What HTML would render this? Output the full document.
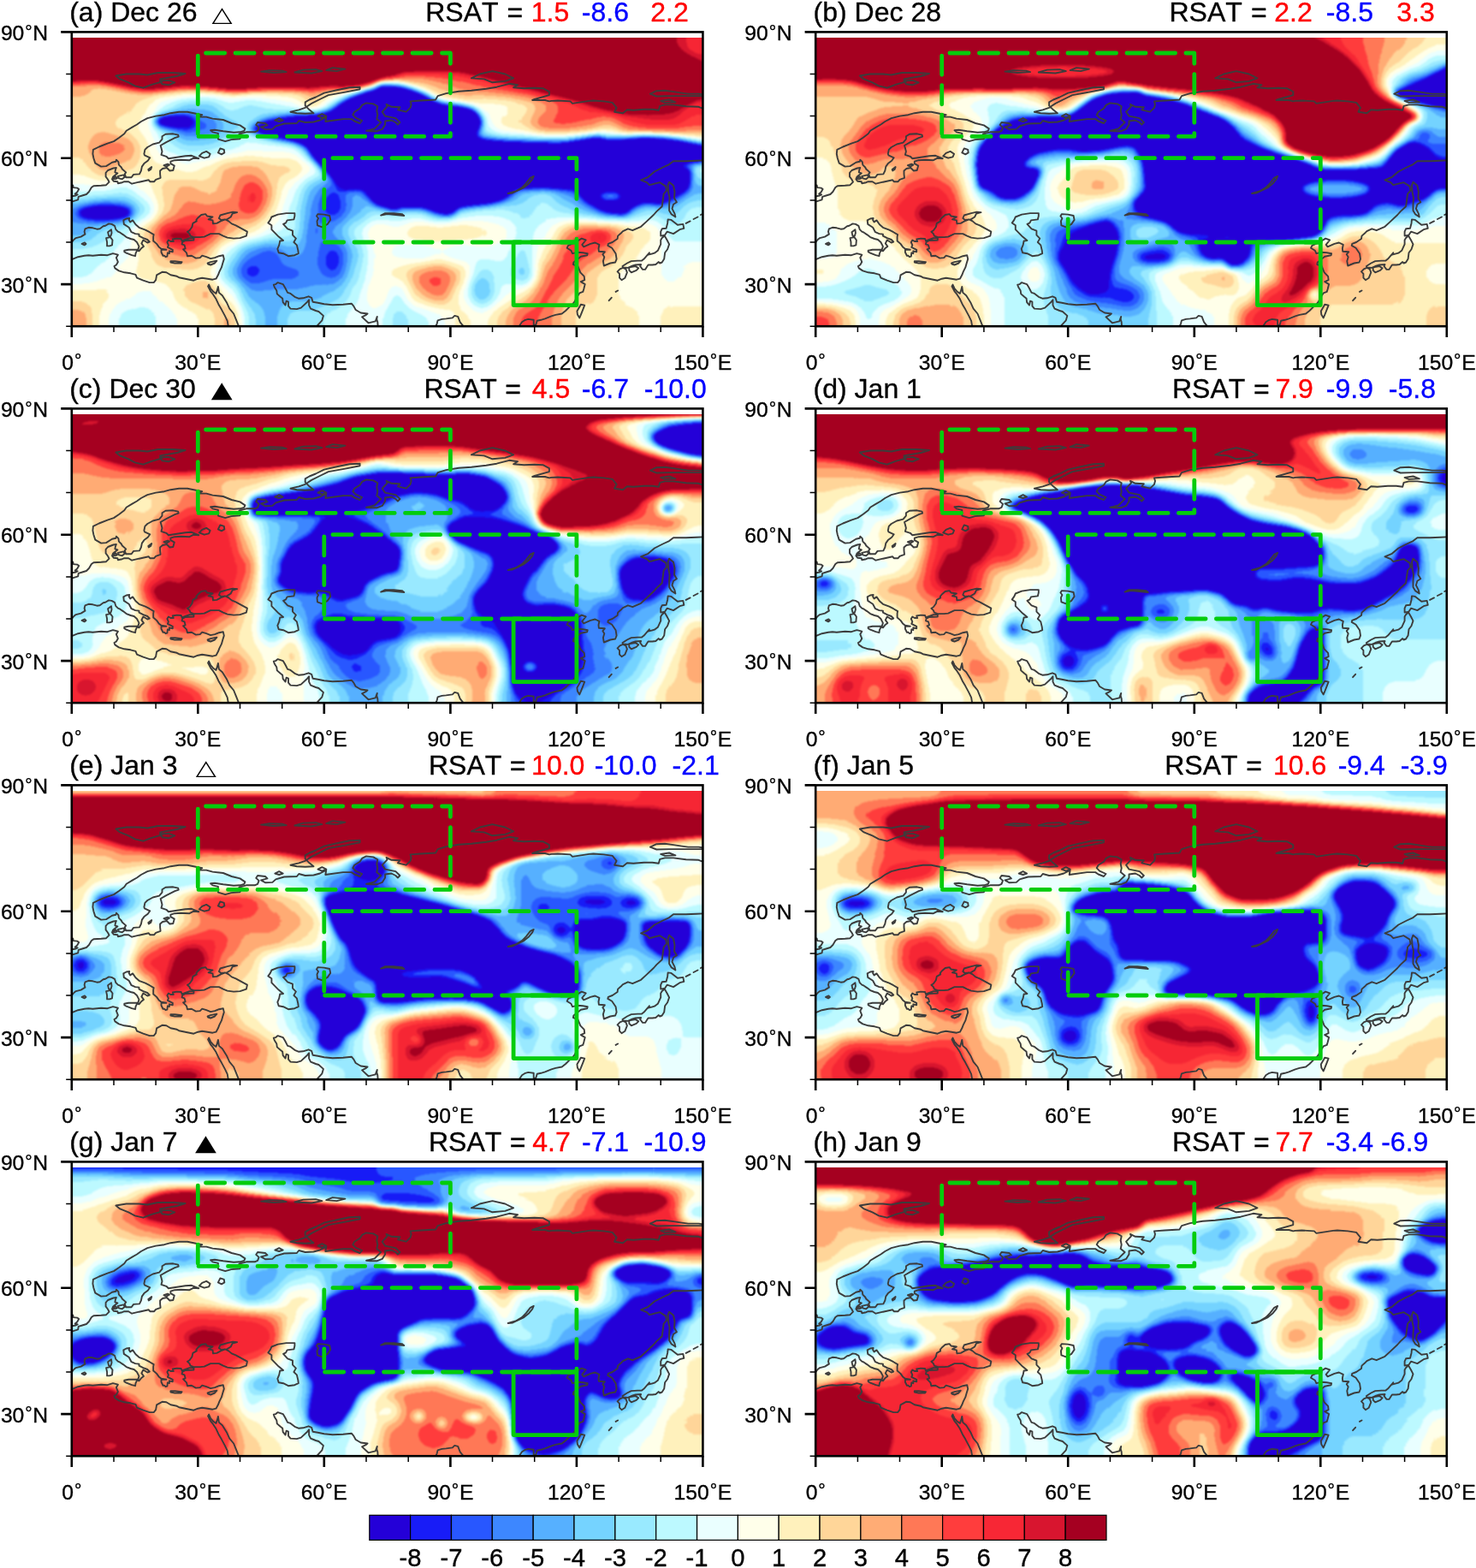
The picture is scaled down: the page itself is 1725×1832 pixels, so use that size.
<!DOCTYPE html>
<html lang="en"><head><meta charset="utf-8"><title>RSAT anomaly maps</title>
<style>
html,body{margin:0;padding:0;background:#fff;}
body{width:1725px;height:1832px;overflow:hidden;}
svg{display:block;}
text{font-family:"Liberation Sans",Arial,Helvetica,sans-serif;fill:#000;stroke:#000;stroke-width:0.35px;}
.tt{font-size:32px;font-kerning:none;}
.tr{font-family:"DejaVu Sans","Liberation Sans",sans-serif;stroke:none;}
.tk{font-size:24.7px;}
.dg{font-size:21px;}
.cb{font-size:29.2px;}
.r{fill:#ff0000;stroke:#ff0000;}.b{fill:#0000ff;stroke:#0000ff;}
.fr{fill:none;stroke:#000;stroke-width:2.6;}
.mj{stroke:#000;stroke-width:2.6;}
.mn{stroke:#000;stroke-width:1.5;}
.gd{fill:none;stroke:#04cc0c;stroke-width:4.8;stroke-dasharray:22.2 12.3;stroke-dashoffset:33.8;stroke-linecap:round;stroke-linejoin:round;}
.gs{fill:none;stroke:#04cc0c;stroke-width:4.8;stroke-linejoin:round;}
.cst{fill:none;stroke:#3c3c3c;stroke-width:1.9;stroke-linejoin:round;stroke-linecap:round;}
</style></head><body>
<svg width="1725" height="1832" viewBox="0 0 1725 1832">
<defs>
<filter id="gblur" filterUnits="userSpaceOnUse" x="-60" y="-60" width="857" height="463" color-interpolation-filters="sRGB"><feGaussianBlur stdDeviation="7.5"/></filter>
<filter id="fld" filterUnits="userSpaceOnUse" x="-60" y="-60" width="857" height="463" color-interpolation-filters="sRGB">
<feGaussianBlur stdDeviation="4.0"/>
<feComponentTransfer><feFuncR type="discrete" tableValues="0.1412 0.1412 0.1412 0.1412 0.1412 0.0941 0.1569 0.2392 0.3373 0.4588 0.6000 0.7373 0.9176 1.0000 1.0000 1.0000 1.0000 1.0000 1.0000 0.9686 0.8471 0.6471 0.6471 0.6471 0.6471 0.6471"/><feFuncG type="discrete" tableValues="0.0000 0.0000 0.0000 0.0000 0.0000 0.1098 0.3412 0.5294 0.6902 0.8275 0.9176 0.9765 1.0000 1.0000 0.9451 0.8392 0.6745 0.4706 0.2392 0.1529 0.0824 0.0000 0.0000 0.0000 0.0000 0.0000"/><feFuncB type="discrete" tableValues="0.8471 0.8471 0.8471 0.8471 0.8471 0.9686 1.0000 1.0000 1.0000 1.0000 1.0000 1.0000 1.0000 0.9176 0.7373 0.6000 0.4588 0.3373 0.2392 0.2078 0.1843 0.1294 0.1294 0.1294 0.1294 0.1294"/><feFuncA type="discrete" tableValues="1 1"/></feComponentTransfer>
<feGaussianBlur stdDeviation="1.1"/>
</filter>
<clipPath id="cp"><rect x="0" y="6.6" width="737.6" height="337.2"/></clipPath>
<path id="coast" class="cst" d="M-2.5 199.9L1 197.9L7.4 196L7.9 192.5L12.3 191.1L17.2 189.6L20.2 186.6L23.1 181.7L25.6 179.8L34.4 179.3L40.3 178.8L42.3 176.8L43.8 175.3L42.3 172.4L39.8 169L39.8 164.5L42.3 161.6L48.7 159.1L52.1 158.6L51.1 161.1L50.6 164L53.6 165L50.2 167.5L48.2 169.4L47.2 171.9L49.2 174.4L53.6 174.8L54.1 176.8L59 175.8L61.5 174.8L66.4 174.8L70.3 177.3L78.7 175.3L90 172.9L91.5 174.8L96.4 174.8L98.3 172.4L103.8 170.4L103.3 166L103.3 162.1L106.2 159.6L111.1 158.6L114.6 162.1L118.5 161.6L120 156.2L115.6 153.7L115.6 151.3L120.5 149.8L127.9 149.3L137.7 149.8L142.6 147.3L148.5 147.8L145.1 146.4L140.1 144.4L132.8 144.9L122.9 146.4L113.1 147.8L110.6 145.4L104.7 143.4L105.7 139.5L104.7 135.6L103.8 132.6L110.6 128.7L120.5 123.8L124.9 122.3L124.4 120.3L118.5 118.9L109.7 119.3L105.7 121.8L105.7 125.2L102.3 129.2L94.9 131.1L88.5 134.6L85.6 137.5L84.6 142.4L85.1 143.9L91.5 146.9L89 150.3L84.6 153.7L82.1 157.2L81.1 162.1L79.2 166L72.3 166.5L69.8 169.9L63.4 169.9L62 166L63.4 164L59 160.1L58 158.1L55.1 155.2L54.6 151.8L52.1 149.3L51.6 151.3L47.2 152.3L40.3 156.7L34.4 157.2L27.5 153.2L25.6 147.3L24.6 142.4L25.1 137.5L32 134.1L41.8 130.2L49.2 127.7L55.6 123.3L61.5 118.9L63.9 115.4L70.3 111.5L76.2 108.1L81.1 104.6L88.5 100.7L98.3 98.2L108.2 96.8L115.6 94.8L125.4 93.3L135.2 93.3L140.1 94.3L147.5 95.8L152.4 96.8L147.5 99.2L157.4 99.2L164.7 101.2L177 102.6L186.9 106.6L196.7 109L202.6 113L201.6 115.4L196.7 116.9L189.3 117.4L177 115.9L167.2 114.4L162.3 114.9L164.7 116.9L171.1 118.4L171.1 125.2L179.5 127.7L186.4 125.7L196.7 124.8L198.2 121.3L195.7 119.3L204.1 116.9L213.9 116.9L217.3 115.4L218.8 111.5L215.4 108.5L217.3 105.6L226.2 106.6L228.7 109L221.3 111L226.2 113.9L234.6 113.5L238.5 110L248.3 107.1L263.1 106.6L265.5 103.6L272.9 105.6L282.7 105.1L290.1 103.1L297.5 99.2L296.5 104.6L300 104.1L317.2 101.7L327 101.7L330.4 104.1L336.8 106.6L339.3 103.6L331.9 100.2L328.5 96.8L330.4 93.3L336.8 89.4L339.3 85.5L344.2 83L352.6 84L357.5 86.9L356.5 91.8L357.5 96.8L356.5 101.7L361.4 105.6L354 113L344.2 115.4L349.1 115.9L356.5 115.9L362.9 113.5L366.3 108.1L366.3 104.1L373.7 103.1L378.6 105.6L381.1 108.1L383.6 105.6L378.6 100.7L366.3 98.2L362.9 93.3L368.8 86.9L367.8 84.5L373.7 87.4L383.6 87.9L381.1 90.9L390.9 93.3L395.8 88.4L396.8 84.5L395.8 81L408.1 80.1L425.3 79.1L427.8 74.7L437.6 71.7L452.4 69.3L467.1 68.3L484.4 66.3L496.7 64.3L511.4 60.4L521.2 61.9L516.3 64.8L528.6 65.8L540.9 65.3L550.7 65.8L558.1 69.7L558.1 73.7L540.9 78.6L538.4 79.6L553.2 79.6L558.1 81L560.6 80.5L568 80.1L582.7 81L585.2 83.5L604.8 80.5L609.7 80.1L622 81L631.9 82.5L636.8 88.4L634.3 93.3L644.2 94.8L649.1 90.9L656.5 91.4L668.8 90.4L678.6 90.4L686 91.4L687.4 86.4L693.3 85L703.2 85L717.9 86.9L732.7 87.4L742.5 91.4M742.5 149.8L730.2 150.3L717.9 150.8L703.2 150.8L698.3 154.7L690.9 158.1L681.1 163.1L673.7 169.4L665.3 172.9L672.2 175.8L675.1 178.8L681.1 177.3L687.4 175.8L694.3 180.2L695.3 185.2L691.9 189.1L690.9 196.5L689.9 203.8L683.5 209.7L680.1 213.6L671.2 222L665.3 227.4L655.5 231.8L650.1 229.9L644.2 232.8L642.7 234.3L638.3 238.2L637.8 241.6L631.9 245.6L627 247.5L626.5 249.5L631.4 252.4L635.8 258.8L636.8 265.2L635.3 269.1L629.4 270.1L622 273.1L621.1 267.7L622.5 262.8L620.6 259.8L623 256.9L616.1 256.4L615.7 252.9L616.6 248.5L611.7 246.1L606.3 247.5L598.4 251L596.5 248.5L600.9 243.1L596 241.2L588.1 246.1L580.2 249.5L578.8 252.4L583.7 255.4L585.2 258.8L591.1 257.4L597.5 257.9L602.9 258.8L602.4 260.8L595 262.3L591.6 265.2L586.6 269.1L586.1 271.6L591.6 273.6L594.5 280.9L598.9 285.4L599.4 289.8L595 291.7L599.9 294.7L598.4 300.6L597.5 303.5L593.5 305L590.1 310.4L587.6 315.3L585.2 318.3L581.2 321.7L577.3 325.6L572.9 329.1L565.5 330.5L560.6 332L558.1 333L553.2 335L548.3 336.4L543.9 337.4L542.4 342.3L539.9 342.3L539.9 336.4L533.5 335.5L530.1 336.4L526.2 338.9L524.2 341.8L521.2 346.3M459.8 346.3L453.9 338.9L451.4 332.5L447.5 331.5L445 334L437.6 335L432.7 335.5L427.8 336.9L426.8 340.9L424.4 345.8M358 346.3L357.5 338.9L356.5 335.5L357 332.5L355 337.9L346.7 339.9L339.3 333L344.2 330.5L345.7 329.1L337.8 328.1L331.9 324.6L329.5 320.2L327 317.3L317.2 318.3L304.9 318.8L295 317.8L287.7 316.3L281.8 315.3L280.3 310.4L276.8 308.9L270.5 310.9L265.5 311.4L260.6 309.4L255.7 305.5L252.3 304.5L249.3 298.6L246.9 294.7L240.9 292.7L238.5 294.7L236 295.2L237 298.1L239.5 302.1L240 306L243.9 309.4L246.4 311.4L246.9 315.8L249.8 319.2L250.8 314.3L253.2 315.3L253.2 320.2L255.7 323.2L263.1 323.7L268 322.2L275.4 315.3L277.3 312.9L277.3 319.2L279.3 323.2L285.2 325.6L288.6 326.6L294.1 331.5L292.6 336.9L288.2 341.8L284.2 346.3M196.2 346.3L192.3 336.4L189.3 329.1L184.4 323.2L181 315.8L176 307.9L172.1 304.5L171.1 297.6L169.6 303L168.7 305.5L165.2 303L162.3 299.6L160.3 295.2L159.3 297.1L162.3 303L165.2 306.5L168.7 311.9L172.1 319.2L175.1 324.2L179 331.5L181.9 337.4L183.4 346.3M158.8 288.3L152.4 287.3L147.5 288.3L142.6 290.3L135.2 288.8L125.4 286.8L122.9 285.4L115.6 283.9L110.6 280.9L105.7 280.4L99.3 283.9L98.3 289.8L95.9 292.7L91 292.7L83.6 290.3L76.2 287.3L74.7 283.4L68.8 281.9L61.5 280.9L55.1 279L50.6 276L49.7 273.6L52.1 272.1L54.1 268.7L52.1 263.7L54.1 260.3L50.2 259.3L48.2 258.8L41.8 260.8L34.4 260.3L29.5 260.8L24.6 261.3L19.7 260.8L14.8 261.3L7.4 262.8L-2.5 266.7M158.8 288.3L164.7 289.3L168.7 288.3L171.1 283.9L172.6 280L175.1 275L176.5 270.1L178 265.2L177 260.8L172.1 261.8L167.2 263.7L162.3 264.7L157.4 262.8L152.4 261.3L150 263.7L145.1 264.2L140.1 261.3L135.2 261.8L134.2 257.9L130.3 253.9L132.8 252.9L131.8 249L128.8 248L129.3 245.6L132.8 243.6L142.6 243.1L142.6 240.7L143.6 239.7L150 239.7L154.9 239.2L162.3 235.7L172.1 235.7L177 238.2L181.9 240.2L189.3 241.2L196.7 240.7L204.1 238.2L205.1 233.3L198.2 229.4L191.8 225.9L186.9 224L183.4 221L180.5 219.5L185.9 216.1L187.8 212.2L193.3 210.7L188.3 210.2L181.9 211.7L173.6 214.1L172.1 217.6L174.6 219.5L179.5 219L174.1 221L169.6 223.5L165.2 224L164.7 220L159.8 219L164.7 216.1L158.3 215.1L156.4 212.7L151.5 213.6L147.5 217.1L145.6 219.5L146 221L141.6 223.5L140.6 227.9L137.7 231.8L135.2 233.3L137.7 235.7L138.7 238.2L142.6 239.7M142.6 240.7L137.7 240.7L132.8 242.6L128.8 244.1L127.9 241.6L122.9 241.2L118 242.1L119 244.6L115.6 244.6L113.1 243.1L111.6 245.6L113.1 249L112.1 251.5L118 254.4L118 256.9L114.1 255.9L114.1 258.8L112.1 257.9L111.6 262.3L109.7 262.8L108.2 261.3L106.7 261.3L104.7 257.4L104.7 254.4L110.6 254.4L104.7 253.4L101.8 251L99.3 247.5L95.4 244.1L95.4 239.2L95.9 236.7L91 233.8L86.1 231.3L78.7 228.4L74.7 224.9L71.3 220L68.4 222L66.9 219.5L67.4 217.6L63.9 218.1L60.5 220L61 224.5L66.9 228.4L69.8 233.8L74.3 235.7L78.7 236.2L78.7 238.2L83.6 240.7L88.5 242.6L91 245.1L88.5 246.1L83.6 243.1L81.6 247L84.1 250.5L81.1 252.9L78.7 255.9L77.2 255.4L78.7 250.5L76.2 245.6L72.8 242.6L68.8 241.6L63.9 239.7L60 236.7L56.5 234.3L54.1 233.3L51.6 230.8L50.2 226.4L46.7 224.5L43.3 224L39.3 226.4L36.9 226.9L32.9 229.9L29.5 230.3L24.6 228.9L19.7 228.4L15.7 229.9L14.8 233.3L15.7 236.2L10.8 239.2L4.9 240.7L2.5 242.6L-1.5 247.5M233.6 216.1L240.9 213.2L250.8 211.7L260.6 211.7L260.6 215.1L259.6 219L251.8 220L250.3 223L247.3 224.5L252.3 229.9L258.2 232.3L258.2 237.2L262.1 241.2L259.6 245.6L263.1 249L264.6 255.4L265 258.8L260.6 260.8L253.2 261.8L247.3 258.8L241.9 257.9L240.5 253.4L242.4 249L243.4 244.1L247.3 243.6L241.9 239.2L237.5 234.8L233.6 230.8L233.6 225.9L229.6 223L232.1 219.5ZM287.7 212.7L295 213.2L301.4 214.6L302.4 219.5L299 224.5L292.6 227.9L287.2 225.9L286.7 221L288.2 217.6L286.2 215.1ZM509.9 188.6L515.3 188.1L521.2 185.2L528.6 181.7L534.5 176.8L538.4 171.9L539.9 168.5L536 170.4L531.1 176.8L526.2 181.7L518.8 186.1ZM361.4 214.1L368.8 212.7L378.6 213.6L388.5 214.6L386 212.7L376.2 211.7L366.3 211.7ZM149 144.9L152.4 141.4L157.4 139.5L161.8 142.4L160.3 145.9L154.9 147.3ZM171.1 141L173.6 136L178 137.5L178.5 141L175.1 142.9ZM-2.5 192.5L4.9 191.1L6.9 190.1L3.9 189.1L6.4 187.1L8.4 183.7L6.4 182.2L2 181.7L1.5 179.3L-2.5 177.8M51.6 51.1L63.9 49.1L78.7 49.1L88.5 50.1L100.8 47.6L118 47.6L132.8 48.6L122.9 51.6L103.3 55L105.7 58L93.4 61.4L83.6 65.3L73.8 62.9L66.4 58.9L56.5 55ZM103.3 57L113.1 56.5L120.5 58.9L113.1 61.9L105.7 60.9ZM221.3 46.2L231.1 44.7L245.9 45.2L250.8 46.7L236 47.6ZM260.6 47.1L270.5 44.2L285.2 43.7L292.6 45.7L280.3 48.1ZM297.5 44.7L304.9 41.7L319.6 43.2L309.8 45.7ZM255.7 93.3L263.1 94.8L272.9 95.3L282.7 94.8L277.8 90.9L272.9 86L272.9 82L277.8 79.1L285.2 76.1L295 71.2L309.8 67.8L324.5 64.8L336.8 64.3L336.8 66.8L319.6 70.2L300 73.7L290.1 78.6L280.3 83.5L272.9 88.4L265.5 90.9ZM467.1 54L477 49.1L491.7 45.7L506.5 49.1L516.3 54L506.5 57.5L491.7 58.9L481.9 55ZM676.1 72.2L683.5 68.8L693.3 68.3L703.2 69.7L713 71.2L720.4 72.2L732.7 72.2L742.5 73.7L742.5 74.7L717.9 74.7L698.3 74.7L683.5 75.1ZM688.4 80.5L698.3 79.1L705.6 82L693.3 82.5ZM237.5 103.1L242.4 100.7L246.9 103.1L242.4 104.6ZM287.7 98.2L292.6 95.8L297.5 98.2L292.6 100.2ZM698.3 175.3L703.2 179.3L704.7 186.6L704.2 194L707.1 198.9L703.2 201.4L701.7 206.3L704.7 212.2L705.6 216.1L700.7 212.7L698.3 208.7L698.3 201.4L698.8 194L697.3 186.6L696.8 179.3ZM688.4 238.2L693.3 237.2L695.8 233.3L703.2 235.7L710.6 230.8L715.5 229.4L714.5 224.5L708.1 225.4L700.7 219.5L696.8 219L696.3 223.5L694.8 229.4L689.9 229.9L688.4 233.3ZM717.9 223.5L722.8 221M726.8 218.6L731.7 216.1M735.1 213.6L740.1 211.2M692.9 238.2L695.8 243.1L698.3 248L696.3 253.9L693.3 257.9L692.4 265.2L689.9 269.1L687.4 270.1L686 268.7L682.5 271.6L678.6 272.1L673.7 272.1L672.7 273.6L670.2 277.5L667.3 277.5L664.3 273.6L665.3 271.6L658.9 272.1L654 273.6L650.1 275.5L644.2 275L643.7 273.6L649.1 270.1L654 267.7L661.4 267.2L666.3 267.2L668.8 265.2L672.2 261.3L675.1 257.9L673.7 260.3L681.1 258.3L685 255.4L688.4 248L688.4 243.1L689.9 240.7ZM644.2 275.5L647.6 277L649.1 280.9L646.6 287.3L642.7 289.8L640.2 287.3L640.2 282.4L637.8 280L640.7 277ZM651.5 275L658.9 273.6L662.4 276L659.9 278.5L654 280.9L651.5 278.5ZM635.8 303.5L638.3 302.1M627.9 313.8L630.9 310.4M595 318.3L599.4 319.2L597.5 324.2L595 330.5L593.5 334L591.1 330L590.6 326.1L593.5 321.2ZM535 346.7L538.4 344.3L542.9 343.3L545.8 345.3M61.5 255.4L66.4 254.4L73.8 254.4L76.7 254.4L74.7 258.8L74.3 261.8L70.3 260.8L63.9 258.3L61.5 256.9ZM40.3 240.7L45.2 239.7L47.7 243.1L47.2 249L44.3 250L41.3 250L41.3 245.6ZM42.3 233.8L46.2 230.8L46.7 234.8L45.7 238.2L43.3 238.2ZM115.6 267.7L120.5 267.7L128.8 268.7L127.9 270.1L120.5 270.1L115.6 269.1ZM158.8 270.1L162.3 268.7L169.6 267.2L167.2 270.1L162.3 272.1L159.3 271.1ZM11.8 247.5L15.2 246.1L16.7 247.5L14.8 249ZM54.1 168.5L60.5 167L62 169.4L59 171.9L55.1 170.9ZM48.2 170.9L51.6 169L53.1 170.9L50.6 171.9ZM89.5 160.6L93.4 157.7L92.4 160.6L90 162.1ZM107.7 155.7L112.1 154.2L114.1 155.2L110.6 157.2Z"/>
</defs>
<rect width="1725" height="1832" fill="#fff"/>
<!-- panel a -->
<g transform="translate(83.8 37.4)">
<g clip-path="url(#cp)"><g filter="url(#fld)">
<g filter="url(#gblur)">
<rect x="-40" y="-40" width="753.3" height="64.9" fill="#d3d3d3"/>
<rect x="713" y="-40" width="64.9" height="64.9" fill="#bfbfbf"/>
<rect x="-40" y="24.6" width="753.3" height="24.9" fill="#d3d3d3"/>
<rect x="713" y="24.6" width="64.9" height="24.9" fill="#c9c9c9"/>
<rect x="-40" y="49.1" width="64.9" height="24.9" fill="#a2a2a2"/>
<rect x="24.6" y="49.1" width="49.5" height="24.9" fill="#989898"/>
<rect x="73.8" y="49.1" width="24.9" height="24.9" fill="#a2a2a2"/>
<rect x="98.3" y="49.1" width="49.5" height="24.9" fill="#acacac"/>
<rect x="147.5" y="49.1" width="123.2" height="24.9" fill="#a2a2a2"/>
<rect x="270.5" y="49.1" width="74.1" height="24.9" fill="#acacac"/>
<rect x="344.2" y="49.1" width="74.1" height="24.9" fill="#989898"/>
<rect x="418" y="49.1" width="24.9" height="24.9" fill="#a2a2a2"/>
<rect x="442.6" y="49.1" width="24.9" height="24.9" fill="#acacac"/>
<rect x="467.1" y="49.1" width="24.9" height="24.9" fill="#b5b5b5"/>
<rect x="491.7" y="49.1" width="24.9" height="24.9" fill="#bfbfbf"/>
<rect x="516.3" y="49.1" width="24.9" height="24.9" fill="#c9c9c9"/>
<rect x="540.9" y="49.1" width="237" height="24.9" fill="#d3d3d3"/>
<rect x="-40" y="73.7" width="114.1" height="24.9" fill="#989898"/>
<rect x="73.8" y="73.7" width="24.9" height="24.9" fill="#8e8e8e"/>
<rect x="98.3" y="73.7" width="24.9" height="24.9" fill="#717171"/>
<rect x="122.9" y="73.7" width="49.5" height="24.9" fill="#5d5d5d"/>
<rect x="172.1" y="73.7" width="24.9" height="24.9" fill="#717171"/>
<rect x="196.7" y="73.7" width="24.9" height="24.9" fill="#676767"/>
<rect x="221.3" y="73.7" width="24.9" height="24.9" fill="#717171"/>
<rect x="245.9" y="73.7" width="24.9" height="24.9" fill="#7b7b7b"/>
<rect x="270.5" y="73.7" width="24.9" height="24.9" fill="#989898"/>
<rect x="295" y="73.7" width="24.9" height="24.9" fill="#676767"/>
<rect x="319.6" y="73.7" width="74.1" height="24.9" fill="#2c2c2c"/>
<rect x="393.4" y="73.7" width="24.9" height="24.9" fill="#535353"/>
<rect x="418" y="73.7" width="24.9" height="24.9" fill="#848484"/>
<rect x="442.6" y="73.7" width="24.9" height="24.9" fill="#8e8e8e"/>
<rect x="467.1" y="73.7" width="49.5" height="24.9" fill="#848484"/>
<rect x="516.3" y="73.7" width="24.9" height="24.9" fill="#8e8e8e"/>
<rect x="540.9" y="73.7" width="24.9" height="24.9" fill="#a2a2a2"/>
<rect x="565.5" y="73.7" width="24.9" height="24.9" fill="#b5b5b5"/>
<rect x="590.1" y="73.7" width="24.9" height="24.9" fill="#bfbfbf"/>
<rect x="614.7" y="73.7" width="24.9" height="24.9" fill="#c9c9c9"/>
<rect x="639.3" y="73.7" width="74.1" height="24.9" fill="#d3d3d3"/>
<rect x="713" y="73.7" width="64.9" height="24.9" fill="#bfbfbf"/>
<rect x="-40" y="98.2" width="89.5" height="24.9" fill="#989898"/>
<rect x="49.2" y="98.2" width="24.9" height="24.9" fill="#8e8e8e"/>
<rect x="73.8" y="98.2" width="24.9" height="24.9" fill="#848484"/>
<rect x="98.3" y="98.2" width="24.9" height="24.9" fill="#676767"/>
<rect x="122.9" y="98.2" width="24.9" height="24.9" fill="#363636"/>
<rect x="147.5" y="98.2" width="24.9" height="24.9" fill="#404040"/>
<rect x="172.1" y="98.2" width="24.9" height="24.9" fill="#5d5d5d"/>
<rect x="196.7" y="98.2" width="24.9" height="24.9" fill="#676767"/>
<rect x="221.3" y="98.2" width="24.9" height="24.9" fill="#4a4a4a"/>
<rect x="245.9" y="98.2" width="221.6" height="24.9" fill="#2c2c2c"/>
<rect x="467.1" y="98.2" width="24.9" height="24.9" fill="#717171"/>
<rect x="491.7" y="98.2" width="24.9" height="24.9" fill="#8e8e8e"/>
<rect x="516.3" y="98.2" width="24.9" height="24.9" fill="#989898"/>
<rect x="540.9" y="98.2" width="49.5" height="24.9" fill="#b5b5b5"/>
<rect x="590.1" y="98.2" width="24.9" height="24.9" fill="#acacac"/>
<rect x="614.7" y="98.2" width="24.9" height="24.9" fill="#989898"/>
<rect x="639.3" y="98.2" width="24.9" height="24.9" fill="#b5b5b5"/>
<rect x="663.8" y="98.2" width="49.5" height="24.9" fill="#bfbfbf"/>
<rect x="713" y="98.2" width="64.9" height="24.9" fill="#b5b5b5"/>
<rect x="-40" y="122.8" width="64.9" height="24.9" fill="#989898"/>
<rect x="24.6" y="122.8" width="49.5" height="24.9" fill="#acacac"/>
<rect x="73.8" y="122.8" width="24.9" height="24.9" fill="#8e8e8e"/>
<rect x="98.3" y="122.8" width="24.9" height="24.9" fill="#717171"/>
<rect x="122.9" y="122.8" width="49.5" height="24.9" fill="#676767"/>
<rect x="172.1" y="122.8" width="24.9" height="24.9" fill="#717171"/>
<rect x="196.7" y="122.8" width="74.1" height="24.9" fill="#7b7b7b"/>
<rect x="270.5" y="122.8" width="24.9" height="24.9" fill="#4a4a4a"/>
<rect x="295" y="122.8" width="172.4" height="24.9" fill="#2c2c2c"/>
<rect x="467.1" y="122.8" width="74.1" height="24.9" fill="#404040"/>
<rect x="540.9" y="122.8" width="49.5" height="24.9" fill="#363636"/>
<rect x="590.1" y="122.8" width="24.9" height="24.9" fill="#2c2c2c"/>
<rect x="614.7" y="122.8" width="24.9" height="24.9" fill="#363636"/>
<rect x="639.3" y="122.8" width="24.9" height="24.9" fill="#4a4a4a"/>
<rect x="663.8" y="122.8" width="49.5" height="24.9" fill="#404040"/>
<rect x="713" y="122.8" width="64.9" height="24.9" fill="#5d5d5d"/>
<rect x="-40" y="147.3" width="64.9" height="24.9" fill="#8e8e8e"/>
<rect x="24.6" y="147.3" width="24.9" height="24.9" fill="#a2a2a2"/>
<rect x="49.2" y="147.3" width="24.9" height="24.9" fill="#989898"/>
<rect x="73.8" y="147.3" width="49.5" height="24.9" fill="#8e8e8e"/>
<rect x="122.9" y="147.3" width="24.9" height="24.9" fill="#848484"/>
<rect x="147.5" y="147.3" width="24.9" height="24.9" fill="#8e8e8e"/>
<rect x="172.1" y="147.3" width="49.5" height="24.9" fill="#a2a2a2"/>
<rect x="221.3" y="147.3" width="49.5" height="24.9" fill="#989898"/>
<rect x="270.5" y="147.3" width="24.9" height="24.9" fill="#848484"/>
<rect x="295" y="147.3" width="24.9" height="24.9" fill="#5d5d5d"/>
<rect x="319.6" y="147.3" width="24.9" height="24.9" fill="#535353"/>
<rect x="344.2" y="147.3" width="24.9" height="24.9" fill="#404040"/>
<rect x="368.8" y="147.3" width="319.9" height="24.9" fill="#2c2c2c"/>
<rect x="688.4" y="147.3" width="24.9" height="24.9" fill="#535353"/>
<rect x="713" y="147.3" width="64.9" height="24.9" fill="#717171"/>
<rect x="-40" y="171.9" width="89.5" height="24.9" fill="#7b7b7b"/>
<rect x="49.2" y="171.9" width="24.9" height="24.9" fill="#717171"/>
<rect x="73.8" y="171.9" width="24.9" height="24.9" fill="#848484"/>
<rect x="98.3" y="171.9" width="24.9" height="24.9" fill="#989898"/>
<rect x="122.9" y="171.9" width="24.9" height="24.9" fill="#a2a2a2"/>
<rect x="147.5" y="171.9" width="24.9" height="24.9" fill="#989898"/>
<rect x="172.1" y="171.9" width="24.9" height="24.9" fill="#a2a2a2"/>
<rect x="196.7" y="171.9" width="24.9" height="24.9" fill="#b5b5b5"/>
<rect x="221.3" y="171.9" width="24.9" height="24.9" fill="#989898"/>
<rect x="245.9" y="171.9" width="24.9" height="24.9" fill="#7b7b7b"/>
<rect x="270.5" y="171.9" width="24.9" height="24.9" fill="#535353"/>
<rect x="295" y="171.9" width="24.9" height="24.9" fill="#404040"/>
<rect x="319.6" y="171.9" width="24.9" height="24.9" fill="#535353"/>
<rect x="344.2" y="171.9" width="24.9" height="24.9" fill="#363636"/>
<rect x="368.8" y="171.9" width="147.8" height="24.9" fill="#2c2c2c"/>
<rect x="516.3" y="171.9" width="24.9" height="24.9" fill="#5d5d5d"/>
<rect x="540.9" y="171.9" width="24.9" height="24.9" fill="#676767"/>
<rect x="565.5" y="171.9" width="24.9" height="24.9" fill="#4a4a4a"/>
<rect x="590.1" y="171.9" width="24.9" height="24.9" fill="#363636"/>
<rect x="614.7" y="171.9" width="24.9" height="24.9" fill="#535353"/>
<rect x="639.3" y="171.9" width="24.9" height="24.9" fill="#404040"/>
<rect x="663.8" y="171.9" width="49.5" height="24.9" fill="#2c2c2c"/>
<rect x="713" y="171.9" width="64.9" height="24.9" fill="#535353"/>
<rect x="-40" y="196.5" width="64.9" height="24.9" fill="#4a4a4a"/>
<rect x="24.6" y="196.5" width="24.9" height="24.9" fill="#363636"/>
<rect x="49.2" y="196.5" width="24.9" height="24.9" fill="#404040"/>
<rect x="73.8" y="196.5" width="24.9" height="24.9" fill="#676767"/>
<rect x="98.3" y="196.5" width="24.9" height="24.9" fill="#989898"/>
<rect x="122.9" y="196.5" width="74.1" height="24.9" fill="#acacac"/>
<rect x="196.7" y="196.5" width="24.9" height="24.9" fill="#b5b5b5"/>
<rect x="221.3" y="196.5" width="24.9" height="24.9" fill="#8e8e8e"/>
<rect x="245.9" y="196.5" width="24.9" height="24.9" fill="#717171"/>
<rect x="270.5" y="196.5" width="24.9" height="24.9" fill="#4a4a4a"/>
<rect x="295" y="196.5" width="24.9" height="24.9" fill="#363636"/>
<rect x="319.6" y="196.5" width="24.9" height="24.9" fill="#535353"/>
<rect x="344.2" y="196.5" width="74.1" height="24.9" fill="#676767"/>
<rect x="418" y="196.5" width="24.9" height="24.9" fill="#4a4a4a"/>
<rect x="442.6" y="196.5" width="24.9" height="24.9" fill="#676767"/>
<rect x="467.1" y="196.5" width="49.5" height="24.9" fill="#717171"/>
<rect x="516.3" y="196.5" width="24.9" height="24.9" fill="#676767"/>
<rect x="540.9" y="196.5" width="24.9" height="24.9" fill="#717171"/>
<rect x="565.5" y="196.5" width="24.9" height="24.9" fill="#676767"/>
<rect x="590.1" y="196.5" width="24.9" height="24.9" fill="#535353"/>
<rect x="614.7" y="196.5" width="24.9" height="24.9" fill="#363636"/>
<rect x="639.3" y="196.5" width="24.9" height="24.9" fill="#535353"/>
<rect x="663.8" y="196.5" width="24.9" height="24.9" fill="#676767"/>
<rect x="688.4" y="196.5" width="24.9" height="24.9" fill="#5d5d5d"/>
<rect x="713" y="196.5" width="64.9" height="24.9" fill="#717171"/>
<rect x="-40" y="221" width="64.9" height="24.9" fill="#535353"/>
<rect x="24.6" y="221" width="24.9" height="24.9" fill="#676767"/>
<rect x="49.2" y="221" width="24.9" height="24.9" fill="#717171"/>
<rect x="73.8" y="221" width="24.9" height="24.9" fill="#989898"/>
<rect x="98.3" y="221" width="24.9" height="24.9" fill="#bfbfbf"/>
<rect x="122.9" y="221" width="24.9" height="24.9" fill="#c9c9c9"/>
<rect x="147.5" y="221" width="24.9" height="24.9" fill="#b5b5b5"/>
<rect x="172.1" y="221" width="24.9" height="24.9" fill="#a2a2a2"/>
<rect x="196.7" y="221" width="24.9" height="24.9" fill="#8e8e8e"/>
<rect x="221.3" y="221" width="24.9" height="24.9" fill="#7b7b7b"/>
<rect x="245.9" y="221" width="24.9" height="24.9" fill="#717171"/>
<rect x="270.5" y="221" width="24.9" height="24.9" fill="#404040"/>
<rect x="295" y="221" width="24.9" height="24.9" fill="#535353"/>
<rect x="319.6" y="221" width="24.9" height="24.9" fill="#717171"/>
<rect x="344.2" y="221" width="24.9" height="24.9" fill="#8e8e8e"/>
<rect x="368.8" y="221" width="24.9" height="24.9" fill="#848484"/>
<rect x="393.4" y="221" width="74.1" height="24.9" fill="#989898"/>
<rect x="467.1" y="221" width="24.9" height="24.9" fill="#8e8e8e"/>
<rect x="491.7" y="221" width="24.9" height="24.9" fill="#848484"/>
<rect x="516.3" y="221" width="24.9" height="24.9" fill="#717171"/>
<rect x="540.9" y="221" width="24.9" height="24.9" fill="#7b7b7b"/>
<rect x="565.5" y="221" width="24.9" height="24.9" fill="#989898"/>
<rect x="590.1" y="221" width="24.9" height="24.9" fill="#b5b5b5"/>
<rect x="614.7" y="221" width="24.9" height="24.9" fill="#bfbfbf"/>
<rect x="639.3" y="221" width="24.9" height="24.9" fill="#989898"/>
<rect x="663.8" y="221" width="24.9" height="24.9" fill="#8e8e8e"/>
<rect x="688.4" y="221" width="89.5" height="24.9" fill="#717171"/>
<rect x="-40" y="245.6" width="89.5" height="24.9" fill="#717171"/>
<rect x="49.2" y="245.6" width="24.9" height="24.9" fill="#7b7b7b"/>
<rect x="73.8" y="245.6" width="24.9" height="24.9" fill="#8e8e8e"/>
<rect x="98.3" y="245.6" width="24.9" height="24.9" fill="#a2a2a2"/>
<rect x="122.9" y="245.6" width="24.9" height="24.9" fill="#acacac"/>
<rect x="147.5" y="245.6" width="24.9" height="24.9" fill="#989898"/>
<rect x="172.1" y="245.6" width="24.9" height="24.9" fill="#717171"/>
<rect x="196.7" y="245.6" width="24.9" height="24.9" fill="#4a4a4a"/>
<rect x="221.3" y="245.6" width="24.9" height="24.9" fill="#404040"/>
<rect x="245.9" y="245.6" width="24.9" height="24.9" fill="#535353"/>
<rect x="270.5" y="245.6" width="24.9" height="24.9" fill="#4a4a4a"/>
<rect x="295" y="245.6" width="24.9" height="24.9" fill="#363636"/>
<rect x="319.6" y="245.6" width="24.9" height="24.9" fill="#5d5d5d"/>
<rect x="344.2" y="245.6" width="24.9" height="24.9" fill="#848484"/>
<rect x="368.8" y="245.6" width="24.9" height="24.9" fill="#7b7b7b"/>
<rect x="393.4" y="245.6" width="24.9" height="24.9" fill="#717171"/>
<rect x="418" y="245.6" width="24.9" height="24.9" fill="#7b7b7b"/>
<rect x="442.6" y="245.6" width="24.9" height="24.9" fill="#717171"/>
<rect x="467.1" y="245.6" width="49.5" height="24.9" fill="#7b7b7b"/>
<rect x="516.3" y="245.6" width="24.9" height="24.9" fill="#676767"/>
<rect x="540.9" y="245.6" width="24.9" height="24.9" fill="#8e8e8e"/>
<rect x="565.5" y="245.6" width="24.9" height="24.9" fill="#acacac"/>
<rect x="590.1" y="245.6" width="24.9" height="24.9" fill="#b5b5b5"/>
<rect x="614.7" y="245.6" width="24.9" height="24.9" fill="#a2a2a2"/>
<rect x="639.3" y="245.6" width="24.9" height="24.9" fill="#8e8e8e"/>
<rect x="663.8" y="245.6" width="24.9" height="24.9" fill="#848484"/>
<rect x="688.4" y="245.6" width="89.5" height="24.9" fill="#7b7b7b"/>
<rect x="-40" y="270.1" width="64.9" height="24.9" fill="#717171"/>
<rect x="24.6" y="270.1" width="24.9" height="24.9" fill="#7b7b7b"/>
<rect x="49.2" y="270.1" width="24.9" height="24.9" fill="#848484"/>
<rect x="73.8" y="270.1" width="98.6" height="24.9" fill="#8e8e8e"/>
<rect x="172.1" y="270.1" width="24.9" height="24.9" fill="#5d5d5d"/>
<rect x="196.7" y="270.1" width="24.9" height="24.9" fill="#363636"/>
<rect x="221.3" y="270.1" width="49.5" height="24.9" fill="#404040"/>
<rect x="270.5" y="270.1" width="24.9" height="24.9" fill="#4a4a4a"/>
<rect x="295" y="270.1" width="24.9" height="24.9" fill="#404040"/>
<rect x="319.6" y="270.1" width="24.9" height="24.9" fill="#676767"/>
<rect x="344.2" y="270.1" width="24.9" height="24.9" fill="#848484"/>
<rect x="368.8" y="270.1" width="24.9" height="24.9" fill="#8e8e8e"/>
<rect x="393.4" y="270.1" width="24.9" height="24.9" fill="#a2a2a2"/>
<rect x="418" y="270.1" width="24.9" height="24.9" fill="#acacac"/>
<rect x="442.6" y="270.1" width="24.9" height="24.9" fill="#989898"/>
<rect x="467.1" y="270.1" width="24.9" height="24.9" fill="#676767"/>
<rect x="491.7" y="270.1" width="24.9" height="24.9" fill="#717171"/>
<rect x="516.3" y="270.1" width="24.9" height="24.9" fill="#5d5d5d"/>
<rect x="540.9" y="270.1" width="24.9" height="24.9" fill="#a2a2a2"/>
<rect x="565.5" y="270.1" width="24.9" height="24.9" fill="#b5b5b5"/>
<rect x="590.1" y="270.1" width="24.9" height="24.9" fill="#989898"/>
<rect x="614.7" y="270.1" width="24.9" height="24.9" fill="#8e8e8e"/>
<rect x="639.3" y="270.1" width="49.5" height="24.9" fill="#848484"/>
<rect x="688.4" y="270.1" width="24.9" height="24.9" fill="#7b7b7b"/>
<rect x="713" y="270.1" width="64.9" height="24.9" fill="#848484"/>
<rect x="-40" y="294.7" width="89.5" height="24.9" fill="#8e8e8e"/>
<rect x="49.2" y="294.7" width="24.9" height="24.9" fill="#848484"/>
<rect x="73.8" y="294.7" width="24.9" height="24.9" fill="#7b7b7b"/>
<rect x="98.3" y="294.7" width="24.9" height="24.9" fill="#848484"/>
<rect x="122.9" y="294.7" width="24.9" height="24.9" fill="#989898"/>
<rect x="147.5" y="294.7" width="24.9" height="24.9" fill="#a2a2a2"/>
<rect x="172.1" y="294.7" width="24.9" height="24.9" fill="#848484"/>
<rect x="196.7" y="294.7" width="98.6" height="24.9" fill="#535353"/>
<rect x="295" y="294.7" width="24.9" height="24.9" fill="#5d5d5d"/>
<rect x="319.6" y="294.7" width="24.9" height="24.9" fill="#717171"/>
<rect x="344.2" y="294.7" width="24.9" height="24.9" fill="#8e8e8e"/>
<rect x="368.8" y="294.7" width="24.9" height="24.9" fill="#717171"/>
<rect x="393.4" y="294.7" width="24.9" height="24.9" fill="#989898"/>
<rect x="418" y="294.7" width="24.9" height="24.9" fill="#acacac"/>
<rect x="442.6" y="294.7" width="24.9" height="24.9" fill="#848484"/>
<rect x="467.1" y="294.7" width="24.9" height="24.9" fill="#535353"/>
<rect x="491.7" y="294.7" width="24.9" height="24.9" fill="#7b7b7b"/>
<rect x="516.3" y="294.7" width="24.9" height="24.9" fill="#8e8e8e"/>
<rect x="540.9" y="294.7" width="24.9" height="24.9" fill="#b5b5b5"/>
<rect x="565.5" y="294.7" width="49.5" height="24.9" fill="#989898"/>
<rect x="614.7" y="294.7" width="24.9" height="24.9" fill="#8e8e8e"/>
<rect x="639.3" y="294.7" width="138.6" height="24.9" fill="#848484"/>
<rect x="-40" y="319.2" width="64.9" height="64.9" fill="#a2a2a2"/>
<rect x="24.6" y="319.2" width="24.9" height="64.9" fill="#848484"/>
<rect x="49.2" y="319.2" width="49.5" height="64.9" fill="#717171"/>
<rect x="98.3" y="319.2" width="24.9" height="64.9" fill="#7b7b7b"/>
<rect x="122.9" y="319.2" width="24.9" height="64.9" fill="#848484"/>
<rect x="147.5" y="319.2" width="24.9" height="64.9" fill="#8e8e8e"/>
<rect x="172.1" y="319.2" width="24.9" height="64.9" fill="#a2a2a2"/>
<rect x="196.7" y="319.2" width="24.9" height="64.9" fill="#676767"/>
<rect x="221.3" y="319.2" width="24.9" height="64.9" fill="#535353"/>
<rect x="245.9" y="319.2" width="49.5" height="64.9" fill="#676767"/>
<rect x="295" y="319.2" width="24.9" height="64.9" fill="#717171"/>
<rect x="319.6" y="319.2" width="49.5" height="64.9" fill="#7b7b7b"/>
<rect x="368.8" y="319.2" width="24.9" height="64.9" fill="#676767"/>
<rect x="393.4" y="319.2" width="24.9" height="64.9" fill="#717171"/>
<rect x="418" y="319.2" width="24.9" height="64.9" fill="#7b7b7b"/>
<rect x="442.6" y="319.2" width="24.9" height="64.9" fill="#8e8e8e"/>
<rect x="467.1" y="319.2" width="24.9" height="64.9" fill="#848484"/>
<rect x="491.7" y="319.2" width="24.9" height="64.9" fill="#989898"/>
<rect x="516.3" y="319.2" width="24.9" height="64.9" fill="#b5b5b5"/>
<rect x="540.9" y="319.2" width="24.9" height="64.9" fill="#acacac"/>
<rect x="565.5" y="319.2" width="24.9" height="64.9" fill="#989898"/>
<rect x="590.1" y="319.2" width="74.1" height="64.9" fill="#8e8e8e"/>
<rect x="663.8" y="319.2" width="24.9" height="64.9" fill="#848484"/>
<rect x="688.4" y="319.2" width="89.5" height="64.9" fill="#8e8e8e"/>
<ellipse cx="304" cy="199.4" rx="11.8" ry="13.9" fill="#2c2c2c"/>
<ellipse cx="306.1" cy="270" rx="12.8" ry="9.6" fill="#2c2c2c"/>
<ellipse cx="203.4" cy="276.4" rx="10.7" ry="7.5" fill="#2c2c2c"/>
<ellipse cx="226.9" cy="259.3" rx="8.6" ry="8.6" fill="#363636"/>
<ellipse cx="132.8" cy="235.8" rx="36.4" ry="17.1" fill="#bfbfbf"/>
<ellipse cx="214.1" cy="193" rx="15" ry="18.2" fill="#bfbfbf"/>
<polygon points="582.5,231.3 614.5,224.9 638,231.3 631.6,246.3 603.9,261.2 591.1,282.5 574,303.9 556.9,320.9 535.6,340.1 518.5,340.1 531.3,320.9 552.7,299.6 561.2,274 574,252.7" fill="#b5b5b5" stroke="#b5b5b5" stroke-width="3" stroke-linejoin="round"/>
<ellipse cx="424.7" cy="291.1" rx="23.5" ry="11.7" fill="#b5b5b5"/>
<ellipse cx="473.7" cy="295.3" rx="8.5" ry="5.3" fill="#404040"/>
<ellipse cx="533.5" cy="286.8" rx="7.5" ry="6.4" fill="#4a4a4a"/>
</g>
<polygon points="-10.5,-11.1 379.9,-11.1 379.9,48.8 369.2,49.9 353.2,56.3 338.2,60.6 321.1,62.7 299.7,61.6 278.3,63.8 256.9,63.8 235.5,63.8 214.1,64.8 192.7,67 171.3,64.8 149.9,62.7 128.5,61.6 111.4,63.8 90,65.9 70.8,63.8 49.4,59.5 25.9,54.8 -10.5,56.3" fill="#f5f5f5" stroke="#f5f5f5" stroke-width="3" stroke-linejoin="round"/>
<polygon points="358.5,-11.1 657.2,-11.1 672.1,8.1 693.5,18.8 719.1,31.6 747.9,46.5 747.9,72.1 729.7,74.3 719.1,80.7 706.3,86 689.2,89.2 667.9,90.9 646.5,91.3 625.2,87.1 603.9,80.7 582.5,74.3 561.2,70 539.9,63.6 518.5,58.3 497.2,52.9 475.9,47.6 454.5,42.3 433.2,41.2 411.9,42.3 390.5,43.3 358.5,48.2" fill="#f5f5f5" stroke="#f5f5f5" stroke-width="3" stroke-linejoin="round"/>
<ellipse cx="120" cy="104.4" rx="23.5" ry="8.1" fill="#191919"/>
<polygon points="210.9,114 224.8,106.6 246.2,102.3 267.6,99.1 289,96.9 304,93.7 314.7,85.2 329.6,76.6 346.7,69.1 379.9,64.8 379.9,181.4 316.8,181.4 306.1,168.6 293.3,157.9 282.6,145.1 276.1,132.2 256.9,125.8 235.5,121.5" fill="#0a0a0a" stroke="#0a0a0a" stroke-width="3" stroke-linejoin="round"/>
<polygon points="358.5,62.5 382,63.6 396.9,67.9 411.9,74.3 422.5,80.7 433.2,84.9 454.5,87.1 469.5,91.3 478,102 475.9,112.7 465.2,121.2 480.1,127.6 507.9,129.7 539.9,130.8 571.9,131.9 593.2,127.6 614.5,123.3 625.2,127.6 646.5,125.5 667.9,123.3 689.2,124.4 710.5,127.6 747.9,136.1 747.9,148.9 710.5,153.2 689.2,166 689.2,180.9 358.5,180.9" fill="#0a0a0a" stroke="#0a0a0a" stroke-width="3" stroke-linejoin="round"/>
<polygon points="340.3,160.9 344.6,184.4 355.3,199.4 379.9,208 379.9,160.9" fill="#0a0a0a" stroke="#0a0a0a" stroke-width="3" stroke-linejoin="round"/>
<ellipse cx="38.7" cy="211.2" rx="32.1" ry="8.6" fill="#191919"/>
<ellipse cx="126.4" cy="238.3" rx="19.3" ry="7.5" fill="#d3d3d3"/>
<polygon points="358.5,160.9 358.5,201.5 390.5,203.6 411.9,203.6 433.2,211.1 443.9,212.1 450.3,203.6 465.2,201.5 486.5,199.3 501.5,195.1 514.3,184.4 518.5,160.9" fill="#0a0a0a" stroke="#0a0a0a" stroke-width="3" stroke-linejoin="round"/>
<polygon points="591.1,160.9 593.2,184.4 603.9,197.2 625.2,207.9 646.5,212.1 652.9,203.6 667.9,197.2 689.2,199.3 702,190.8 719.1,182.3 723.3,160.9" fill="#0a0a0a" stroke="#0a0a0a" stroke-width="3" stroke-linejoin="round"/>
<ellipse cx="629.5" cy="191.9" rx="16" ry="6" fill="#535353"/>
<ellipse cx="616.7" cy="239.9" rx="10.7" ry="6.4" fill="#c9c9c9"/>
</g>
<use href="#coast"/>
</g>
<path class="gd" d="M147.5 122H442.6V24.6H147.5Z"/>
<path class="gd" d="M295 245.6H590.1V147.3H295Z"/>
<path class="gs" d="M516.3 245.6H590.1V319.2H516.3Z"/>
<rect class="fr" x="0" y="0" width="737.6" height="343.8"/>
<path class="mj" d="M0 343.8v12.8M147.5 343.8v12.8M295 343.8v12.8M442.6 343.8v12.8M590.1 343.8v12.8M737.6 343.8v12.8M0 294.7h-12.6M0 147.3h-12.6M0 0h-12.6"/>
<path class="mn" d="M49.2 343.8v6.8M98.3 343.8v6.8M196.7 343.8v6.8M245.9 343.8v6.8M344.2 343.8v6.8M393.4 343.8v6.8M491.7 343.8v6.8M540.9 343.8v6.8M639.3 343.8v6.8M688.4 343.8v6.8M0 343.8h-6.6M0 245.6h-6.6M0 196.5h-6.6M0 98.2h-6.6M0 49.1h-6.6"/>
<text class="tk" x="0" y="394.4" text-anchor="middle">0<tspan class="dg" dx="0.9" dy="-3.4">°</tspan></text>
<text class="tk" x="147.5" y="394.4" text-anchor="middle">30<tspan class="dg" dx="0.9" dy="-3.4">°</tspan><tspan dx="0.7" dy="3.4">E</tspan></text>
<text class="tk" x="295" y="394.4" text-anchor="middle">60<tspan class="dg" dx="0.9" dy="-3.4">°</tspan><tspan dx="0.7" dy="3.4">E</tspan></text>
<text class="tk" x="442.6" y="394.4" text-anchor="middle">90<tspan class="dg" dx="0.9" dy="-3.4">°</tspan><tspan dx="0.7" dy="3.4">E</tspan></text>
<text class="tk" x="590.1" y="394.4" text-anchor="middle">120<tspan class="dg" dx="0.9" dy="-3.4">°</tspan><tspan dx="0.7" dy="3.4">E</tspan></text>
<text class="tk" x="737.6" y="394.4" text-anchor="middle">150<tspan class="dg" dx="0.9" dy="-3.4">°</tspan><tspan dx="0.7" dy="3.4">E</tspan></text>
<text class="tk" x="-27.6" y="304.3" text-anchor="end">30<tspan class="dg" dx="0.9" dy="-3.4">°</tspan><tspan dx="0.7" dy="3.4">N</tspan></text>
<text class="tk" x="-27.6" y="156.9" text-anchor="end">60<tspan class="dg" dx="0.9" dy="-3.4">°</tspan><tspan dx="0.7" dy="3.4">N</tspan></text>
<text class="tk" x="-27.6" y="9.6" text-anchor="end">90<tspan class="dg" dx="0.9" dy="-3.4">°</tspan><tspan dx="0.7" dy="3.4">N</tspan></text>
<text class="tt" x="-2.6" y="-12.3">(a) Dec 26</text>
<text class="tt" y="-12.3"><tspan x="413.4">RSAT</tspan> <tspan x="508.8">=</tspan> <tspan class="r" x="537">1.5</tspan> <tspan class="b" x="596">-8.6</tspan> <tspan class="r" x="676.5">2.2</tspan></text>
<text class="tr" transform="translate(163.6 -12.7) scale(1 0.78)" font-size="31.3">△</text>
</g>
<!-- panel b -->
<g transform="translate(953.2 37.4)">
<g clip-path="url(#cp)"><g filter="url(#fld)">
<g filter="url(#gblur)">
<rect x="-40" y="-40" width="605.8" height="64.9" fill="#d3d3d3"/>
<rect x="565.5" y="-40" width="24.9" height="64.9" fill="#c9c9c9"/>
<rect x="590.1" y="-40" width="24.9" height="64.9" fill="#bfbfbf"/>
<rect x="614.7" y="-40" width="24.9" height="64.9" fill="#b5b5b5"/>
<rect x="639.3" y="-40" width="24.9" height="64.9" fill="#acacac"/>
<rect x="663.8" y="-40" width="24.9" height="64.9" fill="#a2a2a2"/>
<rect x="688.4" y="-40" width="24.9" height="64.9" fill="#989898"/>
<rect x="713" y="-40" width="64.9" height="64.9" fill="#8e8e8e"/>
<rect x="-40" y="24.6" width="655" height="24.9" fill="#d3d3d3"/>
<rect x="614.7" y="24.6" width="24.9" height="24.9" fill="#bfbfbf"/>
<rect x="639.3" y="24.6" width="24.9" height="24.9" fill="#acacac"/>
<rect x="663.8" y="24.6" width="24.9" height="24.9" fill="#989898"/>
<rect x="688.4" y="24.6" width="24.9" height="24.9" fill="#848484"/>
<rect x="713" y="24.6" width="64.9" height="24.9" fill="#676767"/>
<rect x="-40" y="49.1" width="114.1" height="24.9" fill="#a2a2a2"/>
<rect x="73.8" y="49.1" width="24.9" height="24.9" fill="#acacac"/>
<rect x="98.3" y="49.1" width="49.5" height="24.9" fill="#b5b5b5"/>
<rect x="147.5" y="49.1" width="24.9" height="24.9" fill="#a2a2a2"/>
<rect x="172.1" y="49.1" width="24.9" height="24.9" fill="#989898"/>
<rect x="196.7" y="49.1" width="24.9" height="24.9" fill="#8e8e8e"/>
<rect x="221.3" y="49.1" width="24.9" height="24.9" fill="#989898"/>
<rect x="245.9" y="49.1" width="24.9" height="24.9" fill="#acacac"/>
<rect x="270.5" y="49.1" width="49.5" height="24.9" fill="#bfbfbf"/>
<rect x="319.6" y="49.1" width="24.9" height="24.9" fill="#acacac"/>
<rect x="344.2" y="49.1" width="24.9" height="24.9" fill="#989898"/>
<rect x="368.8" y="49.1" width="74.1" height="24.9" fill="#bfbfbf"/>
<rect x="442.6" y="49.1" width="24.9" height="24.9" fill="#c9c9c9"/>
<rect x="467.1" y="49.1" width="172.4" height="24.9" fill="#d3d3d3"/>
<rect x="639.3" y="49.1" width="24.9" height="24.9" fill="#b5b5b5"/>
<rect x="663.8" y="49.1" width="24.9" height="24.9" fill="#676767"/>
<rect x="688.4" y="49.1" width="24.9" height="24.9" fill="#363636"/>
<rect x="713" y="49.1" width="64.9" height="24.9" fill="#2c2c2c"/>
<rect x="-40" y="73.7" width="163.2" height="24.9" fill="#989898"/>
<rect x="122.9" y="73.7" width="24.9" height="24.9" fill="#8e8e8e"/>
<rect x="147.5" y="73.7" width="24.9" height="24.9" fill="#848484"/>
<rect x="172.1" y="73.7" width="24.9" height="24.9" fill="#7b7b7b"/>
<rect x="196.7" y="73.7" width="24.9" height="24.9" fill="#717171"/>
<rect x="221.3" y="73.7" width="24.9" height="24.9" fill="#7b7b7b"/>
<rect x="245.9" y="73.7" width="24.9" height="24.9" fill="#848484"/>
<rect x="270.5" y="73.7" width="24.9" height="24.9" fill="#acacac"/>
<rect x="295" y="73.7" width="24.9" height="24.9" fill="#848484"/>
<rect x="319.6" y="73.7" width="24.9" height="24.9" fill="#404040"/>
<rect x="344.2" y="73.7" width="24.9" height="24.9" fill="#2c2c2c"/>
<rect x="368.8" y="73.7" width="24.9" height="24.9" fill="#363636"/>
<rect x="393.4" y="73.7" width="24.9" height="24.9" fill="#4a4a4a"/>
<rect x="418" y="73.7" width="24.9" height="24.9" fill="#676767"/>
<rect x="442.6" y="73.7" width="24.9" height="24.9" fill="#848484"/>
<rect x="467.1" y="73.7" width="24.9" height="24.9" fill="#a2a2a2"/>
<rect x="491.7" y="73.7" width="24.9" height="24.9" fill="#bfbfbf"/>
<rect x="516.3" y="73.7" width="147.8" height="24.9" fill="#d3d3d3"/>
<rect x="663.8" y="73.7" width="24.9" height="24.9" fill="#bfbfbf"/>
<rect x="688.4" y="73.7" width="24.9" height="24.9" fill="#7b7b7b"/>
<rect x="713" y="73.7" width="64.9" height="24.9" fill="#535353"/>
<rect x="-40" y="98.2" width="89.5" height="24.9" fill="#989898"/>
<rect x="49.2" y="98.2" width="24.9" height="24.9" fill="#a2a2a2"/>
<rect x="73.8" y="98.2" width="49.5" height="24.9" fill="#bfbfbf"/>
<rect x="122.9" y="98.2" width="24.9" height="24.9" fill="#b5b5b5"/>
<rect x="147.5" y="98.2" width="24.9" height="24.9" fill="#a2a2a2"/>
<rect x="172.1" y="98.2" width="24.9" height="24.9" fill="#8e8e8e"/>
<rect x="196.7" y="98.2" width="24.9" height="24.9" fill="#717171"/>
<rect x="221.3" y="98.2" width="246.2" height="24.9" fill="#2c2c2c"/>
<rect x="467.1" y="98.2" width="24.9" height="24.9" fill="#404040"/>
<rect x="491.7" y="98.2" width="24.9" height="24.9" fill="#676767"/>
<rect x="516.3" y="98.2" width="24.9" height="24.9" fill="#8e8e8e"/>
<rect x="540.9" y="98.2" width="24.9" height="24.9" fill="#bfbfbf"/>
<rect x="565.5" y="98.2" width="98.6" height="24.9" fill="#d3d3d3"/>
<rect x="663.8" y="98.2" width="24.9" height="24.9" fill="#b5b5b5"/>
<rect x="688.4" y="98.2" width="24.9" height="24.9" fill="#676767"/>
<rect x="713" y="98.2" width="64.9" height="24.9" fill="#5d5d5d"/>
<rect x="-40" y="122.8" width="64.9" height="24.9" fill="#8e8e8e"/>
<rect x="24.6" y="122.8" width="24.9" height="24.9" fill="#a2a2a2"/>
<rect x="49.2" y="122.8" width="49.5" height="24.9" fill="#b5b5b5"/>
<rect x="98.3" y="122.8" width="24.9" height="24.9" fill="#acacac"/>
<rect x="122.9" y="122.8" width="24.9" height="24.9" fill="#a2a2a2"/>
<rect x="147.5" y="122.8" width="24.9" height="24.9" fill="#8e8e8e"/>
<rect x="172.1" y="122.8" width="24.9" height="24.9" fill="#717171"/>
<rect x="196.7" y="122.8" width="49.5" height="24.9" fill="#2c2c2c"/>
<rect x="245.9" y="122.8" width="24.9" height="24.9" fill="#363636"/>
<rect x="270.5" y="122.8" width="24.9" height="24.9" fill="#404040"/>
<rect x="295" y="122.8" width="24.9" height="24.9" fill="#2c2c2c"/>
<rect x="319.6" y="122.8" width="24.9" height="24.9" fill="#404040"/>
<rect x="344.2" y="122.8" width="24.9" height="24.9" fill="#535353"/>
<rect x="368.8" y="122.8" width="24.9" height="24.9" fill="#4a4a4a"/>
<rect x="393.4" y="122.8" width="98.6" height="24.9" fill="#2c2c2c"/>
<rect x="491.7" y="122.8" width="24.9" height="24.9" fill="#363636"/>
<rect x="516.3" y="122.8" width="24.9" height="24.9" fill="#676767"/>
<rect x="540.9" y="122.8" width="24.9" height="24.9" fill="#989898"/>
<rect x="565.5" y="122.8" width="24.9" height="24.9" fill="#bfbfbf"/>
<rect x="590.1" y="122.8" width="49.5" height="24.9" fill="#d3d3d3"/>
<rect x="639.3" y="122.8" width="24.9" height="24.9" fill="#b5b5b5"/>
<rect x="663.8" y="122.8" width="24.9" height="24.9" fill="#717171"/>
<rect x="688.4" y="122.8" width="89.5" height="24.9" fill="#404040"/>
<rect x="-40" y="147.3" width="64.9" height="24.9" fill="#848484"/>
<rect x="24.6" y="147.3" width="24.9" height="24.9" fill="#989898"/>
<rect x="49.2" y="147.3" width="24.9" height="24.9" fill="#a2a2a2"/>
<rect x="73.8" y="147.3" width="24.9" height="24.9" fill="#989898"/>
<rect x="98.3" y="147.3" width="24.9" height="24.9" fill="#a2a2a2"/>
<rect x="122.9" y="147.3" width="24.9" height="24.9" fill="#acacac"/>
<rect x="147.5" y="147.3" width="24.9" height="24.9" fill="#989898"/>
<rect x="172.1" y="147.3" width="24.9" height="24.9" fill="#717171"/>
<rect x="196.7" y="147.3" width="24.9" height="24.9" fill="#2c2c2c"/>
<rect x="221.3" y="147.3" width="24.9" height="24.9" fill="#404040"/>
<rect x="245.9" y="147.3" width="24.9" height="24.9" fill="#717171"/>
<rect x="270.5" y="147.3" width="24.9" height="24.9" fill="#7b7b7b"/>
<rect x="295" y="147.3" width="49.5" height="24.9" fill="#989898"/>
<rect x="344.2" y="147.3" width="24.9" height="24.9" fill="#8e8e8e"/>
<rect x="368.8" y="147.3" width="24.9" height="24.9" fill="#5d5d5d"/>
<rect x="393.4" y="147.3" width="172.4" height="24.9" fill="#2c2c2c"/>
<rect x="565.5" y="147.3" width="24.9" height="24.9" fill="#4a4a4a"/>
<rect x="590.1" y="147.3" width="24.9" height="24.9" fill="#848484"/>
<rect x="614.7" y="147.3" width="24.9" height="24.9" fill="#7b7b7b"/>
<rect x="639.3" y="147.3" width="24.9" height="24.9" fill="#535353"/>
<rect x="663.8" y="147.3" width="49.5" height="24.9" fill="#2c2c2c"/>
<rect x="713" y="147.3" width="64.9" height="24.9" fill="#404040"/>
<rect x="-40" y="171.9" width="64.9" height="24.9" fill="#848484"/>
<rect x="24.6" y="171.9" width="49.5" height="24.9" fill="#8e8e8e"/>
<rect x="73.8" y="171.9" width="24.9" height="24.9" fill="#989898"/>
<rect x="98.3" y="171.9" width="49.5" height="24.9" fill="#b5b5b5"/>
<rect x="147.5" y="171.9" width="24.9" height="24.9" fill="#acacac"/>
<rect x="172.1" y="171.9" width="24.9" height="24.9" fill="#7b7b7b"/>
<rect x="196.7" y="171.9" width="49.5" height="24.9" fill="#363636"/>
<rect x="245.9" y="171.9" width="24.9" height="24.9" fill="#676767"/>
<rect x="270.5" y="171.9" width="24.9" height="24.9" fill="#8e8e8e"/>
<rect x="295" y="171.9" width="24.9" height="24.9" fill="#989898"/>
<rect x="319.6" y="171.9" width="24.9" height="24.9" fill="#a2a2a2"/>
<rect x="344.2" y="171.9" width="24.9" height="24.9" fill="#989898"/>
<rect x="368.8" y="171.9" width="24.9" height="24.9" fill="#535353"/>
<rect x="393.4" y="171.9" width="172.4" height="24.9" fill="#2c2c2c"/>
<rect x="565.5" y="171.9" width="24.9" height="24.9" fill="#4a4a4a"/>
<rect x="590.1" y="171.9" width="24.9" height="24.9" fill="#535353"/>
<rect x="614.7" y="171.9" width="24.9" height="24.9" fill="#4a4a4a"/>
<rect x="639.3" y="171.9" width="24.9" height="24.9" fill="#363636"/>
<rect x="663.8" y="171.9" width="49.5" height="24.9" fill="#2c2c2c"/>
<rect x="713" y="171.9" width="64.9" height="24.9" fill="#5d5d5d"/>
<rect x="-40" y="196.5" width="64.9" height="24.9" fill="#848484"/>
<rect x="24.6" y="196.5" width="49.5" height="24.9" fill="#8e8e8e"/>
<rect x="73.8" y="196.5" width="24.9" height="24.9" fill="#acacac"/>
<rect x="98.3" y="196.5" width="24.9" height="24.9" fill="#bfbfbf"/>
<rect x="122.9" y="196.5" width="24.9" height="24.9" fill="#d3d3d3"/>
<rect x="147.5" y="196.5" width="24.9" height="24.9" fill="#b5b5b5"/>
<rect x="172.1" y="196.5" width="24.9" height="24.9" fill="#8e8e8e"/>
<rect x="196.7" y="196.5" width="24.9" height="24.9" fill="#7b7b7b"/>
<rect x="221.3" y="196.5" width="49.5" height="24.9" fill="#717171"/>
<rect x="270.5" y="196.5" width="24.9" height="24.9" fill="#7b7b7b"/>
<rect x="295" y="196.5" width="24.9" height="24.9" fill="#848484"/>
<rect x="319.6" y="196.5" width="24.9" height="24.9" fill="#676767"/>
<rect x="344.2" y="196.5" width="24.9" height="24.9" fill="#535353"/>
<rect x="368.8" y="196.5" width="24.9" height="24.9" fill="#363636"/>
<rect x="393.4" y="196.5" width="24.9" height="24.9" fill="#4a4a4a"/>
<rect x="418" y="196.5" width="24.9" height="24.9" fill="#363636"/>
<rect x="442.6" y="196.5" width="172.4" height="24.9" fill="#2c2c2c"/>
<rect x="614.7" y="196.5" width="24.9" height="24.9" fill="#363636"/>
<rect x="639.3" y="196.5" width="24.9" height="24.9" fill="#4a4a4a"/>
<rect x="663.8" y="196.5" width="49.5" height="24.9" fill="#535353"/>
<rect x="713" y="196.5" width="64.9" height="24.9" fill="#717171"/>
<rect x="-40" y="221" width="64.9" height="24.9" fill="#7b7b7b"/>
<rect x="24.6" y="221" width="49.5" height="24.9" fill="#848484"/>
<rect x="73.8" y="221" width="24.9" height="24.9" fill="#8e8e8e"/>
<rect x="98.3" y="221" width="24.9" height="24.9" fill="#acacac"/>
<rect x="122.9" y="221" width="24.9" height="24.9" fill="#bfbfbf"/>
<rect x="147.5" y="221" width="24.9" height="24.9" fill="#acacac"/>
<rect x="172.1" y="221" width="24.9" height="24.9" fill="#989898"/>
<rect x="196.7" y="221" width="24.9" height="24.9" fill="#848484"/>
<rect x="221.3" y="221" width="24.9" height="24.9" fill="#717171"/>
<rect x="245.9" y="221" width="24.9" height="24.9" fill="#676767"/>
<rect x="270.5" y="221" width="24.9" height="24.9" fill="#404040"/>
<rect x="295" y="221" width="49.5" height="24.9" fill="#2c2c2c"/>
<rect x="344.2" y="221" width="24.9" height="24.9" fill="#4a4a4a"/>
<rect x="368.8" y="221" width="24.9" height="24.9" fill="#717171"/>
<rect x="393.4" y="221" width="24.9" height="24.9" fill="#676767"/>
<rect x="418" y="221" width="24.9" height="24.9" fill="#4a4a4a"/>
<rect x="442.6" y="221" width="24.9" height="24.9" fill="#363636"/>
<rect x="467.1" y="221" width="24.9" height="24.9" fill="#404040"/>
<rect x="491.7" y="221" width="74.1" height="24.9" fill="#2c2c2c"/>
<rect x="565.5" y="221" width="24.9" height="24.9" fill="#404040"/>
<rect x="590.1" y="221" width="24.9" height="24.9" fill="#717171"/>
<rect x="614.7" y="221" width="49.5" height="24.9" fill="#8e8e8e"/>
<rect x="663.8" y="221" width="114.1" height="24.9" fill="#848484"/>
<rect x="-40" y="245.6" width="64.9" height="24.9" fill="#7b7b7b"/>
<rect x="24.6" y="245.6" width="74.1" height="24.9" fill="#848484"/>
<rect x="98.3" y="245.6" width="24.9" height="24.9" fill="#8e8e8e"/>
<rect x="122.9" y="245.6" width="24.9" height="24.9" fill="#acacac"/>
<rect x="147.5" y="245.6" width="24.9" height="24.9" fill="#989898"/>
<rect x="172.1" y="245.6" width="24.9" height="24.9" fill="#848484"/>
<rect x="196.7" y="245.6" width="49.5" height="24.9" fill="#4a4a4a"/>
<rect x="245.9" y="245.6" width="24.9" height="24.9" fill="#717171"/>
<rect x="270.5" y="245.6" width="24.9" height="24.9" fill="#404040"/>
<rect x="295" y="245.6" width="49.5" height="24.9" fill="#2c2c2c"/>
<rect x="344.2" y="245.6" width="24.9" height="24.9" fill="#535353"/>
<rect x="368.8" y="245.6" width="24.9" height="24.9" fill="#4a4a4a"/>
<rect x="393.4" y="245.6" width="24.9" height="24.9" fill="#363636"/>
<rect x="418" y="245.6" width="24.9" height="24.9" fill="#5d5d5d"/>
<rect x="442.6" y="245.6" width="24.9" height="24.9" fill="#363636"/>
<rect x="467.1" y="245.6" width="24.9" height="24.9" fill="#2c2c2c"/>
<rect x="491.7" y="245.6" width="24.9" height="24.9" fill="#404040"/>
<rect x="516.3" y="245.6" width="24.9" height="24.9" fill="#717171"/>
<rect x="540.9" y="245.6" width="24.9" height="24.9" fill="#acacac"/>
<rect x="565.5" y="245.6" width="24.9" height="24.9" fill="#bfbfbf"/>
<rect x="590.1" y="245.6" width="24.9" height="24.9" fill="#a2a2a2"/>
<rect x="614.7" y="245.6" width="24.9" height="24.9" fill="#acacac"/>
<rect x="639.3" y="245.6" width="24.9" height="24.9" fill="#989898"/>
<rect x="663.8" y="245.6" width="114.1" height="24.9" fill="#8e8e8e"/>
<rect x="-40" y="270.1" width="64.9" height="24.9" fill="#8e8e8e"/>
<rect x="24.6" y="270.1" width="24.9" height="24.9" fill="#7b7b7b"/>
<rect x="49.2" y="270.1" width="24.9" height="24.9" fill="#717171"/>
<rect x="73.8" y="270.1" width="24.9" height="24.9" fill="#7b7b7b"/>
<rect x="98.3" y="270.1" width="24.9" height="24.9" fill="#848484"/>
<rect x="122.9" y="270.1" width="49.5" height="24.9" fill="#8e8e8e"/>
<rect x="172.1" y="270.1" width="24.9" height="24.9" fill="#717171"/>
<rect x="196.7" y="270.1" width="24.9" height="24.9" fill="#676767"/>
<rect x="221.3" y="270.1" width="24.9" height="24.9" fill="#717171"/>
<rect x="245.9" y="270.1" width="24.9" height="24.9" fill="#8e8e8e"/>
<rect x="270.5" y="270.1" width="24.9" height="24.9" fill="#535353"/>
<rect x="295" y="270.1" width="49.5" height="24.9" fill="#2c2c2c"/>
<rect x="344.2" y="270.1" width="24.9" height="24.9" fill="#535353"/>
<rect x="368.8" y="270.1" width="24.9" height="24.9" fill="#676767"/>
<rect x="393.4" y="270.1" width="24.9" height="24.9" fill="#848484"/>
<rect x="418" y="270.1" width="24.9" height="24.9" fill="#8e8e8e"/>
<rect x="442.6" y="270.1" width="24.9" height="24.9" fill="#989898"/>
<rect x="467.1" y="270.1" width="24.9" height="24.9" fill="#a2a2a2"/>
<rect x="491.7" y="270.1" width="24.9" height="24.9" fill="#717171"/>
<rect x="516.3" y="270.1" width="24.9" height="24.9" fill="#848484"/>
<rect x="540.9" y="270.1" width="24.9" height="24.9" fill="#b5b5b5"/>
<rect x="565.5" y="270.1" width="24.9" height="24.9" fill="#c9c9c9"/>
<rect x="590.1" y="270.1" width="49.5" height="24.9" fill="#a2a2a2"/>
<rect x="639.3" y="270.1" width="49.5" height="24.9" fill="#989898"/>
<rect x="688.4" y="270.1" width="24.9" height="24.9" fill="#8e8e8e"/>
<rect x="713" y="270.1" width="64.9" height="24.9" fill="#848484"/>
<rect x="-40" y="294.7" width="138.6" height="24.9" fill="#676767"/>
<rect x="98.3" y="294.7" width="24.9" height="24.9" fill="#7b7b7b"/>
<rect x="122.9" y="294.7" width="49.5" height="24.9" fill="#989898"/>
<rect x="172.1" y="294.7" width="24.9" height="24.9" fill="#8e8e8e"/>
<rect x="196.7" y="294.7" width="24.9" height="24.9" fill="#7b7b7b"/>
<rect x="221.3" y="294.7" width="49.5" height="24.9" fill="#717171"/>
<rect x="270.5" y="294.7" width="24.9" height="24.9" fill="#5d5d5d"/>
<rect x="295" y="294.7" width="24.9" height="24.9" fill="#404040"/>
<rect x="319.6" y="294.7" width="49.5" height="24.9" fill="#363636"/>
<rect x="368.8" y="294.7" width="24.9" height="24.9" fill="#4a4a4a"/>
<rect x="393.4" y="294.7" width="24.9" height="24.9" fill="#7b7b7b"/>
<rect x="418" y="294.7" width="24.9" height="24.9" fill="#848484"/>
<rect x="442.6" y="294.7" width="24.9" height="24.9" fill="#8e8e8e"/>
<rect x="467.1" y="294.7" width="49.5" height="24.9" fill="#848484"/>
<rect x="516.3" y="294.7" width="24.9" height="24.9" fill="#b5b5b5"/>
<rect x="540.9" y="294.7" width="24.9" height="24.9" fill="#c9c9c9"/>
<rect x="565.5" y="294.7" width="24.9" height="24.9" fill="#a2a2a2"/>
<rect x="590.1" y="294.7" width="98.6" height="24.9" fill="#989898"/>
<rect x="688.4" y="294.7" width="89.5" height="24.9" fill="#8e8e8e"/>
<rect x="-40" y="319.2" width="64.9" height="64.9" fill="#b5b5b5"/>
<rect x="24.6" y="319.2" width="24.9" height="64.9" fill="#989898"/>
<rect x="49.2" y="319.2" width="24.9" height="64.9" fill="#717171"/>
<rect x="73.8" y="319.2" width="24.9" height="64.9" fill="#8e8e8e"/>
<rect x="98.3" y="319.2" width="24.9" height="64.9" fill="#acacac"/>
<rect x="122.9" y="319.2" width="49.5" height="64.9" fill="#a2a2a2"/>
<rect x="172.1" y="319.2" width="24.9" height="64.9" fill="#989898"/>
<rect x="196.7" y="319.2" width="24.9" height="64.9" fill="#7b7b7b"/>
<rect x="221.3" y="319.2" width="49.5" height="64.9" fill="#717171"/>
<rect x="270.5" y="319.2" width="49.5" height="64.9" fill="#676767"/>
<rect x="319.6" y="319.2" width="74.1" height="64.9" fill="#5d5d5d"/>
<rect x="393.4" y="319.2" width="24.9" height="64.9" fill="#717171"/>
<rect x="418" y="319.2" width="49.5" height="64.9" fill="#7b7b7b"/>
<rect x="467.1" y="319.2" width="24.9" height="64.9" fill="#848484"/>
<rect x="491.7" y="319.2" width="24.9" height="64.9" fill="#acacac"/>
<rect x="516.3" y="319.2" width="24.9" height="64.9" fill="#bfbfbf"/>
<rect x="540.9" y="319.2" width="24.9" height="64.9" fill="#acacac"/>
<rect x="565.5" y="319.2" width="24.9" height="64.9" fill="#989898"/>
<rect x="590.1" y="319.2" width="123.2" height="64.9" fill="#8e8e8e"/>
<rect x="713" y="319.2" width="64.9" height="64.9" fill="#989898"/>
<polygon points="64,108.7 96.1,102.3 128.1,104.4 145.3,115.1 128.1,125.8 96.1,127.9 74.7,138.6 53.3,149.3 42.6,138.6 53.3,119.4" fill="#bfbfbf" stroke="#bfbfbf" stroke-width="3" stroke-linejoin="round"/>
<polygon points="85.4,199.4 117.5,178 149.5,175.9 162.4,193 170.9,214.4 158.1,235.8 149.5,257.2 132.4,252.9 111,235.8 89.6,220.8" fill="#bfbfbf" stroke="#bfbfbf" stroke-width="3" stroke-linejoin="round"/>
<ellipse cx="359.2" cy="310.6" rx="10.7" ry="10.7" fill="#2c2c2c"/>
<ellipse cx="224.4" cy="255" rx="12.8" ry="7.5" fill="#363636" transform="rotate(30 224.4 255)"/>
<ellipse cx="368.8" cy="310.6" rx="8.6" ry="12.8" fill="#2c2c2c"/>
<polygon points="533.5,267.9 550.6,257.2 582.7,255 589.1,274.3 587,295.7 574.2,308.5 561.3,321.3 539.9,334.2 518.5,344.9 497.1,344.9 505.7,325.6 522.8,308.5 544.2,291.4 548.5,274.3" fill="#bfbfbf" stroke="#bfbfbf" stroke-width="3" stroke-linejoin="round"/>
<ellipse cx="629.8" cy="255" rx="12.8" ry="10.7" fill="#b5b5b5"/>
<ellipse cx="484.3" cy="293.5" rx="10.7" ry="6.4" fill="#acacac"/>
</g>
<polygon points="-10.9,-11.1 379.5,-11.1 379.5,47.7 368.8,49.9 346.3,59.5 331.4,63.8 299.3,63.8 256.5,63.8 213.7,67 192.3,65.9 170.9,65.9 149.5,65.9 128.1,68.1 106.8,68.1 85.4,65.9 64,61.6 42.6,55.2 21.2,53.1 -10.9,54.1" fill="#f5f5f5" stroke="#f5f5f5" stroke-width="3" stroke-linejoin="round"/>
<ellipse cx="288.6" cy="46.2" rx="68.5" ry="10.7" fill="#bfbfbf"/>
<polygon points="213.7,113 235.1,104.4 267.2,100.1 299.3,98 310,89.4 324.9,78.7 342.1,72.3 379.5,69.1 379.5,127.9 352.8,132.2 331.4,136.5 310,136.5 299.3,132.2 277.9,134.4 256.5,138.6 241.5,149.3 235.1,164.3 233,181.4 192.3,181.4 189.1,153.6 192.3,136.5 203,123.7" fill="#0a0a0a" stroke="#0a0a0a" stroke-width="3" stroke-linejoin="round"/>
<polygon points="358.1,-11.1 561.3,-11.1 572,8.2 593.4,16.7 614.8,29.5 631.9,44.5 642.6,59.5 649,72.3 664,83 685.4,91.6 704.6,99.1 689.7,103.3 679,113 668.3,125.8 646.9,136.5 625.5,142.9 604.1,145.1 582.7,142.9 561.3,136.5 548.5,127.9 552.8,119.4 548.5,106.6 535.7,93.7 518.5,83 497.1,74.5 475.8,70.2 454.4,68.1 433,65.9 411.6,63.8 390.2,60.6 358.1,56.9" fill="#f5f5f5" stroke="#f5f5f5" stroke-width="3" stroke-linejoin="round"/>
<polygon points="358.1,71.3 390.2,74.5 411.6,78.7 433,85.2 454.4,93.7 475.8,102.3 488.6,115.1 497.1,127.9 518.5,136.5 539.9,142.9 561.3,149.3 582.7,157.9 591.3,181.4 388.1,181.4 383.8,149.3 375.2,132.2 358.1,127.9" fill="#0a0a0a" stroke="#0a0a0a" stroke-width="3" stroke-linejoin="round"/>
<polygon points="748.5,36 728.2,48.8 702.5,63.8 676.8,70.2 676.8,74.5 702.5,80.9 728.2,85.2 748.5,89.4" fill="#0a0a0a" stroke="#0a0a0a" stroke-width="3" stroke-linejoin="round"/>
<polygon points="666.1,181.4 668.3,153.6 679,138.6 696.1,130.1 711.1,136.5 721.8,149.3 732.5,153.6 748.5,149.3 748.5,181.4" fill="#0a0a0a" stroke="#0a0a0a" stroke-width="3" stroke-linejoin="round"/>
<ellipse cx="711.1" cy="119.4" rx="10.7" ry="3.2" fill="#2c2c2c"/>
<ellipse cx="134.6" cy="212.2" rx="17.1" ry="12.8" fill="#d3d3d3"/>
<polygon points="198.7,160.9 205.2,180.2 218,193 235.1,193 252.2,182.3 262.9,160.9" fill="#0a0a0a" stroke="#0a0a0a" stroke-width="3" stroke-linejoin="round"/>
<polygon points="284.3,263.6 299.3,242.2 320.7,227.2 342.1,220.8 352.8,235.8 350.6,257.2 342.1,278.6 337.8,299.9 320.7,304.2 303.6,291.4 295,278.6" fill="#191919" stroke="#191919" stroke-width="3" stroke-linejoin="round"/>
<polygon points="398.7,160.9 388.1,186.6 373.1,199.4 381.6,212.2 411.6,220.8 424.4,231.5 439.4,233.6 458.6,229.4 469.3,235.8 480,231.5 497.1,235.8 518.5,240.1 550.6,242.2 582.7,237.9 591.3,231.5 595.5,214.4 610.5,210.1 625.5,212.2 642.6,210.1 651.2,199.4 668.3,195.1 685.4,201.5 696.1,195.1 711.1,193 721.8,184.4 719.6,160.9" fill="#0a0a0a" stroke="#0a0a0a" stroke-width="3" stroke-linejoin="round"/>
<ellipse cx="608.4" cy="183.4" rx="42.8" ry="11.8" fill="#535353"/>
<polygon points="450.1,246.5 505.7,246.5 505.7,261.4 497.1,272.1 484.3,274.3 475.8,261.4 465.1,265.7 454.4,261.4" fill="#191919" stroke="#191919" stroke-width="3" stroke-linejoin="round"/>
<ellipse cx="396.6" cy="263.6" rx="21.4" ry="8.1" fill="#2c2c2c"/>
<polygon points="561.3,272.1 574.2,265.7 584.9,272.1 584.9,289.3 572,299.9 561.3,308.5 544.2,314.9 557,297.8 561.3,285" fill="#d3d3d3" stroke="#d3d3d3" stroke-width="3" stroke-linejoin="round"/>
<ellipse cx="582.7" cy="306.4" rx="6" ry="5.3" fill="#717171"/>
</g>
<use href="#coast"/>
</g>
<path class="gd" d="M147.5 122H442.6V24.6H147.5Z"/>
<path class="gd" d="M295 245.6H590.1V147.3H295Z"/>
<path class="gs" d="M516.3 245.6H590.1V319.2H516.3Z"/>
<rect class="fr" x="0" y="0" width="737.6" height="343.8"/>
<path class="mj" d="M0 343.8v12.8M147.5 343.8v12.8M295 343.8v12.8M442.6 343.8v12.8M590.1 343.8v12.8M737.6 343.8v12.8M0 294.7h-12.6M0 147.3h-12.6M0 0h-12.6"/>
<path class="mn" d="M49.2 343.8v6.8M98.3 343.8v6.8M196.7 343.8v6.8M245.9 343.8v6.8M344.2 343.8v6.8M393.4 343.8v6.8M491.7 343.8v6.8M540.9 343.8v6.8M639.3 343.8v6.8M688.4 343.8v6.8M0 343.8h-6.6M0 245.6h-6.6M0 196.5h-6.6M0 98.2h-6.6M0 49.1h-6.6"/>
<text class="tk" x="0" y="394.4" text-anchor="middle">0<tspan class="dg" dx="0.9" dy="-3.4">°</tspan></text>
<text class="tk" x="147.5" y="394.4" text-anchor="middle">30<tspan class="dg" dx="0.9" dy="-3.4">°</tspan><tspan dx="0.7" dy="3.4">E</tspan></text>
<text class="tk" x="295" y="394.4" text-anchor="middle">60<tspan class="dg" dx="0.9" dy="-3.4">°</tspan><tspan dx="0.7" dy="3.4">E</tspan></text>
<text class="tk" x="442.6" y="394.4" text-anchor="middle">90<tspan class="dg" dx="0.9" dy="-3.4">°</tspan><tspan dx="0.7" dy="3.4">E</tspan></text>
<text class="tk" x="590.1" y="394.4" text-anchor="middle">120<tspan class="dg" dx="0.9" dy="-3.4">°</tspan><tspan dx="0.7" dy="3.4">E</tspan></text>
<text class="tk" x="737.6" y="394.4" text-anchor="middle">150<tspan class="dg" dx="0.9" dy="-3.4">°</tspan><tspan dx="0.7" dy="3.4">E</tspan></text>
<text class="tk" x="-27.6" y="304.3" text-anchor="end">30<tspan class="dg" dx="0.9" dy="-3.4">°</tspan><tspan dx="0.7" dy="3.4">N</tspan></text>
<text class="tk" x="-27.6" y="156.9" text-anchor="end">60<tspan class="dg" dx="0.9" dy="-3.4">°</tspan><tspan dx="0.7" dy="3.4">N</tspan></text>
<text class="tk" x="-27.6" y="9.6" text-anchor="end">90<tspan class="dg" dx="0.9" dy="-3.4">°</tspan><tspan dx="0.7" dy="3.4">N</tspan></text>
<text class="tt" x="-2.6" y="-12.3">(b) Dec 28</text>
<text class="tt" y="-12.3"><tspan x="413.3">RSAT</tspan> <tspan x="508.7">=</tspan> <tspan class="r" x="536.1">2.2</tspan> <tspan class="b" x="596.6">-8.5</tspan> <tspan class="r" x="679.1">3.3</tspan></text>
</g>
<!-- panel c -->
<g transform="translate(83.8 477.4)">
<g clip-path="url(#cp)"><g filter="url(#fld)">
<g filter="url(#gblur)">
<rect x="-40" y="-40" width="64.9" height="64.9" fill="#c9c9c9"/>
<rect x="24.6" y="-40" width="565.8" height="64.9" fill="#d3d3d3"/>
<rect x="590.1" y="-40" width="24.9" height="64.9" fill="#b5b5b5"/>
<rect x="614.7" y="-40" width="24.9" height="64.9" fill="#989898"/>
<rect x="639.3" y="-40" width="24.9" height="64.9" fill="#848484"/>
<rect x="663.8" y="-40" width="24.9" height="64.9" fill="#717171"/>
<rect x="688.4" y="-40" width="24.9" height="64.9" fill="#5d5d5d"/>
<rect x="713" y="-40" width="64.9" height="64.9" fill="#4a4a4a"/>
<rect x="-40" y="24.6" width="64.9" height="24.9" fill="#c9c9c9"/>
<rect x="24.6" y="24.6" width="344.5" height="24.9" fill="#d3d3d3"/>
<rect x="368.8" y="24.6" width="98.6" height="24.9" fill="#bfbfbf"/>
<rect x="467.1" y="24.6" width="123.2" height="24.9" fill="#d3d3d3"/>
<rect x="590.1" y="24.6" width="24.9" height="24.9" fill="#bfbfbf"/>
<rect x="614.7" y="24.6" width="24.9" height="24.9" fill="#acacac"/>
<rect x="639.3" y="24.6" width="24.9" height="24.9" fill="#8e8e8e"/>
<rect x="663.8" y="24.6" width="24.9" height="24.9" fill="#676767"/>
<rect x="688.4" y="24.6" width="24.9" height="24.9" fill="#363636"/>
<rect x="713" y="24.6" width="64.9" height="24.9" fill="#2c2c2c"/>
<rect x="-40" y="49.1" width="64.9" height="24.9" fill="#acacac"/>
<rect x="24.6" y="49.1" width="24.9" height="24.9" fill="#b5b5b5"/>
<rect x="49.2" y="49.1" width="197" height="24.9" fill="#bfbfbf"/>
<rect x="245.9" y="49.1" width="49.5" height="24.9" fill="#b5b5b5"/>
<rect x="295" y="49.1" width="24.9" height="24.9" fill="#acacac"/>
<rect x="319.6" y="49.1" width="24.9" height="24.9" fill="#989898"/>
<rect x="344.2" y="49.1" width="24.9" height="24.9" fill="#7b7b7b"/>
<rect x="368.8" y="49.1" width="74.1" height="24.9" fill="#989898"/>
<rect x="442.6" y="49.1" width="49.5" height="24.9" fill="#8e8e8e"/>
<rect x="491.7" y="49.1" width="24.9" height="24.9" fill="#989898"/>
<rect x="516.3" y="49.1" width="24.9" height="24.9" fill="#a2a2a2"/>
<rect x="540.9" y="49.1" width="24.9" height="24.9" fill="#b5b5b5"/>
<rect x="565.5" y="49.1" width="24.9" height="24.9" fill="#c9c9c9"/>
<rect x="590.1" y="49.1" width="74.1" height="24.9" fill="#d3d3d3"/>
<rect x="663.8" y="49.1" width="24.9" height="24.9" fill="#bfbfbf"/>
<rect x="688.4" y="49.1" width="24.9" height="24.9" fill="#a2a2a2"/>
<rect x="713" y="49.1" width="64.9" height="24.9" fill="#989898"/>
<rect x="-40" y="73.7" width="212.4" height="24.9" fill="#a2a2a2"/>
<rect x="172.1" y="73.7" width="49.5" height="24.9" fill="#989898"/>
<rect x="221.3" y="73.7" width="24.9" height="24.9" fill="#8e8e8e"/>
<rect x="245.9" y="73.7" width="24.9" height="24.9" fill="#7b7b7b"/>
<rect x="270.5" y="73.7" width="24.9" height="24.9" fill="#676767"/>
<rect x="295" y="73.7" width="24.9" height="24.9" fill="#535353"/>
<rect x="319.6" y="73.7" width="172.4" height="24.9" fill="#404040"/>
<rect x="491.7" y="73.7" width="24.9" height="24.9" fill="#535353"/>
<rect x="516.3" y="73.7" width="24.9" height="24.9" fill="#7b7b7b"/>
<rect x="540.9" y="73.7" width="24.9" height="24.9" fill="#989898"/>
<rect x="565.5" y="73.7" width="24.9" height="24.9" fill="#bfbfbf"/>
<rect x="590.1" y="73.7" width="24.9" height="24.9" fill="#c9c9c9"/>
<rect x="614.7" y="73.7" width="163.2" height="24.9" fill="#d3d3d3"/>
<rect x="-40" y="98.2" width="89.5" height="24.9" fill="#989898"/>
<rect x="49.2" y="98.2" width="49.5" height="24.9" fill="#8e8e8e"/>
<rect x="98.3" y="98.2" width="24.9" height="24.9" fill="#989898"/>
<rect x="122.9" y="98.2" width="49.5" height="24.9" fill="#acacac"/>
<rect x="172.1" y="98.2" width="24.9" height="24.9" fill="#989898"/>
<rect x="196.7" y="98.2" width="24.9" height="24.9" fill="#7b7b7b"/>
<rect x="221.3" y="98.2" width="24.9" height="24.9" fill="#4a4a4a"/>
<rect x="245.9" y="98.2" width="98.6" height="24.9" fill="#404040"/>
<rect x="344.2" y="98.2" width="24.9" height="24.9" fill="#4a4a4a"/>
<rect x="368.8" y="98.2" width="24.9" height="24.9" fill="#535353"/>
<rect x="393.4" y="98.2" width="24.9" height="24.9" fill="#5d5d5d"/>
<rect x="418" y="98.2" width="24.9" height="24.9" fill="#535353"/>
<rect x="442.6" y="98.2" width="49.5" height="24.9" fill="#404040"/>
<rect x="491.7" y="98.2" width="24.9" height="24.9" fill="#4a4a4a"/>
<rect x="516.3" y="98.2" width="24.9" height="24.9" fill="#717171"/>
<rect x="540.9" y="98.2" width="24.9" height="24.9" fill="#acacac"/>
<rect x="565.5" y="98.2" width="49.5" height="24.9" fill="#c9c9c9"/>
<rect x="614.7" y="98.2" width="49.5" height="24.9" fill="#d3d3d3"/>
<rect x="663.8" y="98.2" width="24.9" height="24.9" fill="#acacac"/>
<rect x="688.4" y="98.2" width="24.9" height="24.9" fill="#717171"/>
<rect x="713" y="98.2" width="64.9" height="24.9" fill="#8e8e8e"/>
<rect x="-40" y="122.8" width="64.9" height="24.9" fill="#8e8e8e"/>
<rect x="24.6" y="122.8" width="24.9" height="24.9" fill="#989898"/>
<rect x="49.2" y="122.8" width="24.9" height="24.9" fill="#a2a2a2"/>
<rect x="73.8" y="122.8" width="24.9" height="24.9" fill="#989898"/>
<rect x="98.3" y="122.8" width="24.9" height="24.9" fill="#acacac"/>
<rect x="122.9" y="122.8" width="24.9" height="24.9" fill="#c9c9c9"/>
<rect x="147.5" y="122.8" width="24.9" height="24.9" fill="#bfbfbf"/>
<rect x="172.1" y="122.8" width="24.9" height="24.9" fill="#acacac"/>
<rect x="196.7" y="122.8" width="24.9" height="24.9" fill="#848484"/>
<rect x="221.3" y="122.8" width="24.9" height="24.9" fill="#5d5d5d"/>
<rect x="245.9" y="122.8" width="24.9" height="24.9" fill="#535353"/>
<rect x="270.5" y="122.8" width="24.9" height="24.9" fill="#4a4a4a"/>
<rect x="295" y="122.8" width="49.5" height="24.9" fill="#404040"/>
<rect x="344.2" y="122.8" width="24.9" height="24.9" fill="#4a4a4a"/>
<rect x="368.8" y="122.8" width="74.1" height="24.9" fill="#535353"/>
<rect x="442.6" y="122.8" width="24.9" height="24.9" fill="#4a4a4a"/>
<rect x="467.1" y="122.8" width="49.5" height="24.9" fill="#404040"/>
<rect x="516.3" y="122.8" width="24.9" height="24.9" fill="#4a4a4a"/>
<rect x="540.9" y="122.8" width="24.9" height="24.9" fill="#8e8e8e"/>
<rect x="565.5" y="122.8" width="24.9" height="24.9" fill="#b5b5b5"/>
<rect x="590.1" y="122.8" width="49.5" height="24.9" fill="#bfbfbf"/>
<rect x="639.3" y="122.8" width="49.5" height="24.9" fill="#acacac"/>
<rect x="688.4" y="122.8" width="24.9" height="24.9" fill="#b5b5b5"/>
<rect x="713" y="122.8" width="64.9" height="24.9" fill="#8e8e8e"/>
<rect x="-40" y="147.3" width="64.9" height="24.9" fill="#848484"/>
<rect x="24.6" y="147.3" width="49.5" height="24.9" fill="#989898"/>
<rect x="73.8" y="147.3" width="24.9" height="24.9" fill="#8e8e8e"/>
<rect x="98.3" y="147.3" width="24.9" height="24.9" fill="#acacac"/>
<rect x="122.9" y="147.3" width="49.5" height="24.9" fill="#bfbfbf"/>
<rect x="172.1" y="147.3" width="24.9" height="24.9" fill="#b5b5b5"/>
<rect x="196.7" y="147.3" width="24.9" height="24.9" fill="#989898"/>
<rect x="221.3" y="147.3" width="24.9" height="24.9" fill="#5d5d5d"/>
<rect x="245.9" y="147.3" width="24.9" height="24.9" fill="#4a4a4a"/>
<rect x="270.5" y="147.3" width="98.6" height="24.9" fill="#404040"/>
<rect x="368.8" y="147.3" width="24.9" height="24.9" fill="#535353"/>
<rect x="393.4" y="147.3" width="24.9" height="24.9" fill="#7b7b7b"/>
<rect x="418" y="147.3" width="24.9" height="24.9" fill="#989898"/>
<rect x="442.6" y="147.3" width="24.9" height="24.9" fill="#676767"/>
<rect x="467.1" y="147.3" width="24.9" height="24.9" fill="#4a4a4a"/>
<rect x="491.7" y="147.3" width="74.1" height="24.9" fill="#404040"/>
<rect x="565.5" y="147.3" width="24.9" height="24.9" fill="#535353"/>
<rect x="590.1" y="147.3" width="49.5" height="24.9" fill="#676767"/>
<rect x="639.3" y="147.3" width="24.9" height="24.9" fill="#5d5d5d"/>
<rect x="663.8" y="147.3" width="114.1" height="24.9" fill="#676767"/>
<rect x="-40" y="171.9" width="64.9" height="24.9" fill="#848484"/>
<rect x="24.6" y="171.9" width="49.5" height="24.9" fill="#8e8e8e"/>
<rect x="73.8" y="171.9" width="24.9" height="24.9" fill="#989898"/>
<rect x="98.3" y="171.9" width="24.9" height="24.9" fill="#b5b5b5"/>
<rect x="122.9" y="171.9" width="74.1" height="24.9" fill="#bfbfbf"/>
<rect x="196.7" y="171.9" width="24.9" height="24.9" fill="#acacac"/>
<rect x="221.3" y="171.9" width="24.9" height="24.9" fill="#535353"/>
<rect x="245.9" y="171.9" width="24.9" height="24.9" fill="#4a4a4a"/>
<rect x="270.5" y="171.9" width="98.6" height="24.9" fill="#404040"/>
<rect x="368.8" y="171.9" width="24.9" height="24.9" fill="#535353"/>
<rect x="393.4" y="171.9" width="49.5" height="24.9" fill="#717171"/>
<rect x="442.6" y="171.9" width="24.9" height="24.9" fill="#676767"/>
<rect x="467.1" y="171.9" width="24.9" height="24.9" fill="#535353"/>
<rect x="491.7" y="171.9" width="24.9" height="24.9" fill="#4a4a4a"/>
<rect x="516.3" y="171.9" width="24.9" height="24.9" fill="#404040"/>
<rect x="540.9" y="171.9" width="24.9" height="24.9" fill="#535353"/>
<rect x="565.5" y="171.9" width="74.1" height="24.9" fill="#676767"/>
<rect x="639.3" y="171.9" width="24.9" height="24.9" fill="#404040"/>
<rect x="663.8" y="171.9" width="24.9" height="24.9" fill="#2c2c2c"/>
<rect x="688.4" y="171.9" width="24.9" height="24.9" fill="#363636"/>
<rect x="713" y="171.9" width="64.9" height="24.9" fill="#676767"/>
<rect x="-40" y="196.5" width="64.9" height="24.9" fill="#7b7b7b"/>
<rect x="24.6" y="196.5" width="24.9" height="24.9" fill="#5d5d5d"/>
<rect x="49.2" y="196.5" width="24.9" height="24.9" fill="#717171"/>
<rect x="73.8" y="196.5" width="24.9" height="24.9" fill="#acacac"/>
<rect x="98.3" y="196.5" width="24.9" height="24.9" fill="#c9c9c9"/>
<rect x="122.9" y="196.5" width="49.5" height="24.9" fill="#d3d3d3"/>
<rect x="172.1" y="196.5" width="24.9" height="24.9" fill="#c9c9c9"/>
<rect x="196.7" y="196.5" width="24.9" height="24.9" fill="#a2a2a2"/>
<rect x="221.3" y="196.5" width="24.9" height="24.9" fill="#535353"/>
<rect x="245.9" y="196.5" width="49.5" height="24.9" fill="#4a4a4a"/>
<rect x="295" y="196.5" width="24.9" height="24.9" fill="#404040"/>
<rect x="319.6" y="196.5" width="24.9" height="24.9" fill="#4a4a4a"/>
<rect x="344.2" y="196.5" width="24.9" height="24.9" fill="#5d5d5d"/>
<rect x="368.8" y="196.5" width="74.1" height="24.9" fill="#676767"/>
<rect x="442.6" y="196.5" width="24.9" height="24.9" fill="#5d5d5d"/>
<rect x="467.1" y="196.5" width="24.9" height="24.9" fill="#4a4a4a"/>
<rect x="491.7" y="196.5" width="24.9" height="24.9" fill="#404040"/>
<rect x="516.3" y="196.5" width="24.9" height="24.9" fill="#4a4a4a"/>
<rect x="540.9" y="196.5" width="24.9" height="24.9" fill="#535353"/>
<rect x="565.5" y="196.5" width="24.9" height="24.9" fill="#5d5d5d"/>
<rect x="590.1" y="196.5" width="24.9" height="24.9" fill="#676767"/>
<rect x="614.7" y="196.5" width="24.9" height="24.9" fill="#717171"/>
<rect x="639.3" y="196.5" width="24.9" height="24.9" fill="#363636"/>
<rect x="663.8" y="196.5" width="24.9" height="24.9" fill="#2c2c2c"/>
<rect x="688.4" y="196.5" width="24.9" height="24.9" fill="#535353"/>
<rect x="713" y="196.5" width="64.9" height="24.9" fill="#717171"/>
<rect x="-40" y="221" width="89.5" height="24.9" fill="#676767"/>
<rect x="49.2" y="221" width="24.9" height="24.9" fill="#717171"/>
<rect x="73.8" y="221" width="24.9" height="24.9" fill="#989898"/>
<rect x="98.3" y="221" width="24.9" height="24.9" fill="#bfbfbf"/>
<rect x="122.9" y="221" width="24.9" height="24.9" fill="#c9c9c9"/>
<rect x="147.5" y="221" width="24.9" height="24.9" fill="#bfbfbf"/>
<rect x="172.1" y="221" width="24.9" height="24.9" fill="#acacac"/>
<rect x="196.7" y="221" width="24.9" height="24.9" fill="#8e8e8e"/>
<rect x="221.3" y="221" width="24.9" height="24.9" fill="#676767"/>
<rect x="245.9" y="221" width="24.9" height="24.9" fill="#535353"/>
<rect x="270.5" y="221" width="24.9" height="24.9" fill="#4a4a4a"/>
<rect x="295" y="221" width="24.9" height="24.9" fill="#404040"/>
<rect x="319.6" y="221" width="24.9" height="24.9" fill="#4a4a4a"/>
<rect x="344.2" y="221" width="49.5" height="24.9" fill="#535353"/>
<rect x="393.4" y="221" width="49.5" height="24.9" fill="#5d5d5d"/>
<rect x="442.6" y="221" width="24.9" height="24.9" fill="#535353"/>
<rect x="467.1" y="221" width="49.5" height="24.9" fill="#404040"/>
<rect x="516.3" y="221" width="74.1" height="24.9" fill="#4a4a4a"/>
<rect x="590.1" y="221" width="24.9" height="24.9" fill="#535353"/>
<rect x="614.7" y="221" width="24.9" height="24.9" fill="#363636"/>
<rect x="639.3" y="221" width="24.9" height="24.9" fill="#4a4a4a"/>
<rect x="663.8" y="221" width="24.9" height="24.9" fill="#535353"/>
<rect x="688.4" y="221" width="24.9" height="24.9" fill="#5d5d5d"/>
<rect x="713" y="221" width="64.9" height="24.9" fill="#717171"/>
<rect x="-40" y="245.6" width="64.9" height="24.9" fill="#717171"/>
<rect x="24.6" y="245.6" width="24.9" height="24.9" fill="#7b7b7b"/>
<rect x="49.2" y="245.6" width="24.9" height="24.9" fill="#848484"/>
<rect x="73.8" y="245.6" width="24.9" height="24.9" fill="#989898"/>
<rect x="98.3" y="245.6" width="24.9" height="24.9" fill="#acacac"/>
<rect x="122.9" y="245.6" width="24.9" height="24.9" fill="#b5b5b5"/>
<rect x="147.5" y="245.6" width="24.9" height="24.9" fill="#a2a2a2"/>
<rect x="172.1" y="245.6" width="24.9" height="24.9" fill="#989898"/>
<rect x="196.7" y="245.6" width="24.9" height="24.9" fill="#8e8e8e"/>
<rect x="221.3" y="245.6" width="24.9" height="24.9" fill="#535353"/>
<rect x="245.9" y="245.6" width="24.9" height="24.9" fill="#7b7b7b"/>
<rect x="270.5" y="245.6" width="24.9" height="24.9" fill="#404040"/>
<rect x="295" y="245.6" width="24.9" height="24.9" fill="#2c2c2c"/>
<rect x="319.6" y="245.6" width="24.9" height="24.9" fill="#363636"/>
<rect x="344.2" y="245.6" width="24.9" height="24.9" fill="#2c2c2c"/>
<rect x="368.8" y="245.6" width="24.9" height="24.9" fill="#363636"/>
<rect x="393.4" y="245.6" width="74.1" height="24.9" fill="#404040"/>
<rect x="467.1" y="245.6" width="49.5" height="24.9" fill="#363636"/>
<rect x="516.3" y="245.6" width="74.1" height="24.9" fill="#2c2c2c"/>
<rect x="590.1" y="245.6" width="49.5" height="24.9" fill="#4a4a4a"/>
<rect x="639.3" y="245.6" width="24.9" height="24.9" fill="#535353"/>
<rect x="663.8" y="245.6" width="24.9" height="24.9" fill="#5d5d5d"/>
<rect x="688.4" y="245.6" width="24.9" height="24.9" fill="#717171"/>
<rect x="713" y="245.6" width="64.9" height="24.9" fill="#989898"/>
<rect x="-40" y="270.1" width="64.9" height="24.9" fill="#676767"/>
<rect x="24.6" y="270.1" width="24.9" height="24.9" fill="#848484"/>
<rect x="49.2" y="270.1" width="49.5" height="24.9" fill="#8e8e8e"/>
<rect x="98.3" y="270.1" width="98.6" height="24.9" fill="#989898"/>
<rect x="196.7" y="270.1" width="24.9" height="24.9" fill="#8e8e8e"/>
<rect x="221.3" y="270.1" width="24.9" height="24.9" fill="#848484"/>
<rect x="245.9" y="270.1" width="24.9" height="24.9" fill="#989898"/>
<rect x="270.5" y="270.1" width="24.9" height="24.9" fill="#5d5d5d"/>
<rect x="295" y="270.1" width="24.9" height="24.9" fill="#363636"/>
<rect x="319.6" y="270.1" width="24.9" height="24.9" fill="#404040"/>
<rect x="344.2" y="270.1" width="24.9" height="24.9" fill="#4a4a4a"/>
<rect x="368.8" y="270.1" width="24.9" height="24.9" fill="#5d5d5d"/>
<rect x="393.4" y="270.1" width="24.9" height="24.9" fill="#8e8e8e"/>
<rect x="418" y="270.1" width="74.1" height="24.9" fill="#989898"/>
<rect x="491.7" y="270.1" width="24.9" height="24.9" fill="#535353"/>
<rect x="516.3" y="270.1" width="74.1" height="24.9" fill="#2c2c2c"/>
<rect x="590.1" y="270.1" width="24.9" height="24.9" fill="#404040"/>
<rect x="614.7" y="270.1" width="49.5" height="24.9" fill="#535353"/>
<rect x="663.8" y="270.1" width="24.9" height="24.9" fill="#676767"/>
<rect x="688.4" y="270.1" width="24.9" height="24.9" fill="#848484"/>
<rect x="713" y="270.1" width="64.9" height="24.9" fill="#a2a2a2"/>
<rect x="-40" y="294.7" width="89.5" height="24.9" fill="#b5b5b5"/>
<rect x="49.2" y="294.7" width="24.9" height="24.9" fill="#a2a2a2"/>
<rect x="73.8" y="294.7" width="49.5" height="24.9" fill="#7b7b7b"/>
<rect x="122.9" y="294.7" width="49.5" height="24.9" fill="#848484"/>
<rect x="172.1" y="294.7" width="24.9" height="24.9" fill="#b5b5b5"/>
<rect x="196.7" y="294.7" width="24.9" height="24.9" fill="#989898"/>
<rect x="221.3" y="294.7" width="24.9" height="24.9" fill="#848484"/>
<rect x="245.9" y="294.7" width="24.9" height="24.9" fill="#8e8e8e"/>
<rect x="270.5" y="294.7" width="24.9" height="24.9" fill="#717171"/>
<rect x="295" y="294.7" width="24.9" height="24.9" fill="#4a4a4a"/>
<rect x="319.6" y="294.7" width="24.9" height="24.9" fill="#363636"/>
<rect x="344.2" y="294.7" width="24.9" height="24.9" fill="#404040"/>
<rect x="368.8" y="294.7" width="24.9" height="24.9" fill="#535353"/>
<rect x="393.4" y="294.7" width="24.9" height="24.9" fill="#717171"/>
<rect x="418" y="294.7" width="24.9" height="24.9" fill="#989898"/>
<rect x="442.6" y="294.7" width="24.9" height="24.9" fill="#a2a2a2"/>
<rect x="467.1" y="294.7" width="24.9" height="24.9" fill="#b5b5b5"/>
<rect x="491.7" y="294.7" width="24.9" height="24.9" fill="#676767"/>
<rect x="516.3" y="294.7" width="24.9" height="24.9" fill="#404040"/>
<rect x="540.9" y="294.7" width="49.5" height="24.9" fill="#2c2c2c"/>
<rect x="590.1" y="294.7" width="24.9" height="24.9" fill="#404040"/>
<rect x="614.7" y="294.7" width="24.9" height="24.9" fill="#4a4a4a"/>
<rect x="639.3" y="294.7" width="24.9" height="24.9" fill="#5d5d5d"/>
<rect x="663.8" y="294.7" width="24.9" height="24.9" fill="#717171"/>
<rect x="688.4" y="294.7" width="24.9" height="24.9" fill="#8e8e8e"/>
<rect x="713" y="294.7" width="64.9" height="24.9" fill="#a2a2a2"/>
<rect x="-40" y="319.2" width="64.9" height="64.9" fill="#c9c9c9"/>
<rect x="24.6" y="319.2" width="24.9" height="64.9" fill="#b5b5b5"/>
<rect x="49.2" y="319.2" width="24.9" height="64.9" fill="#8e8e8e"/>
<rect x="73.8" y="319.2" width="24.9" height="64.9" fill="#a2a2a2"/>
<rect x="98.3" y="319.2" width="24.9" height="64.9" fill="#c9c9c9"/>
<rect x="122.9" y="319.2" width="24.9" height="64.9" fill="#bfbfbf"/>
<rect x="147.5" y="319.2" width="24.9" height="64.9" fill="#989898"/>
<rect x="172.1" y="319.2" width="49.5" height="64.9" fill="#8e8e8e"/>
<rect x="221.3" y="319.2" width="24.9" height="64.9" fill="#7b7b7b"/>
<rect x="245.9" y="319.2" width="24.9" height="64.9" fill="#848484"/>
<rect x="270.5" y="319.2" width="24.9" height="64.9" fill="#7b7b7b"/>
<rect x="295" y="319.2" width="24.9" height="64.9" fill="#676767"/>
<rect x="319.6" y="319.2" width="49.5" height="64.9" fill="#535353"/>
<rect x="368.8" y="319.2" width="24.9" height="64.9" fill="#676767"/>
<rect x="393.4" y="319.2" width="24.9" height="64.9" fill="#717171"/>
<rect x="418" y="319.2" width="24.9" height="64.9" fill="#7b7b7b"/>
<rect x="442.6" y="319.2" width="24.9" height="64.9" fill="#8e8e8e"/>
<rect x="467.1" y="319.2" width="24.9" height="64.9" fill="#acacac"/>
<rect x="491.7" y="319.2" width="24.9" height="64.9" fill="#5d5d5d"/>
<rect x="516.3" y="319.2" width="49.5" height="64.9" fill="#363636"/>
<rect x="565.5" y="319.2" width="24.9" height="64.9" fill="#4a4a4a"/>
<rect x="590.1" y="319.2" width="24.9" height="64.9" fill="#535353"/>
<rect x="614.7" y="319.2" width="24.9" height="64.9" fill="#676767"/>
<rect x="639.3" y="319.2" width="24.9" height="64.9" fill="#717171"/>
<rect x="663.8" y="319.2" width="24.9" height="64.9" fill="#848484"/>
<rect x="688.4" y="319.2" width="89.5" height="64.9" fill="#989898"/>
<polygon points="111.4,132.2 128.5,121.5 154.2,121.5 182,132.2 192.7,149.3 192.7,181.4 111.4,181.4 102.9,153.6" fill="#bfbfbf" stroke="#bfbfbf" stroke-width="3" stroke-linejoin="round"/>
<ellipse cx="693.5" cy="136.1" rx="12.8" ry="7.5" fill="#b5b5b5"/>
<polygon points="81.5,203.7 96.5,188.7 117.9,167.3 192.7,167.3 201.3,184.4 197,203.7 192.7,220.8 182,235.8 162.8,250.7 139.2,255 111.4,246.5 92.2,233.6 83.6,218.7" fill="#bfbfbf" stroke="#bfbfbf" stroke-width="3" stroke-linejoin="round"/>
<polygon points="-4.1,304.2 21.6,299.9 43,302.1 60.1,308.5 53.7,321.3 38.7,334.2 21.6,347 -4.1,347" fill="#bfbfbf" stroke="#bfbfbf" stroke-width="3" stroke-linejoin="round"/>
<polygon points="85.8,321.3 100.7,312.8 120,312.8 139.2,325.6 154.2,334.2 162.8,347 90,347" fill="#bfbfbf" stroke="#bfbfbf" stroke-width="3" stroke-linejoin="round"/>
<ellipse cx="190.6" cy="302.1" rx="11.8" ry="13.9" fill="#b5b5b5"/>
<ellipse cx="263.3" cy="293.5" rx="8.6" ry="7.5" fill="#a2a2a2"/>
<polygon points="407.6,286.8 433.2,274 465.2,271.9 488.7,282.5 497.2,303.9 492.9,329.5 480.1,346.5 471.6,320.9 454.5,312.4 433.2,320.9 416.1,308.1" fill="#a2a2a2" stroke="#a2a2a2" stroke-width="3" stroke-linejoin="round"/>
<ellipse cx="485.5" cy="303.9" rx="7.5" ry="17.1" fill="#b5b5b5"/>
<ellipse cx="377.7" cy="256.9" rx="14.9" ry="6.4" fill="#2c2c2c"/>
<ellipse cx="625.2" cy="244.1" rx="10.7" ry="7.5" fill="#363636"/>
<ellipse cx="422.6" cy="171.6" rx="13.9" ry="9.3" fill="#a2a2a2"/>
</g>
<polygon points="-10.5,-11.1 379.9,-11.1 379.9,50.9 369.2,53.1 342.5,57.4 321.1,60.6 299.7,62.7 278.3,63.8 256.9,64.8 235.5,65.9 214.1,67 192.7,68.1 171.3,70.2 149.9,70.2 128.5,71.3 107.2,70.2 85.8,68.1 64.4,63.8 43,58.4 21.6,50.9 -10.5,45.6" fill="#f5f5f5" stroke="#f5f5f5" stroke-width="3" stroke-linejoin="round"/>
<ellipse cx="21.6" cy="16.7" rx="23.5" ry="5.3" fill="#bfbfbf" transform="rotate(-8 21.6 16.7)"/>
<ellipse cx="145.7" cy="136.5" rx="10.7" ry="7.5" fill="#d3d3d3"/>
<polygon points="358.5,-11.1 747.9,-11.1 747.9,7.7 689.2,8.6 646.5,9.8 608.1,12.4 591.1,20.9 603.9,30.5 625.2,39.1 646.5,47.6 667.9,56.1 689.2,62.5 710.5,66.8 747.9,71.1 747.9,90.3 721.2,91.3 699.9,93.5 678.5,97.7 663.6,106.3 652.9,119.1 635.9,127.6 614.5,134 593.2,136.1 571.9,138.3 552.7,134 546.3,123.3 556.9,110.5 571.9,99.9 593.2,91.3 614.5,84.9 620.9,74.3 603.9,67.9 582.5,63.6 561.2,59.3 539.9,55.1 518.5,51.9 497.2,48.7 475.9,45.5 454.5,42.3 433.2,41.2 411.9,41.2 390.5,42.3 358.5,44.8" fill="#f5f5f5" stroke="#f5f5f5" stroke-width="3" stroke-linejoin="round"/>
<polygon points="678.5,31.6 699.9,23.1 747.9,18.8 747.9,57.2 721.2,52.9 699.9,46.5 684.9,40.1" fill="#0a0a0a" stroke="#0a0a0a" stroke-width="3" stroke-linejoin="round"/>
<ellipse cx="696.7" cy="116.9" rx="7.5" ry="5.3" fill="#2c2c2c"/>
<polygon points="92.2,210.1 111.4,199.4 128.5,203.7 145.7,186.6 162.8,197.3 175.6,203.7 177.7,214.4 160.6,218.7 141.4,227.2 132.8,237.9 115.7,229.4 98.6,225.1" fill="#d3d3d3" stroke="#d3d3d3" stroke-width="3" stroke-linejoin="round"/>
<ellipse cx="17.3" cy="325.6" rx="12.8" ry="10.7" fill="#c9c9c9"/>
<ellipse cx="111.4" cy="336.3" rx="10.7" ry="8.6" fill="#d3d3d3"/>
<polygon points="241.9,201.5 256.9,182.3 278.3,160.9 379.9,160.9 379.9,188.7 342.5,190.9 321.1,199.4 299.7,208 278.3,212.2 256.9,210.1" fill="#0a0a0a" stroke="#0a0a0a" stroke-width="3" stroke-linejoin="round"/>
<polygon points="286.8,250.7 310.4,246.5 369.2,248.6 379.9,248.6 379.9,265.7 353.2,267.9 342.5,282.8 321.1,285 304,274.3 289,263.6" fill="#191919" stroke="#191919" stroke-width="3" stroke-linejoin="round"/>
<polygon points="492.9,160.9 497.2,184.4 488.7,203.6 471.6,220.7 475.9,235.6 497.2,244.1 505.7,261.2 514.3,282.5 516.4,320.9 522.8,333.7 539.9,338 561.2,329.5 582.5,318.8 591.1,299.6 591.1,246.3 582.5,235.6 561.2,231.3 539.9,233.5 524.9,227.1 522.8,214.3 531.3,197.2 537.7,180.1 535.6,160.9" fill="#0a0a0a" stroke="#0a0a0a" stroke-width="3" stroke-linejoin="round"/>
<polygon points="642.3,188.7 657.2,178 678.5,175.9 697.7,180.1 702,192.9 689.2,210 672.1,220.7 652.9,218.5 644.4,205.7" fill="#0a0a0a" stroke="#0a0a0a" stroke-width="3" stroke-linejoin="round"/>
<ellipse cx="535.6" cy="301.7" rx="10.7" ry="7.5" fill="#535353"/>
<ellipse cx="561.2" cy="256.9" rx="4.7" ry="6" fill="#4a4a4a"/>
<polygon points="211.6,106.7 239.4,102 274.2,97.4 309,90.4 332.1,81.2 366.9,75.4 401.7,76.5 436.5,78.8 459.7,76.5 482.9,81.2 501.4,92.7 508.4,104.3 494.5,115.9 471.3,115.9 457.4,104.3 438.8,102 424.9,97.4 401.7,95.1 378.5,99.7 360,109 332.1,115.9 297.4,120.6 262.6,121.7 227.8,122.9 211.6,124" fill="#0a0a0a" stroke="#0a0a0a" stroke-width="3" stroke-linejoin="round"/>
<polygon points="246.3,183.2 257.9,162.3 281.1,150.7 295,132.2 320.5,129.8 346.1,139.1 366.9,153 383.2,166.9 378.5,183.2 360,192.5 341.4,201.7 336.8,215.6 313.6,220.3 295,211 274.2,211 253.3,201.7" fill="#0a0a0a" stroke="#0a0a0a" stroke-width="3" stroke-linejoin="round"/>
<polygon points="438.8,139.1 459.7,129.8 494.5,132.2 529.2,141.4 559.4,150.7 568.7,162.3 552.4,171.6 540.8,187.8 524.6,192.5 513,178.5 489.8,166.9 466.6,160 448.1,153" fill="#0a0a0a" stroke="#0a0a0a" stroke-width="3" stroke-linejoin="round"/>
<polygon points="292.7,250.4 327.5,248.1 336.8,264.3 292.7,264.3" fill="#191919" stroke="#191919" stroke-width="3" stroke-linejoin="round"/>
</g>
<use href="#coast"/>
</g>
<path class="gd" d="M147.5 122H442.6V24.6H147.5Z"/>
<path class="gd" d="M295 245.6H590.1V147.3H295Z"/>
<path class="gs" d="M516.3 245.6H590.1V319.2H516.3Z"/>
<rect class="fr" x="0" y="0" width="737.6" height="343.8"/>
<path class="mj" d="M0 343.8v12.8M147.5 343.8v12.8M295 343.8v12.8M442.6 343.8v12.8M590.1 343.8v12.8M737.6 343.8v12.8M0 294.7h-12.6M0 147.3h-12.6M0 0h-12.6"/>
<path class="mn" d="M49.2 343.8v6.8M98.3 343.8v6.8M196.7 343.8v6.8M245.9 343.8v6.8M344.2 343.8v6.8M393.4 343.8v6.8M491.7 343.8v6.8M540.9 343.8v6.8M639.3 343.8v6.8M688.4 343.8v6.8M0 343.8h-6.6M0 245.6h-6.6M0 196.5h-6.6M0 98.2h-6.6M0 49.1h-6.6"/>
<text class="tk" x="0" y="394.4" text-anchor="middle">0<tspan class="dg" dx="0.9" dy="-3.4">°</tspan></text>
<text class="tk" x="147.5" y="394.4" text-anchor="middle">30<tspan class="dg" dx="0.9" dy="-3.4">°</tspan><tspan dx="0.7" dy="3.4">E</tspan></text>
<text class="tk" x="295" y="394.4" text-anchor="middle">60<tspan class="dg" dx="0.9" dy="-3.4">°</tspan><tspan dx="0.7" dy="3.4">E</tspan></text>
<text class="tk" x="442.6" y="394.4" text-anchor="middle">90<tspan class="dg" dx="0.9" dy="-3.4">°</tspan><tspan dx="0.7" dy="3.4">E</tspan></text>
<text class="tk" x="590.1" y="394.4" text-anchor="middle">120<tspan class="dg" dx="0.9" dy="-3.4">°</tspan><tspan dx="0.7" dy="3.4">E</tspan></text>
<text class="tk" x="737.6" y="394.4" text-anchor="middle">150<tspan class="dg" dx="0.9" dy="-3.4">°</tspan><tspan dx="0.7" dy="3.4">E</tspan></text>
<text class="tk" x="-27.6" y="304.3" text-anchor="end">30<tspan class="dg" dx="0.9" dy="-3.4">°</tspan><tspan dx="0.7" dy="3.4">N</tspan></text>
<text class="tk" x="-27.6" y="156.9" text-anchor="end">60<tspan class="dg" dx="0.9" dy="-3.4">°</tspan><tspan dx="0.7" dy="3.4">N</tspan></text>
<text class="tk" x="-27.6" y="9.6" text-anchor="end">90<tspan class="dg" dx="0.9" dy="-3.4">°</tspan><tspan dx="0.7" dy="3.4">N</tspan></text>
<text class="tt" x="-2.6" y="-12.3">(c) Dec 30</text>
<text class="tt" y="-12.3"><tspan x="411.6">RSAT</tspan> <tspan x="506.5">=</tspan> <tspan class="r" x="538">4.5</tspan> <tspan class="b" x="596">-6.7</tspan> <tspan class="b" x="669">-10.0</tspan></text>
<text class="tr" transform="translate(162.9 -13.7) scale(1 0.806)" font-size="32.4">▲</text>
</g>
<!-- panel d -->
<g transform="translate(953.2 477.4)">
<g clip-path="url(#cp)"><g filter="url(#fld)">
<g filter="url(#gblur)">
<rect x="-40" y="-40" width="817.9" height="64.9" fill="#d3d3d3"/>
<rect x="-40" y="24.6" width="581.2" height="24.9" fill="#d3d3d3"/>
<rect x="540.9" y="24.6" width="24.9" height="24.9" fill="#bfbfbf"/>
<rect x="565.5" y="24.6" width="24.9" height="24.9" fill="#a2a2a2"/>
<rect x="590.1" y="24.6" width="24.9" height="24.9" fill="#848484"/>
<rect x="614.7" y="24.6" width="49.5" height="24.9" fill="#676767"/>
<rect x="663.8" y="24.6" width="24.9" height="24.9" fill="#717171"/>
<rect x="688.4" y="24.6" width="24.9" height="24.9" fill="#7b7b7b"/>
<rect x="713" y="24.6" width="64.9" height="24.9" fill="#8e8e8e"/>
<rect x="-40" y="49.1" width="89.5" height="24.9" fill="#acacac"/>
<rect x="49.2" y="49.1" width="24.9" height="24.9" fill="#b5b5b5"/>
<rect x="73.8" y="49.1" width="295.3" height="24.9" fill="#bfbfbf"/>
<rect x="368.8" y="49.1" width="74.1" height="24.9" fill="#c9c9c9"/>
<rect x="442.6" y="49.1" width="24.9" height="24.9" fill="#b5b5b5"/>
<rect x="467.1" y="49.1" width="24.9" height="24.9" fill="#a2a2a2"/>
<rect x="491.7" y="49.1" width="24.9" height="24.9" fill="#8e8e8e"/>
<rect x="516.3" y="49.1" width="24.9" height="24.9" fill="#a2a2a2"/>
<rect x="540.9" y="49.1" width="24.9" height="24.9" fill="#bfbfbf"/>
<rect x="565.5" y="49.1" width="24.9" height="24.9" fill="#b5b5b5"/>
<rect x="590.1" y="49.1" width="24.9" height="24.9" fill="#8e8e8e"/>
<rect x="614.7" y="49.1" width="24.9" height="24.9" fill="#4a4a4a"/>
<rect x="639.3" y="49.1" width="24.9" height="24.9" fill="#535353"/>
<rect x="663.8" y="49.1" width="24.9" height="24.9" fill="#5d5d5d"/>
<rect x="688.4" y="49.1" width="24.9" height="24.9" fill="#676767"/>
<rect x="713" y="49.1" width="64.9" height="24.9" fill="#535353"/>
<rect x="-40" y="73.7" width="114.1" height="24.9" fill="#989898"/>
<rect x="73.8" y="73.7" width="74.1" height="24.9" fill="#a2a2a2"/>
<rect x="147.5" y="73.7" width="24.9" height="24.9" fill="#989898"/>
<rect x="172.1" y="73.7" width="49.5" height="24.9" fill="#8e8e8e"/>
<rect x="221.3" y="73.7" width="24.9" height="24.9" fill="#989898"/>
<rect x="245.9" y="73.7" width="24.9" height="24.9" fill="#a2a2a2"/>
<rect x="270.5" y="73.7" width="49.5" height="24.9" fill="#b5b5b5"/>
<rect x="319.6" y="73.7" width="49.5" height="24.9" fill="#a2a2a2"/>
<rect x="368.8" y="73.7" width="49.5" height="24.9" fill="#7b7b7b"/>
<rect x="418" y="73.7" width="24.9" height="24.9" fill="#848484"/>
<rect x="442.6" y="73.7" width="49.5" height="24.9" fill="#8e8e8e"/>
<rect x="491.7" y="73.7" width="24.9" height="24.9" fill="#848484"/>
<rect x="516.3" y="73.7" width="24.9" height="24.9" fill="#8e8e8e"/>
<rect x="540.9" y="73.7" width="24.9" height="24.9" fill="#989898"/>
<rect x="565.5" y="73.7" width="24.9" height="24.9" fill="#acacac"/>
<rect x="590.1" y="73.7" width="24.9" height="24.9" fill="#b5b5b5"/>
<rect x="614.7" y="73.7" width="24.9" height="24.9" fill="#acacac"/>
<rect x="639.3" y="73.7" width="49.5" height="24.9" fill="#8e8e8e"/>
<rect x="688.4" y="73.7" width="24.9" height="24.9" fill="#989898"/>
<rect x="713" y="73.7" width="64.9" height="24.9" fill="#4a4a4a"/>
<rect x="-40" y="98.2" width="64.9" height="24.9" fill="#8e8e8e"/>
<rect x="24.6" y="98.2" width="24.9" height="24.9" fill="#848484"/>
<rect x="49.2" y="98.2" width="24.9" height="24.9" fill="#717171"/>
<rect x="73.8" y="98.2" width="24.9" height="24.9" fill="#5d5d5d"/>
<rect x="98.3" y="98.2" width="24.9" height="24.9" fill="#8e8e8e"/>
<rect x="122.9" y="98.2" width="24.9" height="24.9" fill="#acacac"/>
<rect x="147.5" y="98.2" width="24.9" height="24.9" fill="#b5b5b5"/>
<rect x="172.1" y="98.2" width="24.9" height="24.9" fill="#acacac"/>
<rect x="196.7" y="98.2" width="24.9" height="24.9" fill="#848484"/>
<rect x="221.3" y="98.2" width="24.9" height="24.9" fill="#535353"/>
<rect x="245.9" y="98.2" width="221.6" height="24.9" fill="#404040"/>
<rect x="467.1" y="98.2" width="24.9" height="24.9" fill="#717171"/>
<rect x="491.7" y="98.2" width="24.9" height="24.9" fill="#8e8e8e"/>
<rect x="516.3" y="98.2" width="123.2" height="24.9" fill="#989898"/>
<rect x="639.3" y="98.2" width="24.9" height="24.9" fill="#848484"/>
<rect x="663.8" y="98.2" width="24.9" height="24.9" fill="#676767"/>
<rect x="688.4" y="98.2" width="24.9" height="24.9" fill="#404040"/>
<rect x="713" y="98.2" width="64.9" height="24.9" fill="#717171"/>
<rect x="-40" y="122.8" width="64.9" height="24.9" fill="#848484"/>
<rect x="24.6" y="122.8" width="24.9" height="24.9" fill="#676767"/>
<rect x="49.2" y="122.8" width="24.9" height="24.9" fill="#7b7b7b"/>
<rect x="73.8" y="122.8" width="24.9" height="24.9" fill="#989898"/>
<rect x="98.3" y="122.8" width="24.9" height="24.9" fill="#8e8e8e"/>
<rect x="122.9" y="122.8" width="24.9" height="24.9" fill="#a2a2a2"/>
<rect x="147.5" y="122.8" width="74.1" height="24.9" fill="#bfbfbf"/>
<rect x="221.3" y="122.8" width="24.9" height="24.9" fill="#b5b5b5"/>
<rect x="245.9" y="122.8" width="24.9" height="24.9" fill="#8e8e8e"/>
<rect x="270.5" y="122.8" width="24.9" height="24.9" fill="#535353"/>
<rect x="295" y="122.8" width="197" height="24.9" fill="#404040"/>
<rect x="491.7" y="122.8" width="24.9" height="24.9" fill="#4a4a4a"/>
<rect x="516.3" y="122.8" width="24.9" height="24.9" fill="#5d5d5d"/>
<rect x="540.9" y="122.8" width="24.9" height="24.9" fill="#7b7b7b"/>
<rect x="565.5" y="122.8" width="24.9" height="24.9" fill="#8e8e8e"/>
<rect x="590.1" y="122.8" width="24.9" height="24.9" fill="#989898"/>
<rect x="614.7" y="122.8" width="24.9" height="24.9" fill="#848484"/>
<rect x="639.3" y="122.8" width="24.9" height="24.9" fill="#676767"/>
<rect x="663.8" y="122.8" width="24.9" height="24.9" fill="#5d5d5d"/>
<rect x="688.4" y="122.8" width="24.9" height="24.9" fill="#717171"/>
<rect x="713" y="122.8" width="64.9" height="24.9" fill="#7b7b7b"/>
<rect x="-40" y="147.3" width="64.9" height="24.9" fill="#848484"/>
<rect x="24.6" y="147.3" width="24.9" height="24.9" fill="#7b7b7b"/>
<rect x="49.2" y="147.3" width="24.9" height="24.9" fill="#848484"/>
<rect x="73.8" y="147.3" width="24.9" height="24.9" fill="#8e8e8e"/>
<rect x="98.3" y="147.3" width="24.9" height="24.9" fill="#7b7b7b"/>
<rect x="122.9" y="147.3" width="24.9" height="24.9" fill="#a2a2a2"/>
<rect x="147.5" y="147.3" width="74.1" height="24.9" fill="#bfbfbf"/>
<rect x="221.3" y="147.3" width="24.9" height="24.9" fill="#b5b5b5"/>
<rect x="245.9" y="147.3" width="24.9" height="24.9" fill="#a2a2a2"/>
<rect x="270.5" y="147.3" width="24.9" height="24.9" fill="#717171"/>
<rect x="295" y="147.3" width="270.8" height="24.9" fill="#404040"/>
<rect x="565.5" y="147.3" width="24.9" height="24.9" fill="#4a4a4a"/>
<rect x="590.1" y="147.3" width="24.9" height="24.9" fill="#676767"/>
<rect x="614.7" y="147.3" width="49.5" height="24.9" fill="#717171"/>
<rect x="663.8" y="147.3" width="24.9" height="24.9" fill="#676767"/>
<rect x="688.4" y="147.3" width="24.9" height="24.9" fill="#5d5d5d"/>
<rect x="713" y="147.3" width="64.9" height="24.9" fill="#676767"/>
<rect x="-40" y="171.9" width="89.5" height="24.9" fill="#848484"/>
<rect x="49.2" y="171.9" width="49.5" height="24.9" fill="#7b7b7b"/>
<rect x="98.3" y="171.9" width="24.9" height="24.9" fill="#8e8e8e"/>
<rect x="122.9" y="171.9" width="24.9" height="24.9" fill="#b5b5b5"/>
<rect x="147.5" y="171.9" width="49.5" height="24.9" fill="#bfbfbf"/>
<rect x="196.7" y="171.9" width="24.9" height="24.9" fill="#989898"/>
<rect x="221.3" y="171.9" width="24.9" height="24.9" fill="#8e8e8e"/>
<rect x="245.9" y="171.9" width="24.9" height="24.9" fill="#989898"/>
<rect x="270.5" y="171.9" width="24.9" height="24.9" fill="#848484"/>
<rect x="295" y="171.9" width="221.6" height="24.9" fill="#404040"/>
<rect x="516.3" y="171.9" width="74.1" height="24.9" fill="#4a4a4a"/>
<rect x="590.1" y="171.9" width="24.9" height="24.9" fill="#5d5d5d"/>
<rect x="614.7" y="171.9" width="24.9" height="24.9" fill="#676767"/>
<rect x="639.3" y="171.9" width="24.9" height="24.9" fill="#535353"/>
<rect x="663.8" y="171.9" width="49.5" height="24.9" fill="#404040"/>
<rect x="713" y="171.9" width="64.9" height="24.9" fill="#717171"/>
<rect x="-40" y="196.5" width="64.9" height="24.9" fill="#4a4a4a"/>
<rect x="24.6" y="196.5" width="24.9" height="24.9" fill="#676767"/>
<rect x="49.2" y="196.5" width="24.9" height="24.9" fill="#8e8e8e"/>
<rect x="73.8" y="196.5" width="49.5" height="24.9" fill="#a2a2a2"/>
<rect x="122.9" y="196.5" width="24.9" height="24.9" fill="#b5b5b5"/>
<rect x="147.5" y="196.5" width="24.9" height="24.9" fill="#bfbfbf"/>
<rect x="172.1" y="196.5" width="24.9" height="24.9" fill="#b5b5b5"/>
<rect x="196.7" y="196.5" width="24.9" height="24.9" fill="#989898"/>
<rect x="221.3" y="196.5" width="24.9" height="24.9" fill="#848484"/>
<rect x="245.9" y="196.5" width="49.5" height="24.9" fill="#7b7b7b"/>
<rect x="295" y="196.5" width="24.9" height="24.9" fill="#4a4a4a"/>
<rect x="319.6" y="196.5" width="49.5" height="24.9" fill="#404040"/>
<rect x="368.8" y="196.5" width="24.9" height="24.9" fill="#535353"/>
<rect x="393.4" y="196.5" width="24.9" height="24.9" fill="#5d5d5d"/>
<rect x="418" y="196.5" width="49.5" height="24.9" fill="#676767"/>
<rect x="467.1" y="196.5" width="24.9" height="24.9" fill="#535353"/>
<rect x="491.7" y="196.5" width="197" height="24.9" fill="#404040"/>
<rect x="688.4" y="196.5" width="24.9" height="24.9" fill="#535353"/>
<rect x="713" y="196.5" width="64.9" height="24.9" fill="#676767"/>
<rect x="-40" y="221" width="89.5" height="24.9" fill="#717171"/>
<rect x="49.2" y="221" width="24.9" height="24.9" fill="#848484"/>
<rect x="73.8" y="221" width="24.9" height="24.9" fill="#8e8e8e"/>
<rect x="98.3" y="221" width="24.9" height="24.9" fill="#989898"/>
<rect x="122.9" y="221" width="24.9" height="24.9" fill="#a2a2a2"/>
<rect x="147.5" y="221" width="24.9" height="24.9" fill="#acacac"/>
<rect x="172.1" y="221" width="24.9" height="24.9" fill="#a2a2a2"/>
<rect x="196.7" y="221" width="24.9" height="24.9" fill="#8e8e8e"/>
<rect x="221.3" y="221" width="24.9" height="24.9" fill="#7b7b7b"/>
<rect x="245.9" y="221" width="24.9" height="24.9" fill="#848484"/>
<rect x="270.5" y="221" width="24.9" height="24.9" fill="#717171"/>
<rect x="295" y="221" width="74.1" height="24.9" fill="#404040"/>
<rect x="368.8" y="221" width="24.9" height="24.9" fill="#535353"/>
<rect x="393.4" y="221" width="24.9" height="24.9" fill="#404040"/>
<rect x="418" y="221" width="24.9" height="24.9" fill="#5d5d5d"/>
<rect x="442.6" y="221" width="24.9" height="24.9" fill="#717171"/>
<rect x="467.1" y="221" width="24.9" height="24.9" fill="#676767"/>
<rect x="491.7" y="221" width="24.9" height="24.9" fill="#4a4a4a"/>
<rect x="516.3" y="221" width="24.9" height="24.9" fill="#5d5d5d"/>
<rect x="540.9" y="221" width="24.9" height="24.9" fill="#4a4a4a"/>
<rect x="565.5" y="221" width="49.5" height="24.9" fill="#404040"/>
<rect x="614.7" y="221" width="24.9" height="24.9" fill="#4a4a4a"/>
<rect x="639.3" y="221" width="24.9" height="24.9" fill="#535353"/>
<rect x="663.8" y="221" width="49.5" height="24.9" fill="#5d5d5d"/>
<rect x="713" y="221" width="64.9" height="24.9" fill="#676767"/>
<rect x="-40" y="245.6" width="89.5" height="24.9" fill="#717171"/>
<rect x="49.2" y="245.6" width="49.5" height="24.9" fill="#7b7b7b"/>
<rect x="98.3" y="245.6" width="24.9" height="24.9" fill="#848484"/>
<rect x="122.9" y="245.6" width="49.5" height="24.9" fill="#a2a2a2"/>
<rect x="172.1" y="245.6" width="24.9" height="24.9" fill="#989898"/>
<rect x="196.7" y="245.6" width="24.9" height="24.9" fill="#848484"/>
<rect x="221.3" y="245.6" width="24.9" height="24.9" fill="#4a4a4a"/>
<rect x="245.9" y="245.6" width="24.9" height="24.9" fill="#717171"/>
<rect x="270.5" y="245.6" width="24.9" height="24.9" fill="#535353"/>
<rect x="295" y="245.6" width="49.5" height="24.9" fill="#404040"/>
<rect x="344.2" y="245.6" width="24.9" height="24.9" fill="#4a4a4a"/>
<rect x="368.8" y="245.6" width="24.9" height="24.9" fill="#676767"/>
<rect x="393.4" y="245.6" width="24.9" height="24.9" fill="#535353"/>
<rect x="418" y="245.6" width="24.9" height="24.9" fill="#676767"/>
<rect x="442.6" y="245.6" width="24.9" height="24.9" fill="#717171"/>
<rect x="467.1" y="245.6" width="24.9" height="24.9" fill="#676767"/>
<rect x="491.7" y="245.6" width="24.9" height="24.9" fill="#535353"/>
<rect x="516.3" y="245.6" width="24.9" height="24.9" fill="#404040"/>
<rect x="540.9" y="245.6" width="24.9" height="24.9" fill="#717171"/>
<rect x="565.5" y="245.6" width="24.9" height="24.9" fill="#4a4a4a"/>
<rect x="590.1" y="245.6" width="24.9" height="24.9" fill="#676767"/>
<rect x="614.7" y="245.6" width="49.5" height="24.9" fill="#717171"/>
<rect x="663.8" y="245.6" width="114.1" height="24.9" fill="#676767"/>
<rect x="-40" y="270.1" width="89.5" height="24.9" fill="#676767"/>
<rect x="49.2" y="270.1" width="24.9" height="24.9" fill="#717171"/>
<rect x="73.8" y="270.1" width="24.9" height="24.9" fill="#7b7b7b"/>
<rect x="98.3" y="270.1" width="24.9" height="24.9" fill="#848484"/>
<rect x="122.9" y="270.1" width="24.9" height="24.9" fill="#8e8e8e"/>
<rect x="147.5" y="270.1" width="24.9" height="24.9" fill="#989898"/>
<rect x="172.1" y="270.1" width="24.9" height="24.9" fill="#a2a2a2"/>
<rect x="196.7" y="270.1" width="24.9" height="24.9" fill="#8e8e8e"/>
<rect x="221.3" y="270.1" width="24.9" height="24.9" fill="#848484"/>
<rect x="245.9" y="270.1" width="24.9" height="24.9" fill="#7b7b7b"/>
<rect x="270.5" y="270.1" width="24.9" height="24.9" fill="#535353"/>
<rect x="295" y="270.1" width="24.9" height="24.9" fill="#404040"/>
<rect x="319.6" y="270.1" width="24.9" height="24.9" fill="#4a4a4a"/>
<rect x="344.2" y="270.1" width="24.9" height="24.9" fill="#676767"/>
<rect x="368.8" y="270.1" width="24.9" height="24.9" fill="#8e8e8e"/>
<rect x="393.4" y="270.1" width="24.9" height="24.9" fill="#989898"/>
<rect x="418" y="270.1" width="24.9" height="24.9" fill="#acacac"/>
<rect x="442.6" y="270.1" width="24.9" height="24.9" fill="#bfbfbf"/>
<rect x="467.1" y="270.1" width="24.9" height="24.9" fill="#acacac"/>
<rect x="491.7" y="270.1" width="24.9" height="24.9" fill="#535353"/>
<rect x="516.3" y="270.1" width="24.9" height="24.9" fill="#404040"/>
<rect x="540.9" y="270.1" width="24.9" height="24.9" fill="#676767"/>
<rect x="565.5" y="270.1" width="24.9" height="24.9" fill="#404040"/>
<rect x="590.1" y="270.1" width="24.9" height="24.9" fill="#676767"/>
<rect x="614.7" y="270.1" width="163.2" height="24.9" fill="#717171"/>
<rect x="-40" y="294.7" width="64.9" height="24.9" fill="#8e8e8e"/>
<rect x="24.6" y="294.7" width="98.6" height="24.9" fill="#acacac"/>
<rect x="122.9" y="294.7" width="24.9" height="24.9" fill="#7b7b7b"/>
<rect x="147.5" y="294.7" width="24.9" height="24.9" fill="#8e8e8e"/>
<rect x="172.1" y="294.7" width="24.9" height="24.9" fill="#acacac"/>
<rect x="196.7" y="294.7" width="24.9" height="24.9" fill="#a2a2a2"/>
<rect x="221.3" y="294.7" width="24.9" height="24.9" fill="#8e8e8e"/>
<rect x="245.9" y="294.7" width="24.9" height="24.9" fill="#848484"/>
<rect x="270.5" y="294.7" width="24.9" height="24.9" fill="#5d5d5d"/>
<rect x="295" y="294.7" width="24.9" height="24.9" fill="#4a4a4a"/>
<rect x="319.6" y="294.7" width="24.9" height="24.9" fill="#676767"/>
<rect x="344.2" y="294.7" width="24.9" height="24.9" fill="#717171"/>
<rect x="368.8" y="294.7" width="24.9" height="24.9" fill="#848484"/>
<rect x="393.4" y="294.7" width="24.9" height="24.9" fill="#989898"/>
<rect x="418" y="294.7" width="24.9" height="24.9" fill="#a2a2a2"/>
<rect x="442.6" y="294.7" width="24.9" height="24.9" fill="#989898"/>
<rect x="467.1" y="294.7" width="24.9" height="24.9" fill="#acacac"/>
<rect x="491.7" y="294.7" width="24.9" height="24.9" fill="#676767"/>
<rect x="516.3" y="294.7" width="24.9" height="24.9" fill="#5d5d5d"/>
<rect x="540.9" y="294.7" width="24.9" height="24.9" fill="#535353"/>
<rect x="565.5" y="294.7" width="24.9" height="24.9" fill="#404040"/>
<rect x="590.1" y="294.7" width="24.9" height="24.9" fill="#5d5d5d"/>
<rect x="614.7" y="294.7" width="24.9" height="24.9" fill="#676767"/>
<rect x="639.3" y="294.7" width="74.1" height="24.9" fill="#717171"/>
<rect x="713" y="294.7" width="64.9" height="24.9" fill="#7b7b7b"/>
<rect x="-40" y="319.2" width="64.9" height="64.9" fill="#a2a2a2"/>
<rect x="24.6" y="319.2" width="24.9" height="64.9" fill="#bfbfbf"/>
<rect x="49.2" y="319.2" width="24.9" height="64.9" fill="#a2a2a2"/>
<rect x="73.8" y="319.2" width="24.9" height="64.9" fill="#b5b5b5"/>
<rect x="98.3" y="319.2" width="24.9" height="64.9" fill="#bfbfbf"/>
<rect x="122.9" y="319.2" width="49.5" height="64.9" fill="#848484"/>
<rect x="172.1" y="319.2" width="24.9" height="64.9" fill="#8e8e8e"/>
<rect x="196.7" y="319.2" width="24.9" height="64.9" fill="#989898"/>
<rect x="221.3" y="319.2" width="24.9" height="64.9" fill="#8e8e8e"/>
<rect x="245.9" y="319.2" width="24.9" height="64.9" fill="#989898"/>
<rect x="270.5" y="319.2" width="24.9" height="64.9" fill="#848484"/>
<rect x="295" y="319.2" width="24.9" height="64.9" fill="#717171"/>
<rect x="319.6" y="319.2" width="24.9" height="64.9" fill="#676767"/>
<rect x="344.2" y="319.2" width="24.9" height="64.9" fill="#717171"/>
<rect x="368.8" y="319.2" width="24.9" height="64.9" fill="#a2a2a2"/>
<rect x="393.4" y="319.2" width="24.9" height="64.9" fill="#848484"/>
<rect x="418" y="319.2" width="24.9" height="64.9" fill="#7b7b7b"/>
<rect x="442.6" y="319.2" width="24.9" height="64.9" fill="#989898"/>
<rect x="467.1" y="319.2" width="24.9" height="64.9" fill="#a2a2a2"/>
<rect x="491.7" y="319.2" width="24.9" height="64.9" fill="#5d5d5d"/>
<rect x="516.3" y="319.2" width="49.5" height="64.9" fill="#404040"/>
<rect x="565.5" y="319.2" width="24.9" height="64.9" fill="#535353"/>
<rect x="590.1" y="319.2" width="49.5" height="64.9" fill="#676767"/>
<rect x="639.3" y="319.2" width="24.9" height="64.9" fill="#717171"/>
<rect x="663.8" y="319.2" width="114.1" height="64.9" fill="#7b7b7b"/>
<polygon points="128.1,110.8 145.3,100.1 162.4,106.6 170.9,123.7 192.3,125.8 213.7,127.9 235.1,136.5 241.5,153.6 235.1,181.4 132.4,181.4 136.7,149.3 128.1,132.2" fill="#bfbfbf" stroke="#bfbfbf" stroke-width="3" stroke-linejoin="round"/>
<ellipse cx="83.2" cy="117.3" rx="12.8" ry="10.7" fill="#5d5d5d"/>
<ellipse cx="40.4" cy="140.8" rx="12.8" ry="8.6" fill="#676767"/>
<polygon points="550.6,42.4 572,38.1 587,55.2 604.1,70.2 625.5,80.9 636.2,91.6 614.8,93.7 593.4,85.2 572,74.5 557,63.8" fill="#bfbfbf" stroke="#bfbfbf" stroke-width="3" stroke-linejoin="round"/>
<polygon points="599.8,48.8 614.8,40.2 646.9,38.1 689.7,40.2 737.8,44.5 737.8,63.8 711.1,65.9 668.3,68.1 636.2,65.9 614.8,61.6" fill="#535353" stroke="#535353" stroke-width="3" stroke-linejoin="round"/>
<ellipse cx="631.9" cy="53.1" rx="15" ry="6.4" fill="#404040"/>
<polygon points="128.1,203.7 136.7,182.3 145.3,167.3 192.3,167.3 198.7,188.7 192.3,210.1 181.6,220.8 149.5,220.8 132.4,214.4" fill="#bfbfbf" stroke="#bfbfbf" stroke-width="3" stroke-linejoin="round"/>
<ellipse cx="149.5" cy="248.6" rx="19.3" ry="8.6" fill="#b5b5b5"/>
<ellipse cx="192.3" cy="302.1" rx="10.7" ry="8.6" fill="#b5b5b5" transform="rotate(40 192.3 302.1)"/>
<polygon points="23.3,312.8 42.6,304.2 74.7,304.2 102.5,306.4 119.6,317.1 121.7,334.2 111,347 21.2,347 19.1,329.9" fill="#bfbfbf" stroke="#bfbfbf" stroke-width="3" stroke-linejoin="round"/>
<ellipse cx="68.3" cy="329.9" rx="9.6" ry="9.6" fill="#989898"/>
<polygon points="407.3,287.1 424.4,272.1 450.1,265.7 475.8,270 492.9,287.1 503.6,308.5 497.1,329.9 480,334.2 462.9,321.3 458.6,304.2 443.7,299.9 422.3,302.1" fill="#b5b5b5" stroke="#b5b5b5" stroke-width="3" stroke-linejoin="round"/>
<ellipse cx="465.1" cy="299.9" rx="8.6" ry="5.3" fill="#8e8e8e"/>
<ellipse cx="377.4" cy="321.3" rx="8.6" ry="10.7" fill="#acacac"/>
</g>
<polygon points="-10.9,-11.1 379.5,-11.1 379.5,80.9 368.8,80.9 352.8,78.7 337.8,78.7 320.7,83 299.3,85.2 277.9,83 267.2,78.7 256.5,72.3 235.1,70.2 213.7,69.1 192.3,68.1 170.9,68.1 149.5,68.1 128.1,70.2 106.8,70.2 85.4,68.1 64,64.8 42.6,60.6 21.2,56.3 -10.9,53.1" fill="#f5f5f5" stroke="#f5f5f5" stroke-width="3" stroke-linejoin="round"/>
<polygon points="170.9,149.3 181.6,138.6 203,136.5 211.6,147.2 205.2,162.2 192.3,181.4 166.7,181.4" fill="#d3d3d3" stroke="#d3d3d3" stroke-width="3" stroke-linejoin="round"/>
<polygon points="226.5,115.1 245.8,106.6 267.2,100.1 288.6,95.9 310,91.6 331.4,89.4 352.8,88.4 379.5,89.4 379.5,181.4 297.1,181.4 284.3,153.6 275.7,140.8 262.9,130.1 245.8,121.5" fill="#0a0a0a" stroke="#0a0a0a" stroke-width="3" stroke-linejoin="round"/>
<polygon points="358.1,-11.1 748.5,-11.1 748.5,21 689.7,22.7 646.9,23.8 604.1,24.8 582.7,26.3 561.3,29.5 544.2,36 550.6,42.4 557,50.9 552.8,59.5 539.9,63.8 518.5,61.6 497.1,60.6 475.8,62.7 454.4,65.9 433,70.2 411.6,74.5 390.2,78.7 358.1,84.1" fill="#f5f5f5" stroke="#f5f5f5" stroke-width="3" stroke-linejoin="round"/>
<ellipse cx="741" cy="80.9" rx="15" ry="11.8" fill="#2c2c2c"/>
<polygon points="358.1,90.5 390.2,93.7 411.6,98 433,102.3 454.4,104.4 471.5,106.6 480,115.1 492.9,123.7 507.8,132.2 529.2,136.5 550.6,138.6 572,145.1 582.7,153.6 584.9,181.4 358.1,181.4" fill="#0a0a0a" stroke="#0a0a0a" stroke-width="3" stroke-linejoin="round"/>
<ellipse cx="696.1" cy="118.3" rx="12.8" ry="6.4" fill="#2c2c2c"/>
<polygon points="153.8,167.3 177.3,167.3 181.6,184.4 177.3,203.7 162.4,212.2 145.3,205.8 141,193 147.4,180.2" fill="#d3d3d3" stroke="#d3d3d3" stroke-width="3" stroke-linejoin="round"/>
<ellipse cx="36.2" cy="323.5" rx="10.7" ry="8.6" fill="#c9c9c9"/>
<ellipse cx="102.5" cy="321.3" rx="9.6" ry="9.6" fill="#c9c9c9"/>
<ellipse cx="10.5" cy="203.7" rx="10.7" ry="6" fill="#2c2c2c"/>
<ellipse cx="229.8" cy="258.2" rx="5.3" ry="5.3" fill="#2c2c2c"/>
<polygon points="299.3,160.9 303.6,188.7 320.7,203.7 324.9,225.1 310,235.8 286.4,244.3 284.3,261.4 295,274.3 316.4,278.6 337.8,274.3 350.6,257.2 368.8,252.9 379.5,252.9 379.5,160.9" fill="#0a0a0a" stroke="#0a0a0a" stroke-width="3" stroke-linejoin="round"/>
<ellipse cx="337.8" cy="233.6" rx="7.5" ry="7.5" fill="#4a4a4a"/>
<ellipse cx="346.3" cy="195.1" rx="7.5" ry="4.3" fill="#404040"/>
<ellipse cx="295" cy="295.7" rx="11.8" ry="11.8" fill="#2c2c2c"/>
<polygon points="358.1,160.9 507.8,160.9 518.5,180.2 505.7,193 514.3,203.7 539.9,205.8 561.3,201.5 582.7,203.7 604.1,208 636.2,208 657.6,199.4 679,184.4 685.4,160.9 702.5,160.9 702.5,180.2 696.1,193 685.4,205.8 672.6,214.4 657.6,222.9 642.6,231.5 625.5,233.6 604.1,229.4 591.3,229.4 582.7,233.6 561.3,235.8 539.9,233.6 522.8,229.4 514.3,233.6 505.7,227.2 488.6,227.2 475.8,214.4 454.4,210.1 433,212.2 411.6,212.2 390.2,214.4 358.1,215.5" fill="#0a0a0a" stroke="#0a0a0a" stroke-width="3" stroke-linejoin="round"/>
<polygon points="507.8,160.9 591.3,160.9 591.3,178 561.3,182.3 529.2,184.4 514.3,180.2" fill="#0a0a0a" stroke="#0a0a0a" stroke-width="3" stroke-linejoin="round"/>
<polygon points="567.7,278.6 578.4,261.4 591.3,257.2 591.3,321.3 574.2,321.3 550.6,319.2 561.3,304.2" fill="#0a0a0a" stroke="#0a0a0a" stroke-width="3" stroke-linejoin="round"/>
<ellipse cx="528.2" cy="281.8" rx="10.7" ry="6.4" fill="#2c2c2c" transform="rotate(45 528.2 281.8)"/>
<ellipse cx="507.8" cy="289.3" rx="4.3" ry="5.3" fill="#2c2c2c"/>
<ellipse cx="403" cy="237.9" rx="12.8" ry="6.4" fill="#363636"/>
<polygon points="505.7,334.2 518.5,325.6 550.6,321.3 582.7,321.3 572,334.2 550.6,353.4 505.7,353.4" fill="#191919" stroke="#191919" stroke-width="3" stroke-linejoin="round"/>
<ellipse cx="462.9" cy="280.7" rx="8.6" ry="6.4" fill="#c9c9c9"/>
</g>
<use href="#coast"/>
</g>
<path class="gd" d="M147.5 122H442.6V24.6H147.5Z"/>
<path class="gd" d="M295 245.6H590.1V147.3H295Z"/>
<path class="gs" d="M516.3 245.6H590.1V319.2H516.3Z"/>
<rect class="fr" x="0" y="0" width="737.6" height="343.8"/>
<path class="mj" d="M0 343.8v12.8M147.5 343.8v12.8M295 343.8v12.8M442.6 343.8v12.8M590.1 343.8v12.8M737.6 343.8v12.8M0 294.7h-12.6M0 147.3h-12.6M0 0h-12.6"/>
<path class="mn" d="M49.2 343.8v6.8M98.3 343.8v6.8M196.7 343.8v6.8M245.9 343.8v6.8M344.2 343.8v6.8M393.4 343.8v6.8M491.7 343.8v6.8M540.9 343.8v6.8M639.3 343.8v6.8M688.4 343.8v6.8M0 343.8h-6.6M0 245.6h-6.6M0 196.5h-6.6M0 98.2h-6.6M0 49.1h-6.6"/>
<text class="tk" x="0" y="394.4" text-anchor="middle">0<tspan class="dg" dx="0.9" dy="-3.4">°</tspan></text>
<text class="tk" x="147.5" y="394.4" text-anchor="middle">30<tspan class="dg" dx="0.9" dy="-3.4">°</tspan><tspan dx="0.7" dy="3.4">E</tspan></text>
<text class="tk" x="295" y="394.4" text-anchor="middle">60<tspan class="dg" dx="0.9" dy="-3.4">°</tspan><tspan dx="0.7" dy="3.4">E</tspan></text>
<text class="tk" x="442.6" y="394.4" text-anchor="middle">90<tspan class="dg" dx="0.9" dy="-3.4">°</tspan><tspan dx="0.7" dy="3.4">E</tspan></text>
<text class="tk" x="590.1" y="394.4" text-anchor="middle">120<tspan class="dg" dx="0.9" dy="-3.4">°</tspan><tspan dx="0.7" dy="3.4">E</tspan></text>
<text class="tk" x="737.6" y="394.4" text-anchor="middle">150<tspan class="dg" dx="0.9" dy="-3.4">°</tspan><tspan dx="0.7" dy="3.4">E</tspan></text>
<text class="tk" x="-27.6" y="304.3" text-anchor="end">30<tspan class="dg" dx="0.9" dy="-3.4">°</tspan><tspan dx="0.7" dy="3.4">N</tspan></text>
<text class="tk" x="-27.6" y="156.9" text-anchor="end">60<tspan class="dg" dx="0.9" dy="-3.4">°</tspan><tspan dx="0.7" dy="3.4">N</tspan></text>
<text class="tk" x="-27.6" y="9.6" text-anchor="end">90<tspan class="dg" dx="0.9" dy="-3.4">°</tspan><tspan dx="0.7" dy="3.4">N</tspan></text>
<text class="tt" x="-2.6" y="-12.3">(d) Jan 1</text>
<text class="tt" y="-12.3"><tspan x="416.8">RSAT</tspan> <tspan x="511.7">=</tspan> <tspan class="r" x="537.2">7.9</tspan> <tspan class="b" x="596.6">-9.9</tspan> <tspan class="b" x="669.6">-5.8</tspan></text>
</g>
<!-- panel e -->
<g transform="translate(83.8 917.4)">
<g clip-path="url(#cp)"><g filter="url(#fld)">
<g filter="url(#gblur)">
<rect x="-40" y="-40" width="409.1" height="64.9" fill="#8e8e8e"/>
<rect x="368.8" y="-40" width="123.2" height="64.9" fill="#989898"/>
<rect x="491.7" y="-40" width="98.6" height="64.9" fill="#acacac"/>
<rect x="590.1" y="-40" width="74.1" height="64.9" fill="#b5b5b5"/>
<rect x="663.8" y="-40" width="114.1" height="64.9" fill="#bfbfbf"/>
<rect x="-40" y="24.6" width="679.6" height="24.9" fill="#d3d3d3"/>
<rect x="639.3" y="24.6" width="49.5" height="24.9" fill="#c9c9c9"/>
<rect x="688.4" y="24.6" width="89.5" height="24.9" fill="#bfbfbf"/>
<rect x="-40" y="49.1" width="64.9" height="24.9" fill="#acacac"/>
<rect x="24.6" y="49.1" width="24.9" height="24.9" fill="#b5b5b5"/>
<rect x="49.2" y="49.1" width="49.5" height="24.9" fill="#bfbfbf"/>
<rect x="98.3" y="49.1" width="467.4" height="24.9" fill="#c9c9c9"/>
<rect x="565.5" y="49.1" width="24.9" height="24.9" fill="#bfbfbf"/>
<rect x="590.1" y="49.1" width="24.9" height="24.9" fill="#b5b5b5"/>
<rect x="614.7" y="49.1" width="24.9" height="24.9" fill="#acacac"/>
<rect x="639.3" y="49.1" width="49.5" height="24.9" fill="#a2a2a2"/>
<rect x="688.4" y="49.1" width="24.9" height="24.9" fill="#989898"/>
<rect x="713" y="49.1" width="64.9" height="24.9" fill="#8e8e8e"/>
<rect x="-40" y="73.7" width="89.5" height="24.9" fill="#989898"/>
<rect x="49.2" y="73.7" width="49.5" height="24.9" fill="#a2a2a2"/>
<rect x="98.3" y="73.7" width="49.5" height="24.9" fill="#acacac"/>
<rect x="147.5" y="73.7" width="49.5" height="24.9" fill="#a2a2a2"/>
<rect x="196.7" y="73.7" width="49.5" height="24.9" fill="#989898"/>
<rect x="245.9" y="73.7" width="24.9" height="24.9" fill="#a2a2a2"/>
<rect x="270.5" y="73.7" width="24.9" height="24.9" fill="#acacac"/>
<rect x="295" y="73.7" width="24.9" height="24.9" fill="#989898"/>
<rect x="319.6" y="73.7" width="24.9" height="24.9" fill="#676767"/>
<rect x="344.2" y="73.7" width="24.9" height="24.9" fill="#4a4a4a"/>
<rect x="368.8" y="73.7" width="24.9" height="24.9" fill="#989898"/>
<rect x="393.4" y="73.7" width="24.9" height="24.9" fill="#bfbfbf"/>
<rect x="418" y="73.7" width="49.5" height="24.9" fill="#c9c9c9"/>
<rect x="467.1" y="73.7" width="24.9" height="24.9" fill="#bfbfbf"/>
<rect x="491.7" y="73.7" width="24.9" height="24.9" fill="#717171"/>
<rect x="516.3" y="73.7" width="74.1" height="24.9" fill="#535353"/>
<rect x="590.1" y="73.7" width="24.9" height="24.9" fill="#4a4a4a"/>
<rect x="614.7" y="73.7" width="24.9" height="24.9" fill="#404040"/>
<rect x="639.3" y="73.7" width="24.9" height="24.9" fill="#535353"/>
<rect x="663.8" y="73.7" width="24.9" height="24.9" fill="#676767"/>
<rect x="688.4" y="73.7" width="24.9" height="24.9" fill="#717171"/>
<rect x="713" y="73.7" width="64.9" height="24.9" fill="#7b7b7b"/>
<rect x="-40" y="98.2" width="64.9" height="24.9" fill="#989898"/>
<rect x="24.6" y="98.2" width="24.9" height="24.9" fill="#8e8e8e"/>
<rect x="49.2" y="98.2" width="24.9" height="24.9" fill="#848484"/>
<rect x="73.8" y="98.2" width="24.9" height="24.9" fill="#717171"/>
<rect x="98.3" y="98.2" width="98.6" height="24.9" fill="#676767"/>
<rect x="196.7" y="98.2" width="49.5" height="24.9" fill="#717171"/>
<rect x="245.9" y="98.2" width="24.9" height="24.9" fill="#676767"/>
<rect x="270.5" y="98.2" width="24.9" height="24.9" fill="#5d5d5d"/>
<rect x="295" y="98.2" width="24.9" height="24.9" fill="#4a4a4a"/>
<rect x="319.6" y="98.2" width="49.5" height="24.9" fill="#363636"/>
<rect x="368.8" y="98.2" width="24.9" height="24.9" fill="#676767"/>
<rect x="393.4" y="98.2" width="24.9" height="24.9" fill="#7b7b7b"/>
<rect x="418" y="98.2" width="24.9" height="24.9" fill="#989898"/>
<rect x="442.6" y="98.2" width="24.9" height="24.9" fill="#b5b5b5"/>
<rect x="467.1" y="98.2" width="24.9" height="24.9" fill="#989898"/>
<rect x="491.7" y="98.2" width="24.9" height="24.9" fill="#676767"/>
<rect x="516.3" y="98.2" width="24.9" height="24.9" fill="#4a4a4a"/>
<rect x="540.9" y="98.2" width="24.9" height="24.9" fill="#5d5d5d"/>
<rect x="565.5" y="98.2" width="24.9" height="24.9" fill="#676767"/>
<rect x="590.1" y="98.2" width="49.5" height="24.9" fill="#535353"/>
<rect x="639.3" y="98.2" width="24.9" height="24.9" fill="#7b7b7b"/>
<rect x="663.8" y="98.2" width="114.1" height="24.9" fill="#8e8e8e"/>
<rect x="-40" y="122.8" width="64.9" height="24.9" fill="#8e8e8e"/>
<rect x="24.6" y="122.8" width="24.9" height="24.9" fill="#404040"/>
<rect x="49.2" y="122.8" width="24.9" height="24.9" fill="#4a4a4a"/>
<rect x="73.8" y="122.8" width="24.9" height="24.9" fill="#717171"/>
<rect x="98.3" y="122.8" width="24.9" height="24.9" fill="#848484"/>
<rect x="122.9" y="122.8" width="24.9" height="24.9" fill="#989898"/>
<rect x="147.5" y="122.8" width="24.9" height="24.9" fill="#b5b5b5"/>
<rect x="172.1" y="122.8" width="24.9" height="24.9" fill="#bfbfbf"/>
<rect x="196.7" y="122.8" width="24.9" height="24.9" fill="#b5b5b5"/>
<rect x="221.3" y="122.8" width="24.9" height="24.9" fill="#a2a2a2"/>
<rect x="245.9" y="122.8" width="24.9" height="24.9" fill="#989898"/>
<rect x="270.5" y="122.8" width="24.9" height="24.9" fill="#848484"/>
<rect x="295" y="122.8" width="98.6" height="24.9" fill="#404040"/>
<rect x="393.4" y="122.8" width="24.9" height="24.9" fill="#535353"/>
<rect x="418" y="122.8" width="24.9" height="24.9" fill="#676767"/>
<rect x="442.6" y="122.8" width="24.9" height="24.9" fill="#7b7b7b"/>
<rect x="467.1" y="122.8" width="24.9" height="24.9" fill="#848484"/>
<rect x="491.7" y="122.8" width="24.9" height="24.9" fill="#717171"/>
<rect x="516.3" y="122.8" width="24.9" height="24.9" fill="#4a4a4a"/>
<rect x="540.9" y="122.8" width="123.2" height="24.9" fill="#404040"/>
<rect x="663.8" y="122.8" width="24.9" height="24.9" fill="#717171"/>
<rect x="688.4" y="122.8" width="24.9" height="24.9" fill="#989898"/>
<rect x="713" y="122.8" width="64.9" height="24.9" fill="#7b7b7b"/>
<rect x="-40" y="147.3" width="64.9" height="24.9" fill="#848484"/>
<rect x="24.6" y="147.3" width="24.9" height="24.9" fill="#676767"/>
<rect x="49.2" y="147.3" width="24.9" height="24.9" fill="#7b7b7b"/>
<rect x="73.8" y="147.3" width="24.9" height="24.9" fill="#848484"/>
<rect x="98.3" y="147.3" width="24.9" height="24.9" fill="#717171"/>
<rect x="122.9" y="147.3" width="24.9" height="24.9" fill="#989898"/>
<rect x="147.5" y="147.3" width="98.6" height="24.9" fill="#acacac"/>
<rect x="245.9" y="147.3" width="24.9" height="24.9" fill="#a2a2a2"/>
<rect x="270.5" y="147.3" width="24.9" height="24.9" fill="#989898"/>
<rect x="295" y="147.3" width="24.9" height="24.9" fill="#676767"/>
<rect x="319.6" y="147.3" width="172.4" height="24.9" fill="#404040"/>
<rect x="491.7" y="147.3" width="24.9" height="24.9" fill="#535353"/>
<rect x="516.3" y="147.3" width="24.9" height="24.9" fill="#4a4a4a"/>
<rect x="540.9" y="147.3" width="49.5" height="24.9" fill="#404040"/>
<rect x="590.1" y="147.3" width="24.9" height="24.9" fill="#4a4a4a"/>
<rect x="614.7" y="147.3" width="24.9" height="24.9" fill="#404040"/>
<rect x="639.3" y="147.3" width="24.9" height="24.9" fill="#535353"/>
<rect x="663.8" y="147.3" width="24.9" height="24.9" fill="#676767"/>
<rect x="688.4" y="147.3" width="24.9" height="24.9" fill="#4a4a4a"/>
<rect x="713" y="147.3" width="64.9" height="24.9" fill="#5d5d5d"/>
<rect x="-40" y="171.9" width="64.9" height="24.9" fill="#848484"/>
<rect x="24.6" y="171.9" width="24.9" height="24.9" fill="#7b7b7b"/>
<rect x="49.2" y="171.9" width="24.9" height="24.9" fill="#717171"/>
<rect x="73.8" y="171.9" width="24.9" height="24.9" fill="#989898"/>
<rect x="98.3" y="171.9" width="24.9" height="24.9" fill="#a2a2a2"/>
<rect x="122.9" y="171.9" width="49.5" height="24.9" fill="#b5b5b5"/>
<rect x="172.1" y="171.9" width="24.9" height="24.9" fill="#acacac"/>
<rect x="196.7" y="171.9" width="49.5" height="24.9" fill="#a2a2a2"/>
<rect x="245.9" y="171.9" width="24.9" height="24.9" fill="#989898"/>
<rect x="270.5" y="171.9" width="24.9" height="24.9" fill="#8e8e8e"/>
<rect x="295" y="171.9" width="24.9" height="24.9" fill="#676767"/>
<rect x="319.6" y="171.9" width="172.4" height="24.9" fill="#404040"/>
<rect x="491.7" y="171.9" width="24.9" height="24.9" fill="#535353"/>
<rect x="516.3" y="171.9" width="49.5" height="24.9" fill="#676767"/>
<rect x="565.5" y="171.9" width="24.9" height="24.9" fill="#535353"/>
<rect x="590.1" y="171.9" width="49.5" height="24.9" fill="#404040"/>
<rect x="639.3" y="171.9" width="24.9" height="24.9" fill="#535353"/>
<rect x="663.8" y="171.9" width="24.9" height="24.9" fill="#4a4a4a"/>
<rect x="688.4" y="171.9" width="24.9" height="24.9" fill="#404040"/>
<rect x="713" y="171.9" width="64.9" height="24.9" fill="#535353"/>
<rect x="-40" y="196.5" width="64.9" height="24.9" fill="#404040"/>
<rect x="24.6" y="196.5" width="24.9" height="24.9" fill="#535353"/>
<rect x="49.2" y="196.5" width="24.9" height="24.9" fill="#7b7b7b"/>
<rect x="73.8" y="196.5" width="24.9" height="24.9" fill="#b5b5b5"/>
<rect x="98.3" y="196.5" width="24.9" height="24.9" fill="#bfbfbf"/>
<rect x="122.9" y="196.5" width="24.9" height="24.9" fill="#c9c9c9"/>
<rect x="147.5" y="196.5" width="24.9" height="24.9" fill="#bfbfbf"/>
<rect x="172.1" y="196.5" width="24.9" height="24.9" fill="#a2a2a2"/>
<rect x="196.7" y="196.5" width="24.9" height="24.9" fill="#989898"/>
<rect x="221.3" y="196.5" width="24.9" height="24.9" fill="#717171"/>
<rect x="245.9" y="196.5" width="24.9" height="24.9" fill="#535353"/>
<rect x="270.5" y="196.5" width="49.5" height="24.9" fill="#5d5d5d"/>
<rect x="319.6" y="196.5" width="221.6" height="24.9" fill="#404040"/>
<rect x="540.9" y="196.5" width="24.9" height="24.9" fill="#535353"/>
<rect x="565.5" y="196.5" width="24.9" height="24.9" fill="#4a4a4a"/>
<rect x="590.1" y="196.5" width="24.9" height="24.9" fill="#5d5d5d"/>
<rect x="614.7" y="196.5" width="24.9" height="24.9" fill="#676767"/>
<rect x="639.3" y="196.5" width="24.9" height="24.9" fill="#717171"/>
<rect x="663.8" y="196.5" width="49.5" height="24.9" fill="#5d5d5d"/>
<rect x="713" y="196.5" width="64.9" height="24.9" fill="#717171"/>
<rect x="-40" y="221" width="89.5" height="24.9" fill="#5d5d5d"/>
<rect x="49.2" y="221" width="24.9" height="24.9" fill="#717171"/>
<rect x="73.8" y="221" width="24.9" height="24.9" fill="#8e8e8e"/>
<rect x="98.3" y="221" width="49.5" height="24.9" fill="#bfbfbf"/>
<rect x="147.5" y="221" width="24.9" height="24.9" fill="#acacac"/>
<rect x="172.1" y="221" width="24.9" height="24.9" fill="#989898"/>
<rect x="196.7" y="221" width="24.9" height="24.9" fill="#8e8e8e"/>
<rect x="221.3" y="221" width="24.9" height="24.9" fill="#7b7b7b"/>
<rect x="245.9" y="221" width="24.9" height="24.9" fill="#676767"/>
<rect x="270.5" y="221" width="24.9" height="24.9" fill="#4a4a4a"/>
<rect x="295" y="221" width="24.9" height="24.9" fill="#404040"/>
<rect x="319.6" y="221" width="49.5" height="24.9" fill="#535353"/>
<rect x="368.8" y="221" width="74.1" height="24.9" fill="#4a4a4a"/>
<rect x="442.6" y="221" width="24.9" height="24.9" fill="#535353"/>
<rect x="467.1" y="221" width="24.9" height="24.9" fill="#5d5d5d"/>
<rect x="491.7" y="221" width="24.9" height="24.9" fill="#4a4a4a"/>
<rect x="516.3" y="221" width="24.9" height="24.9" fill="#5d5d5d"/>
<rect x="540.9" y="221" width="24.9" height="24.9" fill="#4a4a4a"/>
<rect x="565.5" y="221" width="24.9" height="24.9" fill="#404040"/>
<rect x="590.1" y="221" width="98.6" height="24.9" fill="#676767"/>
<rect x="688.4" y="221" width="89.5" height="24.9" fill="#717171"/>
<rect x="-40" y="245.6" width="89.5" height="24.9" fill="#676767"/>
<rect x="49.2" y="245.6" width="24.9" height="24.9" fill="#7b7b7b"/>
<rect x="73.8" y="245.6" width="24.9" height="24.9" fill="#8e8e8e"/>
<rect x="98.3" y="245.6" width="74.1" height="24.9" fill="#a2a2a2"/>
<rect x="172.1" y="245.6" width="24.9" height="24.9" fill="#989898"/>
<rect x="196.7" y="245.6" width="49.5" height="24.9" fill="#848484"/>
<rect x="245.9" y="245.6" width="24.9" height="24.9" fill="#676767"/>
<rect x="270.5" y="245.6" width="24.9" height="24.9" fill="#4a4a4a"/>
<rect x="295" y="245.6" width="49.5" height="24.9" fill="#404040"/>
<rect x="344.2" y="245.6" width="24.9" height="24.9" fill="#676767"/>
<rect x="368.8" y="245.6" width="24.9" height="24.9" fill="#4a4a4a"/>
<rect x="393.4" y="245.6" width="24.9" height="24.9" fill="#535353"/>
<rect x="418" y="245.6" width="24.9" height="24.9" fill="#5d5d5d"/>
<rect x="442.6" y="245.6" width="24.9" height="24.9" fill="#676767"/>
<rect x="467.1" y="245.6" width="24.9" height="24.9" fill="#5d5d5d"/>
<rect x="491.7" y="245.6" width="24.9" height="24.9" fill="#404040"/>
<rect x="516.3" y="245.6" width="24.9" height="24.9" fill="#717171"/>
<rect x="540.9" y="245.6" width="24.9" height="24.9" fill="#848484"/>
<rect x="565.5" y="245.6" width="49.5" height="24.9" fill="#717171"/>
<rect x="614.7" y="245.6" width="49.5" height="24.9" fill="#676767"/>
<rect x="663.8" y="245.6" width="114.1" height="24.9" fill="#717171"/>
<rect x="-40" y="270.1" width="64.9" height="24.9" fill="#535353"/>
<rect x="24.6" y="270.1" width="24.9" height="24.9" fill="#5d5d5d"/>
<rect x="49.2" y="270.1" width="24.9" height="24.9" fill="#7b7b7b"/>
<rect x="73.8" y="270.1" width="24.9" height="24.9" fill="#8e8e8e"/>
<rect x="98.3" y="270.1" width="49.5" height="24.9" fill="#989898"/>
<rect x="147.5" y="270.1" width="49.5" height="24.9" fill="#a2a2a2"/>
<rect x="196.7" y="270.1" width="24.9" height="24.9" fill="#8e8e8e"/>
<rect x="221.3" y="270.1" width="24.9" height="24.9" fill="#848484"/>
<rect x="245.9" y="270.1" width="24.9" height="24.9" fill="#717171"/>
<rect x="270.5" y="270.1" width="24.9" height="24.9" fill="#535353"/>
<rect x="295" y="270.1" width="24.9" height="24.9" fill="#404040"/>
<rect x="319.6" y="270.1" width="24.9" height="24.9" fill="#676767"/>
<rect x="344.2" y="270.1" width="24.9" height="24.9" fill="#8e8e8e"/>
<rect x="368.8" y="270.1" width="24.9" height="24.9" fill="#b5b5b5"/>
<rect x="393.4" y="270.1" width="74.1" height="24.9" fill="#bfbfbf"/>
<rect x="467.1" y="270.1" width="24.9" height="24.9" fill="#b5b5b5"/>
<rect x="491.7" y="270.1" width="24.9" height="24.9" fill="#676767"/>
<rect x="516.3" y="270.1" width="24.9" height="24.9" fill="#5d5d5d"/>
<rect x="540.9" y="270.1" width="49.5" height="24.9" fill="#717171"/>
<rect x="590.1" y="270.1" width="49.5" height="24.9" fill="#848484"/>
<rect x="639.3" y="270.1" width="74.1" height="24.9" fill="#7b7b7b"/>
<rect x="713" y="270.1" width="64.9" height="24.9" fill="#717171"/>
<rect x="-40" y="294.7" width="64.9" height="24.9" fill="#848484"/>
<rect x="24.6" y="294.7" width="24.9" height="24.9" fill="#b5b5b5"/>
<rect x="49.2" y="294.7" width="24.9" height="24.9" fill="#bfbfbf"/>
<rect x="73.8" y="294.7" width="24.9" height="24.9" fill="#b5b5b5"/>
<rect x="98.3" y="294.7" width="24.9" height="24.9" fill="#8e8e8e"/>
<rect x="122.9" y="294.7" width="49.5" height="24.9" fill="#989898"/>
<rect x="172.1" y="294.7" width="49.5" height="24.9" fill="#b5b5b5"/>
<rect x="221.3" y="294.7" width="24.9" height="24.9" fill="#989898"/>
<rect x="245.9" y="294.7" width="24.9" height="24.9" fill="#848484"/>
<rect x="270.5" y="294.7" width="24.9" height="24.9" fill="#676767"/>
<rect x="295" y="294.7" width="24.9" height="24.9" fill="#4a4a4a"/>
<rect x="319.6" y="294.7" width="24.9" height="24.9" fill="#717171"/>
<rect x="344.2" y="294.7" width="24.9" height="24.9" fill="#848484"/>
<rect x="368.8" y="294.7" width="74.1" height="24.9" fill="#bfbfbf"/>
<rect x="442.6" y="294.7" width="49.5" height="24.9" fill="#b5b5b5"/>
<rect x="491.7" y="294.7" width="24.9" height="24.9" fill="#8e8e8e"/>
<rect x="516.3" y="294.7" width="24.9" height="24.9" fill="#676767"/>
<rect x="540.9" y="294.7" width="24.9" height="24.9" fill="#717171"/>
<rect x="565.5" y="294.7" width="24.9" height="24.9" fill="#5d5d5d"/>
<rect x="590.1" y="294.7" width="24.9" height="24.9" fill="#8e8e8e"/>
<rect x="614.7" y="294.7" width="74.1" height="24.9" fill="#848484"/>
<rect x="688.4" y="294.7" width="24.9" height="24.9" fill="#717171"/>
<rect x="713" y="294.7" width="64.9" height="24.9" fill="#7b7b7b"/>
<rect x="-40" y="319.2" width="64.9" height="64.9" fill="#989898"/>
<rect x="24.6" y="319.2" width="24.9" height="64.9" fill="#acacac"/>
<rect x="49.2" y="319.2" width="24.9" height="64.9" fill="#b5b5b5"/>
<rect x="73.8" y="319.2" width="24.9" height="64.9" fill="#acacac"/>
<rect x="98.3" y="319.2" width="49.5" height="64.9" fill="#bfbfbf"/>
<rect x="147.5" y="319.2" width="24.9" height="64.9" fill="#b5b5b5"/>
<rect x="172.1" y="319.2" width="24.9" height="64.9" fill="#989898"/>
<rect x="196.7" y="319.2" width="24.9" height="64.9" fill="#a2a2a2"/>
<rect x="221.3" y="319.2" width="24.9" height="64.9" fill="#989898"/>
<rect x="245.9" y="319.2" width="24.9" height="64.9" fill="#8e8e8e"/>
<rect x="270.5" y="319.2" width="24.9" height="64.9" fill="#848484"/>
<rect x="295" y="319.2" width="24.9" height="64.9" fill="#717171"/>
<rect x="319.6" y="319.2" width="24.9" height="64.9" fill="#676767"/>
<rect x="344.2" y="319.2" width="24.9" height="64.9" fill="#7b7b7b"/>
<rect x="368.8" y="319.2" width="49.5" height="64.9" fill="#bfbfbf"/>
<rect x="418" y="319.2" width="24.9" height="64.9" fill="#a2a2a2"/>
<rect x="442.6" y="319.2" width="24.9" height="64.9" fill="#8e8e8e"/>
<rect x="467.1" y="319.2" width="24.9" height="64.9" fill="#989898"/>
<rect x="491.7" y="319.2" width="24.9" height="64.9" fill="#848484"/>
<rect x="516.3" y="319.2" width="49.5" height="64.9" fill="#717171"/>
<rect x="565.5" y="319.2" width="24.9" height="64.9" fill="#7b7b7b"/>
<rect x="590.1" y="319.2" width="49.5" height="64.9" fill="#8e8e8e"/>
<rect x="639.3" y="319.2" width="49.5" height="64.9" fill="#848484"/>
<rect x="688.4" y="319.2" width="89.5" height="64.9" fill="#7b7b7b"/>
<polygon points="139.2,130.1 160.6,123.7 192.7,125.8 214.1,136.5 209.8,149.3 182,149.3 149.9,142.9" fill="#bfbfbf" stroke="#bfbfbf" stroke-width="3" stroke-linejoin="round"/>
<polygon points="72.9,205.8 96.5,193 120,182.3 149.9,175.9 182,180.2 171.3,197.3 164.9,214.4 149.9,227.2 137.1,242.2 120,252.9 107.2,242.2 102.9,225.1 85.8,218.7" fill="#bfbfbf" stroke="#bfbfbf" stroke-width="3" stroke-linejoin="round"/>
<polygon points="40.8,308.5 53.7,295.7 75.1,293.5 90,304.2 90,325.6 75.1,334.2 53.7,334.2 43,325.6" fill="#bfbfbf" stroke="#bfbfbf" stroke-width="3" stroke-linejoin="round"/>
<polygon points="96.5,329.9 111.4,319.2 139.2,319.2 162.8,327.8 171.3,347 96.5,347" fill="#bfbfbf" stroke="#bfbfbf" stroke-width="3" stroke-linejoin="round"/>
<ellipse cx="203.4" cy="304.2" rx="19.3" ry="11.8" fill="#b5b5b5" transform="rotate(20 203.4 304.2)"/>
<polygon points="373.5,278.3 390.5,267.6 422.5,265.5 454.5,263.3 480.1,269.7 497.2,286.8 501.5,308.1 488.7,320.9 465.2,320.9 443.9,316.7 433.2,329.5 411.9,340.1 382,338 373.5,320.9" fill="#bfbfbf" stroke="#bfbfbf" stroke-width="3" stroke-linejoin="round"/>
</g>
<polygon points="-10.5,14.1 379.9,14.1 379.9,77.7 353.2,77.7 333.9,78.7 321.1,80.9 299.7,84.1 278.3,83 256.9,78.7 235.5,75.5 214.1,74.5 192.7,74.5 171.3,73.4 149.9,72.3 128.5,72.3 107.2,72.3 85.8,71.3 64.4,68.1 43,61.6 21.6,55.2 -10.5,53.1" fill="#f5f5f5" stroke="#f5f5f5" stroke-width="3" stroke-linejoin="round"/>
<ellipse cx="44.1" cy="136.5" rx="16" ry="8.6" fill="#2c2c2c"/>
<polygon points="295.4,132.2 321.1,129 379.9,126.9 379.9,181.4 316.8,181.4 306.1,162.2 299.7,145.1" fill="#0a0a0a" stroke="#0a0a0a" stroke-width="3" stroke-linejoin="round"/>
<ellipse cx="348.5" cy="97.4" rx="20.3" ry="10.7" fill="#191919"/>
<polygon points="358.5,14.1 454.5,16.7 539.9,20.9 625.2,27.3 689.2,33.7 747.9,39.1 747.9,57.2 710.5,60.4 689.2,62.5 667.9,64.7 646.5,66.8 625.2,68.9 603.9,71.1 582.5,73.2 561.2,76.4 539.9,80.7 518.5,84.9 497.2,91.3 482.3,97.7 486.5,106.3 478,115.9 458.8,112.7 439.6,108.4 416.1,102 396.9,93.5 382,84.9 358.5,77.5" fill="#f5f5f5" stroke="#f5f5f5" stroke-width="3" stroke-linejoin="round"/>
<polygon points="358.5,127.2 390.5,131.4 411.9,136.1 433.2,140.8 454.5,146.8 475.9,154.3 488.7,162.2 495.1,180.9 358.5,180.9" fill="#0a0a0a" stroke="#0a0a0a" stroke-width="3" stroke-linejoin="round"/>
<ellipse cx="611.3" cy="136.1" rx="21.3" ry="6.4" fill="#2c2c2c"/>
<ellipse cx="655.1" cy="137.2" rx="13.9" ry="7.5" fill="#2c2c2c"/>
<ellipse cx="625.2" cy="168.1" rx="21.3" ry="12.8" fill="#2c2c2c"/>
<ellipse cx="571.9" cy="170.3" rx="10.7" ry="8.5" fill="#2c2c2c"/>
<ellipse cx="550.5" cy="142.5" rx="10.7" ry="6.4" fill="#363636"/>
<ellipse cx="629.5" cy="91.3" rx="8.5" ry="7.5" fill="#363636"/>
<polygon points="120,199.4 132.8,188.7 149.9,188.7 158.5,203.7 149.9,218.7 132.8,229.4 115.7,240.1 109.3,231.5 115.7,214.4" fill="#d3d3d3" stroke="#d3d3d3" stroke-width="3" stroke-linejoin="round"/>
<ellipse cx="64.4" cy="308.5" rx="11.8" ry="7.5" fill="#d3d3d3"/>
<ellipse cx="132.8" cy="339.5" rx="19.3" ry="8.6" fill="#d3d3d3"/>
<ellipse cx="10.9" cy="210.1" rx="8.6" ry="10.7" fill="#2c2c2c"/>
<ellipse cx="250.5" cy="216.5" rx="8.6" ry="7.5" fill="#2c2c2c"/>
<polygon points="316.8,160.9 325.3,188.7 333.9,210.1 351,225.1 379.9,227.2 379.9,160.9" fill="#0a0a0a" stroke="#0a0a0a" stroke-width="3" stroke-linejoin="round"/>
<polygon points="276.1,244.3 289,237.9 310.4,242.2 333.9,250.7 342.5,263.6 333.9,282.8 316.8,291.4 310.4,304.2 299.7,308.5 289,299.9 295.4,278.6 286.8,265.7 276.1,257.2" fill="#0a0a0a" stroke="#0a0a0a" stroke-width="3" stroke-linejoin="round"/>
<polygon points="358.5,160.9 488.7,160.9 505.7,180.1 531.3,190.8 561.2,199.3 582.5,210 591.1,218.5 591.1,242 561.2,242 544.1,233.5 527.1,224.9 518.5,235.6 497.2,237.7 480.1,233.5 471.6,220.7 454.5,212.1 422.5,210 390.5,214.3 358.5,214.3" fill="#0a0a0a" stroke="#0a0a0a" stroke-width="3" stroke-linejoin="round"/>
<polygon points="358.5,226 401.2,228.1 433.2,227.1 458.8,233.5 480.1,242 505.7,245.2 514.3,256.9 505.7,265.5 492.9,259.1 475.9,250.5 443.9,248.4 411.9,248.4 390.5,250.5 358.5,252.7" fill="#0a0a0a" stroke="#0a0a0a" stroke-width="3" stroke-linejoin="round"/>
<polygon points="591.1,160.9 646.5,160.9 642.3,180.1 625.2,188.7 603.9,188.7 591.1,184.4" fill="#0a0a0a" stroke="#0a0a0a" stroke-width="3" stroke-linejoin="round"/>
<polygon points="667.9,160.9 721.2,160.9 719.1,184.4 706.3,199.3 689.2,197.2 674.3,184.4" fill="#0a0a0a" stroke="#0a0a0a" stroke-width="3" stroke-linejoin="round"/>
<polygon points="403.3,286.8 433.2,282.5 458.8,278.3 480.1,282.5 471.6,293.2 450.3,295.3 433.2,299.6 416.1,303.9 407.6,316.7 394.8,318.8 392.7,308.1 405.5,297.5" fill="#d3d3d3" stroke="#d3d3d3" stroke-width="3" stroke-linejoin="round"/>
<ellipse cx="403.3" cy="297.9" rx="4.7" ry="4.3" fill="#989898"/>
<ellipse cx="469.5" cy="299.6" rx="8.1" ry="4.7" fill="#989898"/>
<ellipse cx="533.5" cy="287.9" rx="6.4" ry="4.3" fill="#404040"/>
<ellipse cx="580.4" cy="306" rx="6.4" ry="4.3" fill="#404040"/>
</g>
<use href="#coast"/>
</g>
<path class="gd" d="M147.5 122H442.6V24.6H147.5Z"/>
<path class="gd" d="M295 245.6H590.1V147.3H295Z"/>
<path class="gs" d="M516.3 245.6H590.1V319.2H516.3Z"/>
<rect class="fr" x="0" y="0" width="737.6" height="343.8"/>
<path class="mj" d="M0 343.8v12.8M147.5 343.8v12.8M295 343.8v12.8M442.6 343.8v12.8M590.1 343.8v12.8M737.6 343.8v12.8M0 294.7h-12.6M0 147.3h-12.6M0 0h-12.6"/>
<path class="mn" d="M49.2 343.8v6.8M98.3 343.8v6.8M196.7 343.8v6.8M245.9 343.8v6.8M344.2 343.8v6.8M393.4 343.8v6.8M491.7 343.8v6.8M540.9 343.8v6.8M639.3 343.8v6.8M688.4 343.8v6.8M0 343.8h-6.6M0 245.6h-6.6M0 196.5h-6.6M0 98.2h-6.6M0 49.1h-6.6"/>
<text class="tk" x="0" y="394.4" text-anchor="middle">0<tspan class="dg" dx="0.9" dy="-3.4">°</tspan></text>
<text class="tk" x="147.5" y="394.4" text-anchor="middle">30<tspan class="dg" dx="0.9" dy="-3.4">°</tspan><tspan dx="0.7" dy="3.4">E</tspan></text>
<text class="tk" x="295" y="394.4" text-anchor="middle">60<tspan class="dg" dx="0.9" dy="-3.4">°</tspan><tspan dx="0.7" dy="3.4">E</tspan></text>
<text class="tk" x="442.6" y="394.4" text-anchor="middle">90<tspan class="dg" dx="0.9" dy="-3.4">°</tspan><tspan dx="0.7" dy="3.4">E</tspan></text>
<text class="tk" x="590.1" y="394.4" text-anchor="middle">120<tspan class="dg" dx="0.9" dy="-3.4">°</tspan><tspan dx="0.7" dy="3.4">E</tspan></text>
<text class="tk" x="737.6" y="394.4" text-anchor="middle">150<tspan class="dg" dx="0.9" dy="-3.4">°</tspan><tspan dx="0.7" dy="3.4">E</tspan></text>
<text class="tk" x="-27.6" y="304.3" text-anchor="end">30<tspan class="dg" dx="0.9" dy="-3.4">°</tspan><tspan dx="0.7" dy="3.4">N</tspan></text>
<text class="tk" x="-27.6" y="156.9" text-anchor="end">60<tspan class="dg" dx="0.9" dy="-3.4">°</tspan><tspan dx="0.7" dy="3.4">N</tspan></text>
<text class="tk" x="-27.6" y="9.6" text-anchor="end">90<tspan class="dg" dx="0.9" dy="-3.4">°</tspan><tspan dx="0.7" dy="3.4">N</tspan></text>
<text class="tt" x="-2.6" y="-12.3">(e) Jan 3</text>
<text class="tt" y="-12.3"><tspan x="417.2">RSAT</tspan> <tspan x="511.9">=</tspan> <tspan class="r" x="537.3">10.0</tspan> <tspan class="b" x="610.9">-10.0</tspan> <tspan class="b" x="701.8">-2.1</tspan></text>
<text class="tr" transform="translate(145 -12.7) scale(1 0.78)" font-size="31.3">△</text>
</g>
<!-- panel f -->
<g transform="translate(953.2 917.4)">
<g clip-path="url(#cp)"><g filter="url(#fld)">
<g filter="url(#gblur)">
<rect x="-40" y="-40" width="187.8" height="64.9" fill="#a2a2a2"/>
<rect x="147.5" y="-40" width="221.6" height="64.9" fill="#acacac"/>
<rect x="368.8" y="-40" width="98.6" height="64.9" fill="#989898"/>
<rect x="467.1" y="-40" width="49.5" height="64.9" fill="#8e8e8e"/>
<rect x="516.3" y="-40" width="24.9" height="64.9" fill="#848484"/>
<rect x="540.9" y="-40" width="49.5" height="64.9" fill="#7b7b7b"/>
<rect x="590.1" y="-40" width="74.1" height="64.9" fill="#717171"/>
<rect x="663.8" y="-40" width="114.1" height="64.9" fill="#676767"/>
<rect x="-40" y="24.6" width="89.5" height="24.9" fill="#a2a2a2"/>
<rect x="49.2" y="24.6" width="24.9" height="24.9" fill="#b5b5b5"/>
<rect x="73.8" y="24.6" width="24.9" height="24.9" fill="#bfbfbf"/>
<rect x="98.3" y="24.6" width="492" height="24.9" fill="#c9c9c9"/>
<rect x="590.1" y="24.6" width="24.9" height="24.9" fill="#bfbfbf"/>
<rect x="614.7" y="24.6" width="24.9" height="24.9" fill="#b5b5b5"/>
<rect x="639.3" y="24.6" width="24.9" height="24.9" fill="#acacac"/>
<rect x="663.8" y="24.6" width="24.9" height="24.9" fill="#a2a2a2"/>
<rect x="688.4" y="24.6" width="24.9" height="24.9" fill="#989898"/>
<rect x="713" y="24.6" width="64.9" height="24.9" fill="#8e8e8e"/>
<rect x="-40" y="49.1" width="64.9" height="24.9" fill="#717171"/>
<rect x="24.6" y="49.1" width="24.9" height="24.9" fill="#848484"/>
<rect x="49.2" y="49.1" width="24.9" height="24.9" fill="#989898"/>
<rect x="73.8" y="49.1" width="24.9" height="24.9" fill="#b5b5b5"/>
<rect x="98.3" y="49.1" width="147.8" height="24.9" fill="#bfbfbf"/>
<rect x="245.9" y="49.1" width="532" height="24.9" fill="#c9c9c9"/>
<rect x="-40" y="73.7" width="64.9" height="24.9" fill="#8e8e8e"/>
<rect x="24.6" y="73.7" width="24.9" height="24.9" fill="#989898"/>
<rect x="49.2" y="73.7" width="24.9" height="24.9" fill="#a2a2a2"/>
<rect x="73.8" y="73.7" width="74.1" height="24.9" fill="#b5b5b5"/>
<rect x="147.5" y="73.7" width="172.4" height="24.9" fill="#acacac"/>
<rect x="319.6" y="73.7" width="24.9" height="24.9" fill="#a2a2a2"/>
<rect x="344.2" y="73.7" width="24.9" height="24.9" fill="#989898"/>
<rect x="368.8" y="73.7" width="98.6" height="24.9" fill="#bfbfbf"/>
<rect x="467.1" y="73.7" width="123.2" height="24.9" fill="#c9c9c9"/>
<rect x="590.1" y="73.7" width="24.9" height="24.9" fill="#bfbfbf"/>
<rect x="614.7" y="73.7" width="74.1" height="24.9" fill="#b5b5b5"/>
<rect x="688.4" y="73.7" width="89.5" height="24.9" fill="#bfbfbf"/>
<rect x="-40" y="98.2" width="64.9" height="24.9" fill="#8e8e8e"/>
<rect x="24.6" y="98.2" width="24.9" height="24.9" fill="#989898"/>
<rect x="49.2" y="98.2" width="24.9" height="24.9" fill="#a2a2a2"/>
<rect x="73.8" y="98.2" width="24.9" height="24.9" fill="#bfbfbf"/>
<rect x="98.3" y="98.2" width="24.9" height="24.9" fill="#b5b5b5"/>
<rect x="122.9" y="98.2" width="24.9" height="24.9" fill="#a2a2a2"/>
<rect x="147.5" y="98.2" width="24.9" height="24.9" fill="#848484"/>
<rect x="172.1" y="98.2" width="49.5" height="24.9" fill="#7b7b7b"/>
<rect x="221.3" y="98.2" width="49.5" height="24.9" fill="#717171"/>
<rect x="270.5" y="98.2" width="49.5" height="24.9" fill="#7b7b7b"/>
<rect x="319.6" y="98.2" width="49.5" height="24.9" fill="#717171"/>
<rect x="368.8" y="98.2" width="49.5" height="24.9" fill="#7b7b7b"/>
<rect x="418" y="98.2" width="24.9" height="24.9" fill="#717171"/>
<rect x="442.6" y="98.2" width="24.9" height="24.9" fill="#989898"/>
<rect x="467.1" y="98.2" width="24.9" height="24.9" fill="#bfbfbf"/>
<rect x="491.7" y="98.2" width="74.1" height="24.9" fill="#c9c9c9"/>
<rect x="565.5" y="98.2" width="24.9" height="24.9" fill="#acacac"/>
<rect x="590.1" y="98.2" width="24.9" height="24.9" fill="#717171"/>
<rect x="614.7" y="98.2" width="49.5" height="24.9" fill="#4a4a4a"/>
<rect x="663.8" y="98.2" width="24.9" height="24.9" fill="#676767"/>
<rect x="688.4" y="98.2" width="24.9" height="24.9" fill="#717171"/>
<rect x="713" y="98.2" width="64.9" height="24.9" fill="#8e8e8e"/>
<rect x="-40" y="122.8" width="64.9" height="24.9" fill="#848484"/>
<rect x="24.6" y="122.8" width="49.5" height="24.9" fill="#404040"/>
<rect x="73.8" y="122.8" width="24.9" height="24.9" fill="#676767"/>
<rect x="98.3" y="122.8" width="24.9" height="24.9" fill="#535353"/>
<rect x="122.9" y="122.8" width="24.9" height="24.9" fill="#404040"/>
<rect x="147.5" y="122.8" width="24.9" height="24.9" fill="#4a4a4a"/>
<rect x="172.1" y="122.8" width="24.9" height="24.9" fill="#717171"/>
<rect x="196.7" y="122.8" width="74.1" height="24.9" fill="#8e8e8e"/>
<rect x="270.5" y="122.8" width="24.9" height="24.9" fill="#848484"/>
<rect x="295" y="122.8" width="24.9" height="24.9" fill="#5d5d5d"/>
<rect x="319.6" y="122.8" width="98.6" height="24.9" fill="#404040"/>
<rect x="418" y="122.8" width="24.9" height="24.9" fill="#4a4a4a"/>
<rect x="442.6" y="122.8" width="24.9" height="24.9" fill="#7b7b7b"/>
<rect x="467.1" y="122.8" width="24.9" height="24.9" fill="#a2a2a2"/>
<rect x="491.7" y="122.8" width="49.5" height="24.9" fill="#b5b5b5"/>
<rect x="540.9" y="122.8" width="24.9" height="24.9" fill="#a2a2a2"/>
<rect x="565.5" y="122.8" width="24.9" height="24.9" fill="#717171"/>
<rect x="590.1" y="122.8" width="24.9" height="24.9" fill="#535353"/>
<rect x="614.7" y="122.8" width="49.5" height="24.9" fill="#404040"/>
<rect x="663.8" y="122.8" width="24.9" height="24.9" fill="#535353"/>
<rect x="688.4" y="122.8" width="89.5" height="24.9" fill="#7b7b7b"/>
<rect x="-40" y="147.3" width="64.9" height="24.9" fill="#848484"/>
<rect x="24.6" y="147.3" width="24.9" height="24.9" fill="#717171"/>
<rect x="49.2" y="147.3" width="24.9" height="24.9" fill="#7b7b7b"/>
<rect x="73.8" y="147.3" width="24.9" height="24.9" fill="#848484"/>
<rect x="98.3" y="147.3" width="24.9" height="24.9" fill="#7b7b7b"/>
<rect x="122.9" y="147.3" width="24.9" height="24.9" fill="#989898"/>
<rect x="147.5" y="147.3" width="24.9" height="24.9" fill="#8e8e8e"/>
<rect x="172.1" y="147.3" width="24.9" height="24.9" fill="#848484"/>
<rect x="196.7" y="147.3" width="24.9" height="24.9" fill="#989898"/>
<rect x="221.3" y="147.3" width="49.5" height="24.9" fill="#b5b5b5"/>
<rect x="270.5" y="147.3" width="24.9" height="24.9" fill="#989898"/>
<rect x="295" y="147.3" width="24.9" height="24.9" fill="#4a4a4a"/>
<rect x="319.6" y="147.3" width="24.9" height="24.9" fill="#5d5d5d"/>
<rect x="344.2" y="147.3" width="246.2" height="24.9" fill="#404040"/>
<rect x="590.1" y="147.3" width="24.9" height="24.9" fill="#535353"/>
<rect x="614.7" y="147.3" width="49.5" height="24.9" fill="#404040"/>
<rect x="663.8" y="147.3" width="49.5" height="24.9" fill="#5d5d5d"/>
<rect x="713" y="147.3" width="64.9" height="24.9" fill="#676767"/>
<rect x="-40" y="171.9" width="89.5" height="24.9" fill="#7b7b7b"/>
<rect x="49.2" y="171.9" width="24.9" height="24.9" fill="#848484"/>
<rect x="73.8" y="171.9" width="24.9" height="24.9" fill="#989898"/>
<rect x="98.3" y="171.9" width="49.5" height="24.9" fill="#b5b5b5"/>
<rect x="147.5" y="171.9" width="24.9" height="24.9" fill="#989898"/>
<rect x="172.1" y="171.9" width="24.9" height="24.9" fill="#848484"/>
<rect x="196.7" y="171.9" width="24.9" height="24.9" fill="#989898"/>
<rect x="221.3" y="171.9" width="24.9" height="24.9" fill="#8e8e8e"/>
<rect x="245.9" y="171.9" width="24.9" height="24.9" fill="#7b7b7b"/>
<rect x="270.5" y="171.9" width="24.9" height="24.9" fill="#676767"/>
<rect x="295" y="171.9" width="24.9" height="24.9" fill="#404040"/>
<rect x="319.6" y="171.9" width="24.9" height="24.9" fill="#4a4a4a"/>
<rect x="344.2" y="171.9" width="221.6" height="24.9" fill="#404040"/>
<rect x="565.5" y="171.9" width="24.9" height="24.9" fill="#4a4a4a"/>
<rect x="590.1" y="171.9" width="24.9" height="24.9" fill="#535353"/>
<rect x="614.7" y="171.9" width="24.9" height="24.9" fill="#4a4a4a"/>
<rect x="639.3" y="171.9" width="24.9" height="24.9" fill="#404040"/>
<rect x="663.8" y="171.9" width="24.9" height="24.9" fill="#4a4a4a"/>
<rect x="688.4" y="171.9" width="24.9" height="24.9" fill="#404040"/>
<rect x="713" y="171.9" width="64.9" height="24.9" fill="#676767"/>
<rect x="-40" y="196.5" width="64.9" height="24.9" fill="#404040"/>
<rect x="24.6" y="196.5" width="24.9" height="24.9" fill="#4a4a4a"/>
<rect x="49.2" y="196.5" width="24.9" height="24.9" fill="#7b7b7b"/>
<rect x="73.8" y="196.5" width="24.9" height="24.9" fill="#989898"/>
<rect x="98.3" y="196.5" width="24.9" height="24.9" fill="#bfbfbf"/>
<rect x="122.9" y="196.5" width="24.9" height="24.9" fill="#c9c9c9"/>
<rect x="147.5" y="196.5" width="24.9" height="24.9" fill="#bfbfbf"/>
<rect x="172.1" y="196.5" width="24.9" height="24.9" fill="#b5b5b5"/>
<rect x="196.7" y="196.5" width="24.9" height="24.9" fill="#a2a2a2"/>
<rect x="221.3" y="196.5" width="24.9" height="24.9" fill="#7b7b7b"/>
<rect x="245.9" y="196.5" width="98.6" height="24.9" fill="#404040"/>
<rect x="344.2" y="196.5" width="24.9" height="24.9" fill="#535353"/>
<rect x="368.8" y="196.5" width="49.5" height="24.9" fill="#676767"/>
<rect x="418" y="196.5" width="24.9" height="24.9" fill="#535353"/>
<rect x="442.6" y="196.5" width="147.8" height="24.9" fill="#404040"/>
<rect x="590.1" y="196.5" width="24.9" height="24.9" fill="#676767"/>
<rect x="614.7" y="196.5" width="24.9" height="24.9" fill="#5d5d5d"/>
<rect x="639.3" y="196.5" width="24.9" height="24.9" fill="#404040"/>
<rect x="663.8" y="196.5" width="49.5" height="24.9" fill="#4a4a4a"/>
<rect x="713" y="196.5" width="64.9" height="24.9" fill="#535353"/>
<rect x="-40" y="221" width="64.9" height="24.9" fill="#535353"/>
<rect x="24.6" y="221" width="24.9" height="24.9" fill="#676767"/>
<rect x="49.2" y="221" width="24.9" height="24.9" fill="#717171"/>
<rect x="73.8" y="221" width="24.9" height="24.9" fill="#8e8e8e"/>
<rect x="98.3" y="221" width="24.9" height="24.9" fill="#a2a2a2"/>
<rect x="122.9" y="221" width="24.9" height="24.9" fill="#b5b5b5"/>
<rect x="147.5" y="221" width="24.9" height="24.9" fill="#bfbfbf"/>
<rect x="172.1" y="221" width="24.9" height="24.9" fill="#b5b5b5"/>
<rect x="196.7" y="221" width="24.9" height="24.9" fill="#989898"/>
<rect x="221.3" y="221" width="24.9" height="24.9" fill="#717171"/>
<rect x="245.9" y="221" width="24.9" height="24.9" fill="#676767"/>
<rect x="270.5" y="221" width="74.1" height="24.9" fill="#404040"/>
<rect x="344.2" y="221" width="24.9" height="24.9" fill="#5d5d5d"/>
<rect x="368.8" y="221" width="24.9" height="24.9" fill="#717171"/>
<rect x="393.4" y="221" width="24.9" height="24.9" fill="#5d5d5d"/>
<rect x="418" y="221" width="172.4" height="24.9" fill="#404040"/>
<rect x="590.1" y="221" width="24.9" height="24.9" fill="#5d5d5d"/>
<rect x="614.7" y="221" width="24.9" height="24.9" fill="#4a4a4a"/>
<rect x="639.3" y="221" width="24.9" height="24.9" fill="#5d5d5d"/>
<rect x="663.8" y="221" width="114.1" height="24.9" fill="#676767"/>
<rect x="-40" y="245.6" width="64.9" height="24.9" fill="#676767"/>
<rect x="24.6" y="245.6" width="24.9" height="24.9" fill="#717171"/>
<rect x="49.2" y="245.6" width="24.9" height="24.9" fill="#7b7b7b"/>
<rect x="73.8" y="245.6" width="24.9" height="24.9" fill="#848484"/>
<rect x="98.3" y="245.6" width="24.9" height="24.9" fill="#8e8e8e"/>
<rect x="122.9" y="245.6" width="24.9" height="24.9" fill="#acacac"/>
<rect x="147.5" y="245.6" width="24.9" height="24.9" fill="#bfbfbf"/>
<rect x="172.1" y="245.6" width="24.9" height="24.9" fill="#989898"/>
<rect x="196.7" y="245.6" width="24.9" height="24.9" fill="#717171"/>
<rect x="221.3" y="245.6" width="24.9" height="24.9" fill="#535353"/>
<rect x="245.9" y="245.6" width="24.9" height="24.9" fill="#676767"/>
<rect x="270.5" y="245.6" width="49.5" height="24.9" fill="#404040"/>
<rect x="319.6" y="245.6" width="24.9" height="24.9" fill="#4a4a4a"/>
<rect x="344.2" y="245.6" width="24.9" height="24.9" fill="#8e8e8e"/>
<rect x="368.8" y="245.6" width="24.9" height="24.9" fill="#7b7b7b"/>
<rect x="393.4" y="245.6" width="24.9" height="24.9" fill="#8e8e8e"/>
<rect x="418" y="245.6" width="24.9" height="24.9" fill="#a2a2a2"/>
<rect x="442.6" y="245.6" width="24.9" height="24.9" fill="#989898"/>
<rect x="467.1" y="245.6" width="24.9" height="24.9" fill="#676767"/>
<rect x="491.7" y="245.6" width="49.5" height="24.9" fill="#404040"/>
<rect x="540.9" y="245.6" width="24.9" height="24.9" fill="#5d5d5d"/>
<rect x="565.5" y="245.6" width="24.9" height="24.9" fill="#404040"/>
<rect x="590.1" y="245.6" width="24.9" height="24.9" fill="#676767"/>
<rect x="614.7" y="245.6" width="24.9" height="24.9" fill="#535353"/>
<rect x="639.3" y="245.6" width="24.9" height="24.9" fill="#676767"/>
<rect x="663.8" y="245.6" width="24.9" height="24.9" fill="#717171"/>
<rect x="688.4" y="245.6" width="24.9" height="24.9" fill="#7b7b7b"/>
<rect x="713" y="245.6" width="64.9" height="24.9" fill="#848484"/>
<rect x="-40" y="270.1" width="64.9" height="24.9" fill="#717171"/>
<rect x="24.6" y="270.1" width="49.5" height="24.9" fill="#7b7b7b"/>
<rect x="73.8" y="270.1" width="24.9" height="24.9" fill="#848484"/>
<rect x="98.3" y="270.1" width="24.9" height="24.9" fill="#8e8e8e"/>
<rect x="122.9" y="270.1" width="24.9" height="24.9" fill="#989898"/>
<rect x="147.5" y="270.1" width="49.5" height="24.9" fill="#a2a2a2"/>
<rect x="196.7" y="270.1" width="24.9" height="24.9" fill="#7b7b7b"/>
<rect x="221.3" y="270.1" width="24.9" height="24.9" fill="#848484"/>
<rect x="245.9" y="270.1" width="24.9" height="24.9" fill="#717171"/>
<rect x="270.5" y="270.1" width="24.9" height="24.9" fill="#4a4a4a"/>
<rect x="295" y="270.1" width="24.9" height="24.9" fill="#404040"/>
<rect x="319.6" y="270.1" width="24.9" height="24.9" fill="#676767"/>
<rect x="344.2" y="270.1" width="24.9" height="24.9" fill="#a2a2a2"/>
<rect x="368.8" y="270.1" width="24.9" height="24.9" fill="#b5b5b5"/>
<rect x="393.4" y="270.1" width="74.1" height="24.9" fill="#bfbfbf"/>
<rect x="467.1" y="270.1" width="24.9" height="24.9" fill="#b5b5b5"/>
<rect x="491.7" y="270.1" width="24.9" height="24.9" fill="#7b7b7b"/>
<rect x="516.3" y="270.1" width="24.9" height="24.9" fill="#5d5d5d"/>
<rect x="540.9" y="270.1" width="24.9" height="24.9" fill="#676767"/>
<rect x="565.5" y="270.1" width="24.9" height="24.9" fill="#535353"/>
<rect x="590.1" y="270.1" width="24.9" height="24.9" fill="#7b7b7b"/>
<rect x="614.7" y="270.1" width="24.9" height="24.9" fill="#717171"/>
<rect x="639.3" y="270.1" width="49.5" height="24.9" fill="#7b7b7b"/>
<rect x="688.4" y="270.1" width="24.9" height="24.9" fill="#848484"/>
<rect x="713" y="270.1" width="64.9" height="24.9" fill="#8e8e8e"/>
<rect x="-40" y="294.7" width="64.9" height="24.9" fill="#989898"/>
<rect x="24.6" y="294.7" width="24.9" height="24.9" fill="#b5b5b5"/>
<rect x="49.2" y="294.7" width="24.9" height="24.9" fill="#bfbfbf"/>
<rect x="73.8" y="294.7" width="24.9" height="24.9" fill="#b5b5b5"/>
<rect x="98.3" y="294.7" width="24.9" height="24.9" fill="#acacac"/>
<rect x="122.9" y="294.7" width="49.5" height="24.9" fill="#b5b5b5"/>
<rect x="172.1" y="294.7" width="24.9" height="24.9" fill="#a2a2a2"/>
<rect x="196.7" y="294.7" width="24.9" height="24.9" fill="#989898"/>
<rect x="221.3" y="294.7" width="24.9" height="24.9" fill="#8e8e8e"/>
<rect x="245.9" y="294.7" width="24.9" height="24.9" fill="#848484"/>
<rect x="270.5" y="294.7" width="24.9" height="24.9" fill="#535353"/>
<rect x="295" y="294.7" width="24.9" height="24.9" fill="#4a4a4a"/>
<rect x="319.6" y="294.7" width="24.9" height="24.9" fill="#676767"/>
<rect x="344.2" y="294.7" width="24.9" height="24.9" fill="#8e8e8e"/>
<rect x="368.8" y="294.7" width="24.9" height="24.9" fill="#acacac"/>
<rect x="393.4" y="294.7" width="98.6" height="24.9" fill="#bfbfbf"/>
<rect x="491.7" y="294.7" width="24.9" height="24.9" fill="#a2a2a2"/>
<rect x="516.3" y="294.7" width="24.9" height="24.9" fill="#717171"/>
<rect x="540.9" y="294.7" width="24.9" height="24.9" fill="#7b7b7b"/>
<rect x="565.5" y="294.7" width="24.9" height="24.9" fill="#717171"/>
<rect x="590.1" y="294.7" width="74.1" height="24.9" fill="#848484"/>
<rect x="663.8" y="294.7" width="24.9" height="24.9" fill="#8e8e8e"/>
<rect x="688.4" y="294.7" width="89.5" height="24.9" fill="#989898"/>
<rect x="-40" y="319.2" width="64.9" height="64.9" fill="#acacac"/>
<rect x="24.6" y="319.2" width="49.5" height="64.9" fill="#c9c9c9"/>
<rect x="73.8" y="319.2" width="24.9" height="64.9" fill="#bfbfbf"/>
<rect x="98.3" y="319.2" width="49.5" height="64.9" fill="#c9c9c9"/>
<rect x="147.5" y="319.2" width="24.9" height="64.9" fill="#bfbfbf"/>
<rect x="172.1" y="319.2" width="49.5" height="64.9" fill="#a2a2a2"/>
<rect x="221.3" y="319.2" width="24.9" height="64.9" fill="#8e8e8e"/>
<rect x="245.9" y="319.2" width="24.9" height="64.9" fill="#7b7b7b"/>
<rect x="270.5" y="319.2" width="24.9" height="64.9" fill="#717171"/>
<rect x="295" y="319.2" width="24.9" height="64.9" fill="#676767"/>
<rect x="319.6" y="319.2" width="24.9" height="64.9" fill="#717171"/>
<rect x="344.2" y="319.2" width="24.9" height="64.9" fill="#848484"/>
<rect x="368.8" y="319.2" width="24.9" height="64.9" fill="#a2a2a2"/>
<rect x="393.4" y="319.2" width="49.5" height="64.9" fill="#b5b5b5"/>
<rect x="442.6" y="319.2" width="49.5" height="64.9" fill="#a2a2a2"/>
<rect x="491.7" y="319.2" width="24.9" height="64.9" fill="#989898"/>
<rect x="516.3" y="319.2" width="74.1" height="64.9" fill="#7b7b7b"/>
<rect x="590.1" y="319.2" width="24.9" height="64.9" fill="#848484"/>
<rect x="614.7" y="319.2" width="24.9" height="64.9" fill="#8e8e8e"/>
<rect x="639.3" y="319.2" width="74.1" height="64.9" fill="#989898"/>
<rect x="713" y="319.2" width="64.9" height="64.9" fill="#8e8e8e"/>
<polygon points="72.5,106.6 96.1,98 128.1,93.7 147.4,98 136.7,106.6 106.8,110.8 81.1,113" fill="#c9c9c9" stroke="#c9c9c9" stroke-width="3" stroke-linejoin="round"/>
<ellipse cx="136.7" cy="127.9" rx="21.4" ry="6.4" fill="#404040"/>
<ellipse cx="241.5" cy="160" rx="23.5" ry="7.5" fill="#b5b5b5"/>
<polygon points="102.5,193 111,178 136.7,173.7 149.5,188.7 170.9,201.5 192.3,214.4 205.2,222.9 192.3,231.5 175.2,242.2 166.7,257.2 149.5,261.4 132.4,248.6 136.7,231.5 119.6,218.7 106.8,208" fill="#bfbfbf" stroke="#bfbfbf" stroke-width="3" stroke-linejoin="round"/>
<polygon points="12.6,321.3 31.9,306.4 53.3,299.9 85.4,308.5 111,308.5 138.8,299.9 162.4,304.2 175.2,321.3 183.8,347 12.6,347" fill="#bfbfbf" stroke="#bfbfbf" stroke-width="3" stroke-linejoin="round"/>
<polygon points="373.1,270 400.9,263.6 433,257.2 465.1,261.4 488.6,272.1 501.4,291.4 507.8,312.8 501.4,327.8 484.3,321.3 465.1,319.2 443.7,325.6 411.6,325.6 385.9,317.1 377.4,299.9" fill="#bfbfbf" stroke="#bfbfbf" stroke-width="3" stroke-linejoin="round"/>
</g>
<polygon points="83.2,42.4 96.1,31.7 117.5,26.3 149.5,21 192.3,19.9 256.5,18.9 379.5,18.9 379.5,86.2 342.1,89.4 320.7,91.6 299.3,93.7 277.9,93.7 256.5,89.4 245.8,80.9 235.1,72.3 192.3,70.2 149.5,68.1 117.5,65.9 96.1,59.5" fill="#f5f5f5" stroke="#f5f5f5" stroke-width="3" stroke-linejoin="round"/>
<ellipse cx="47.9" cy="138.6" rx="19.3" ry="8.1" fill="#2c2c2c"/>
<polygon points="299.3,145.1 310,134.4 331.4,127.9 352.8,125.8 379.5,125.8 379.5,181.4 352.8,181.4 348.5,162.2 342.1,151.5 320.7,149.3" fill="#0a0a0a" stroke="#0a0a0a" stroke-width="3" stroke-linejoin="round"/>
<polygon points="358.1,18.9 454.4,19.9 539.9,23.1 625.5,29.5 689.7,34.9 748.5,40.2 748.5,98 721.8,98 700.4,95.9 679,93.7 657.6,91.6 636.2,91.6 614.8,93.7 595.5,100.1 582.7,106.6 574.2,115.1 561.3,123.7 539.9,130.1 518.5,132.2 497.1,132.2 480,125.8 465.1,110.8 454.4,95.9 433,91.6 411.6,89.4 390.2,87.3 358.1,87.3" fill="#f5f5f5" stroke="#f5f5f5" stroke-width="3" stroke-linejoin="round"/>
<polygon points="358.1,114 390.2,116.2 411.6,119.4 433,125.8 443.7,138.6 458.6,149.3 480,155.8 505.7,155.8 531.4,149.3 561.3,147.2 582.7,147.2 593.4,153.6 593.4,181.4 358.1,181.4" fill="#0a0a0a" stroke="#0a0a0a" stroke-width="3" stroke-linejoin="round"/>
<polygon points="606.2,127.9 614.8,119.4 631.9,114 653.3,116.2 668.3,127.9 676.8,138.6 668.3,149.3 664,162.2 646.9,175 614.8,170.7 621.2,153.6 614.8,140.8" fill="#0a0a0a" stroke="#0a0a0a" stroke-width="3" stroke-linejoin="round"/>
<ellipse cx="691.8" cy="119.4" rx="10.7" ry="3.2" fill="#404040"/>
<ellipse cx="130.3" cy="210.1" rx="12.8" ry="8.6" fill="#d3d3d3"/>
<ellipse cx="158.1" cy="249.7" rx="7.5" ry="4.7" fill="#d3d3d3"/>
<ellipse cx="51.1" cy="325.6" rx="16" ry="15" fill="#d3d3d3"/>
<ellipse cx="132.4" cy="337.4" rx="21.4" ry="10.7" fill="#d3d3d3"/>
<ellipse cx="10.5" cy="214.4" rx="6.4" ry="8.6" fill="#2c2c2c"/>
<ellipse cx="221.2" cy="250.3" rx="6" ry="4.3" fill="#2c2c2c"/>
<polygon points="245.8,210.1 267.2,203.7 288.6,205.8 299.3,188.7 312.1,184.4 324.9,197.3 342.1,208 346.3,227.2 333.5,244.3 329.2,261.4 310,265.7 288.6,263.6 273.6,255 267.2,235.8 252.2,227.2" fill="#0a0a0a" stroke="#0a0a0a" stroke-width="3" stroke-linejoin="round"/>
<ellipse cx="297.1" cy="293.5" rx="12.8" ry="10.7" fill="#2c2c2c"/>
<ellipse cx="368.8" cy="184.4" rx="8.6" ry="19.3" fill="#2c2c2c"/>
<polygon points="358.1,160.9 576.3,160.9 565.6,188.7 567.7,203.7 582.7,214.4 587,229.4 572,235.8 550.6,242.2 537.8,252.9 531.4,263.6 518.5,266.8 505.7,261.4 486.5,248.6 454.4,244.3 407.3,243.3 411.6,233.6 433,225.1 450.1,214.4 439.4,210.1 422.3,203.7 390.2,203.7 358.1,201.5" fill="#0a0a0a" stroke="#0a0a0a" stroke-width="3" stroke-linejoin="round"/>
<ellipse cx="579.5" cy="265.7" rx="8.6" ry="15" fill="#2c2c2c"/>
<polygon points="631.9,193 646.9,186.6 668.3,190.9 664,203.7 646.9,214.4 634.1,210.1" fill="#191919" stroke="#191919" stroke-width="3" stroke-linejoin="round"/>
<ellipse cx="702.5" cy="197.3" rx="21.4" ry="8.6" fill="#363636"/>
<ellipse cx="627.6" cy="239" rx="6.4" ry="5.3" fill="#363636"/>
<polygon points="383.8,278.6 400.9,272.1 422.3,276.4 433,287.1 454.4,285 475.8,289.3 490.7,299.9 495,310.6 484.3,308.5 465.1,299.9 443.7,302.1 422.3,299.9 400.9,293.5 385.9,287.1" fill="#d3d3d3" stroke="#d3d3d3" stroke-width="3" stroke-linejoin="round"/>
</g>
<use href="#coast"/>
</g>
<path class="gd" d="M147.5 122H442.6V24.6H147.5Z"/>
<path class="gd" d="M295 245.6H590.1V147.3H295Z"/>
<path class="gs" d="M516.3 245.6H590.1V319.2H516.3Z"/>
<rect class="fr" x="0" y="0" width="737.6" height="343.8"/>
<path class="mj" d="M0 343.8v12.8M147.5 343.8v12.8M295 343.8v12.8M442.6 343.8v12.8M590.1 343.8v12.8M737.6 343.8v12.8M0 294.7h-12.6M0 147.3h-12.6M0 0h-12.6"/>
<path class="mn" d="M49.2 343.8v6.8M98.3 343.8v6.8M196.7 343.8v6.8M245.9 343.8v6.8M344.2 343.8v6.8M393.4 343.8v6.8M491.7 343.8v6.8M540.9 343.8v6.8M639.3 343.8v6.8M688.4 343.8v6.8M0 343.8h-6.6M0 245.6h-6.6M0 196.5h-6.6M0 98.2h-6.6M0 49.1h-6.6"/>
<text class="tk" x="0" y="394.4" text-anchor="middle">0<tspan class="dg" dx="0.9" dy="-3.4">°</tspan></text>
<text class="tk" x="147.5" y="394.4" text-anchor="middle">30<tspan class="dg" dx="0.9" dy="-3.4">°</tspan><tspan dx="0.7" dy="3.4">E</tspan></text>
<text class="tk" x="295" y="394.4" text-anchor="middle">60<tspan class="dg" dx="0.9" dy="-3.4">°</tspan><tspan dx="0.7" dy="3.4">E</tspan></text>
<text class="tk" x="442.6" y="394.4" text-anchor="middle">90<tspan class="dg" dx="0.9" dy="-3.4">°</tspan><tspan dx="0.7" dy="3.4">E</tspan></text>
<text class="tk" x="590.1" y="394.4" text-anchor="middle">120<tspan class="dg" dx="0.9" dy="-3.4">°</tspan><tspan dx="0.7" dy="3.4">E</tspan></text>
<text class="tk" x="737.6" y="394.4" text-anchor="middle">150<tspan class="dg" dx="0.9" dy="-3.4">°</tspan><tspan dx="0.7" dy="3.4">E</tspan></text>
<text class="tk" x="-27.6" y="304.3" text-anchor="end">30<tspan class="dg" dx="0.9" dy="-3.4">°</tspan><tspan dx="0.7" dy="3.4">N</tspan></text>
<text class="tk" x="-27.6" y="156.9" text-anchor="end">60<tspan class="dg" dx="0.9" dy="-3.4">°</tspan><tspan dx="0.7" dy="3.4">N</tspan></text>
<text class="tk" x="-27.6" y="9.6" text-anchor="end">90<tspan class="dg" dx="0.9" dy="-3.4">°</tspan><tspan dx="0.7" dy="3.4">N</tspan></text>
<text class="tt" x="-2.6" y="-12.3">(f) Jan 5</text>
<text class="tt" y="-12.3"><tspan x="408">RSAT</tspan> <tspan x="503.1">=</tspan> <tspan class="r" x="534.8">10.6</tspan> <tspan class="b" x="610.5">-9.4</tspan> <tspan class="b" x="683.5">-3.9</tspan></text>
</g>
<!-- panel g -->
<g transform="translate(83.8 1357.4)">
<g clip-path="url(#cp)"><g filter="url(#fld)">
<g filter="url(#gblur)">
<rect x="-40" y="-40" width="89.5" height="64.9" fill="#676767"/>
<rect x="49.2" y="-40" width="24.9" height="64.9" fill="#5d5d5d"/>
<rect x="73.8" y="-40" width="49.5" height="64.9" fill="#535353"/>
<rect x="122.9" y="-40" width="74.1" height="64.9" fill="#4a4a4a"/>
<rect x="196.7" y="-40" width="74.1" height="64.9" fill="#404040"/>
<rect x="270.5" y="-40" width="98.6" height="64.9" fill="#363636"/>
<rect x="368.8" y="-40" width="24.9" height="64.9" fill="#404040"/>
<rect x="393.4" y="-40" width="24.9" height="64.9" fill="#4a4a4a"/>
<rect x="418" y="-40" width="24.9" height="64.9" fill="#535353"/>
<rect x="442.6" y="-40" width="24.9" height="64.9" fill="#5d5d5d"/>
<rect x="467.1" y="-40" width="98.6" height="64.9" fill="#676767"/>
<rect x="565.5" y="-40" width="123.2" height="64.9" fill="#717171"/>
<rect x="688.4" y="-40" width="89.5" height="64.9" fill="#676767"/>
<rect x="-40" y="24.6" width="64.9" height="24.9" fill="#717171"/>
<rect x="24.6" y="24.6" width="24.9" height="24.9" fill="#7b7b7b"/>
<rect x="49.2" y="24.6" width="24.9" height="24.9" fill="#848484"/>
<rect x="73.8" y="24.6" width="24.9" height="24.9" fill="#989898"/>
<rect x="98.3" y="24.6" width="24.9" height="24.9" fill="#acacac"/>
<rect x="122.9" y="24.6" width="24.9" height="24.9" fill="#b5b5b5"/>
<rect x="147.5" y="24.6" width="24.9" height="24.9" fill="#acacac"/>
<rect x="172.1" y="24.6" width="24.9" height="24.9" fill="#a2a2a2"/>
<rect x="196.7" y="24.6" width="24.9" height="24.9" fill="#8e8e8e"/>
<rect x="221.3" y="24.6" width="24.9" height="24.9" fill="#7b7b7b"/>
<rect x="245.9" y="24.6" width="24.9" height="24.9" fill="#676767"/>
<rect x="270.5" y="24.6" width="24.9" height="24.9" fill="#535353"/>
<rect x="295" y="24.6" width="24.9" height="24.9" fill="#4a4a4a"/>
<rect x="319.6" y="24.6" width="98.6" height="24.9" fill="#404040"/>
<rect x="418" y="24.6" width="24.9" height="24.9" fill="#4a4a4a"/>
<rect x="442.6" y="24.6" width="24.9" height="24.9" fill="#676767"/>
<rect x="467.1" y="24.6" width="24.9" height="24.9" fill="#848484"/>
<rect x="491.7" y="24.6" width="74.1" height="24.9" fill="#8e8e8e"/>
<rect x="565.5" y="24.6" width="24.9" height="24.9" fill="#989898"/>
<rect x="590.1" y="24.6" width="24.9" height="24.9" fill="#acacac"/>
<rect x="614.7" y="24.6" width="74.1" height="24.9" fill="#bfbfbf"/>
<rect x="688.4" y="24.6" width="24.9" height="24.9" fill="#b5b5b5"/>
<rect x="713" y="24.6" width="64.9" height="24.9" fill="#8e8e8e"/>
<rect x="-40" y="49.1" width="64.9" height="24.9" fill="#8e8e8e"/>
<rect x="24.6" y="49.1" width="24.9" height="24.9" fill="#989898"/>
<rect x="49.2" y="49.1" width="24.9" height="24.9" fill="#acacac"/>
<rect x="73.8" y="49.1" width="295.3" height="24.9" fill="#bfbfbf"/>
<rect x="368.8" y="49.1" width="74.1" height="24.9" fill="#989898"/>
<rect x="442.6" y="49.1" width="24.9" height="24.9" fill="#4a4a4a"/>
<rect x="467.1" y="49.1" width="24.9" height="24.9" fill="#535353"/>
<rect x="491.7" y="49.1" width="24.9" height="24.9" fill="#676767"/>
<rect x="516.3" y="49.1" width="24.9" height="24.9" fill="#7b7b7b"/>
<rect x="540.9" y="49.1" width="24.9" height="24.9" fill="#8e8e8e"/>
<rect x="565.5" y="49.1" width="24.9" height="24.9" fill="#a2a2a2"/>
<rect x="590.1" y="49.1" width="24.9" height="24.9" fill="#b5b5b5"/>
<rect x="614.7" y="49.1" width="98.6" height="24.9" fill="#bfbfbf"/>
<rect x="713" y="49.1" width="64.9" height="24.9" fill="#676767"/>
<rect x="-40" y="73.7" width="89.5" height="24.9" fill="#8e8e8e"/>
<rect x="49.2" y="73.7" width="24.9" height="24.9" fill="#989898"/>
<rect x="73.8" y="73.7" width="24.9" height="24.9" fill="#a2a2a2"/>
<rect x="98.3" y="73.7" width="24.9" height="24.9" fill="#acacac"/>
<rect x="122.9" y="73.7" width="74.1" height="24.9" fill="#b5b5b5"/>
<rect x="196.7" y="73.7" width="24.9" height="24.9" fill="#acacac"/>
<rect x="221.3" y="73.7" width="24.9" height="24.9" fill="#b5b5b5"/>
<rect x="245.9" y="73.7" width="123.2" height="24.9" fill="#bfbfbf"/>
<rect x="368.8" y="73.7" width="409.1" height="24.9" fill="#c9c9c9"/>
<rect x="-40" y="98.2" width="64.9" height="24.9" fill="#8e8e8e"/>
<rect x="24.6" y="98.2" width="24.9" height="24.9" fill="#848484"/>
<rect x="49.2" y="98.2" width="24.9" height="24.9" fill="#7b7b7b"/>
<rect x="73.8" y="98.2" width="24.9" height="24.9" fill="#676767"/>
<rect x="98.3" y="98.2" width="24.9" height="24.9" fill="#535353"/>
<rect x="122.9" y="98.2" width="24.9" height="24.9" fill="#4a4a4a"/>
<rect x="147.5" y="98.2" width="24.9" height="24.9" fill="#5d5d5d"/>
<rect x="172.1" y="98.2" width="49.5" height="24.9" fill="#717171"/>
<rect x="221.3" y="98.2" width="24.9" height="24.9" fill="#5d5d5d"/>
<rect x="245.9" y="98.2" width="24.9" height="24.9" fill="#535353"/>
<rect x="270.5" y="98.2" width="24.9" height="24.9" fill="#4a4a4a"/>
<rect x="295" y="98.2" width="74.1" height="24.9" fill="#676767"/>
<rect x="368.8" y="98.2" width="74.1" height="24.9" fill="#b5b5b5"/>
<rect x="442.6" y="98.2" width="24.9" height="24.9" fill="#bfbfbf"/>
<rect x="467.1" y="98.2" width="123.2" height="24.9" fill="#c9c9c9"/>
<rect x="590.1" y="98.2" width="24.9" height="24.9" fill="#bfbfbf"/>
<rect x="614.7" y="98.2" width="24.9" height="24.9" fill="#acacac"/>
<rect x="639.3" y="98.2" width="74.1" height="24.9" fill="#a2a2a2"/>
<rect x="713" y="98.2" width="64.9" height="24.9" fill="#acacac"/>
<rect x="-40" y="122.8" width="64.9" height="24.9" fill="#848484"/>
<rect x="24.6" y="122.8" width="24.9" height="24.9" fill="#535353"/>
<rect x="49.2" y="122.8" width="24.9" height="24.9" fill="#363636"/>
<rect x="73.8" y="122.8" width="24.9" height="24.9" fill="#4a4a4a"/>
<rect x="98.3" y="122.8" width="24.9" height="24.9" fill="#7b7b7b"/>
<rect x="122.9" y="122.8" width="49.5" height="24.9" fill="#848484"/>
<rect x="172.1" y="122.8" width="24.9" height="24.9" fill="#717171"/>
<rect x="196.7" y="122.8" width="49.5" height="24.9" fill="#535353"/>
<rect x="245.9" y="122.8" width="24.9" height="24.9" fill="#676767"/>
<rect x="270.5" y="122.8" width="24.9" height="24.9" fill="#717171"/>
<rect x="295" y="122.8" width="24.9" height="24.9" fill="#535353"/>
<rect x="319.6" y="122.8" width="24.9" height="24.9" fill="#4a4a4a"/>
<rect x="344.2" y="122.8" width="24.9" height="24.9" fill="#363636"/>
<rect x="368.8" y="122.8" width="24.9" height="24.9" fill="#676767"/>
<rect x="393.4" y="122.8" width="49.5" height="24.9" fill="#717171"/>
<rect x="442.6" y="122.8" width="24.9" height="24.9" fill="#848484"/>
<rect x="467.1" y="122.8" width="24.9" height="24.9" fill="#acacac"/>
<rect x="491.7" y="122.8" width="24.9" height="24.9" fill="#bfbfbf"/>
<rect x="516.3" y="122.8" width="74.1" height="24.9" fill="#c9c9c9"/>
<rect x="590.1" y="122.8" width="24.9" height="24.9" fill="#b5b5b5"/>
<rect x="614.7" y="122.8" width="24.9" height="24.9" fill="#717171"/>
<rect x="639.3" y="122.8" width="49.5" height="24.9" fill="#404040"/>
<rect x="688.4" y="122.8" width="24.9" height="24.9" fill="#535353"/>
<rect x="713" y="122.8" width="64.9" height="24.9" fill="#4a4a4a"/>
<rect x="-40" y="147.3" width="64.9" height="24.9" fill="#848484"/>
<rect x="24.6" y="147.3" width="24.9" height="24.9" fill="#5d5d5d"/>
<rect x="49.2" y="147.3" width="24.9" height="24.9" fill="#676767"/>
<rect x="73.8" y="147.3" width="24.9" height="24.9" fill="#7b7b7b"/>
<rect x="98.3" y="147.3" width="24.9" height="24.9" fill="#848484"/>
<rect x="122.9" y="147.3" width="24.9" height="24.9" fill="#8e8e8e"/>
<rect x="147.5" y="147.3" width="24.9" height="24.9" fill="#848484"/>
<rect x="172.1" y="147.3" width="24.9" height="24.9" fill="#717171"/>
<rect x="196.7" y="147.3" width="24.9" height="24.9" fill="#535353"/>
<rect x="221.3" y="147.3" width="24.9" height="24.9" fill="#676767"/>
<rect x="245.9" y="147.3" width="49.5" height="24.9" fill="#8e8e8e"/>
<rect x="295" y="147.3" width="24.9" height="24.9" fill="#535353"/>
<rect x="319.6" y="147.3" width="147.8" height="24.9" fill="#404040"/>
<rect x="467.1" y="147.3" width="24.9" height="24.9" fill="#7b7b7b"/>
<rect x="491.7" y="147.3" width="24.9" height="24.9" fill="#989898"/>
<rect x="516.3" y="147.3" width="24.9" height="24.9" fill="#717171"/>
<rect x="540.9" y="147.3" width="24.9" height="24.9" fill="#676767"/>
<rect x="565.5" y="147.3" width="24.9" height="24.9" fill="#717171"/>
<rect x="590.1" y="147.3" width="24.9" height="24.9" fill="#a2a2a2"/>
<rect x="614.7" y="147.3" width="24.9" height="24.9" fill="#717171"/>
<rect x="639.3" y="147.3" width="24.9" height="24.9" fill="#535353"/>
<rect x="663.8" y="147.3" width="49.5" height="24.9" fill="#404040"/>
<rect x="713" y="147.3" width="64.9" height="24.9" fill="#4a4a4a"/>
<rect x="-40" y="171.9" width="64.9" height="24.9" fill="#848484"/>
<rect x="24.6" y="171.9" width="49.5" height="24.9" fill="#7b7b7b"/>
<rect x="73.8" y="171.9" width="24.9" height="24.9" fill="#848484"/>
<rect x="98.3" y="171.9" width="24.9" height="24.9" fill="#989898"/>
<rect x="122.9" y="171.9" width="24.9" height="24.9" fill="#b5b5b5"/>
<rect x="147.5" y="171.9" width="74.1" height="24.9" fill="#bfbfbf"/>
<rect x="221.3" y="171.9" width="24.9" height="24.9" fill="#acacac"/>
<rect x="245.9" y="171.9" width="24.9" height="24.9" fill="#8e8e8e"/>
<rect x="270.5" y="171.9" width="24.9" height="24.9" fill="#676767"/>
<rect x="295" y="171.9" width="98.6" height="24.9" fill="#404040"/>
<rect x="393.4" y="171.9" width="24.9" height="24.9" fill="#4a4a4a"/>
<rect x="418" y="171.9" width="49.5" height="24.9" fill="#535353"/>
<rect x="467.1" y="171.9" width="24.9" height="24.9" fill="#4a4a4a"/>
<rect x="491.7" y="171.9" width="24.9" height="24.9" fill="#848484"/>
<rect x="516.3" y="171.9" width="49.5" height="24.9" fill="#676767"/>
<rect x="565.5" y="171.9" width="24.9" height="24.9" fill="#5d5d5d"/>
<rect x="590.1" y="171.9" width="24.9" height="24.9" fill="#535353"/>
<rect x="614.7" y="171.9" width="24.9" height="24.9" fill="#4a4a4a"/>
<rect x="639.3" y="171.9" width="74.1" height="24.9" fill="#404040"/>
<rect x="713" y="171.9" width="64.9" height="24.9" fill="#717171"/>
<rect x="-40" y="196.5" width="64.9" height="24.9" fill="#4a4a4a"/>
<rect x="24.6" y="196.5" width="24.9" height="24.9" fill="#404040"/>
<rect x="49.2" y="196.5" width="24.9" height="24.9" fill="#676767"/>
<rect x="73.8" y="196.5" width="24.9" height="24.9" fill="#848484"/>
<rect x="98.3" y="196.5" width="24.9" height="24.9" fill="#a2a2a2"/>
<rect x="122.9" y="196.5" width="24.9" height="24.9" fill="#bfbfbf"/>
<rect x="147.5" y="196.5" width="49.5" height="24.9" fill="#c9c9c9"/>
<rect x="196.7" y="196.5" width="24.9" height="24.9" fill="#bfbfbf"/>
<rect x="221.3" y="196.5" width="24.9" height="24.9" fill="#b5b5b5"/>
<rect x="245.9" y="196.5" width="24.9" height="24.9" fill="#7b7b7b"/>
<rect x="270.5" y="196.5" width="24.9" height="24.9" fill="#535353"/>
<rect x="295" y="196.5" width="74.1" height="24.9" fill="#404040"/>
<rect x="368.8" y="196.5" width="24.9" height="24.9" fill="#7b7b7b"/>
<rect x="393.4" y="196.5" width="24.9" height="24.9" fill="#8e8e8e"/>
<rect x="418" y="196.5" width="24.9" height="24.9" fill="#7b7b7b"/>
<rect x="442.6" y="196.5" width="24.9" height="24.9" fill="#535353"/>
<rect x="467.1" y="196.5" width="24.9" height="24.9" fill="#4a4a4a"/>
<rect x="491.7" y="196.5" width="24.9" height="24.9" fill="#676767"/>
<rect x="516.3" y="196.5" width="24.9" height="24.9" fill="#717171"/>
<rect x="540.9" y="196.5" width="24.9" height="24.9" fill="#676767"/>
<rect x="565.5" y="196.5" width="24.9" height="24.9" fill="#535353"/>
<rect x="590.1" y="196.5" width="24.9" height="24.9" fill="#4a4a4a"/>
<rect x="614.7" y="196.5" width="74.1" height="24.9" fill="#404040"/>
<rect x="688.4" y="196.5" width="24.9" height="24.9" fill="#5d5d5d"/>
<rect x="713" y="196.5" width="64.9" height="24.9" fill="#717171"/>
<rect x="-40" y="221" width="64.9" height="24.9" fill="#4a4a4a"/>
<rect x="24.6" y="221" width="24.9" height="24.9" fill="#535353"/>
<rect x="49.2" y="221" width="24.9" height="24.9" fill="#717171"/>
<rect x="73.8" y="221" width="24.9" height="24.9" fill="#8e8e8e"/>
<rect x="98.3" y="221" width="49.5" height="24.9" fill="#bfbfbf"/>
<rect x="147.5" y="221" width="24.9" height="24.9" fill="#b5b5b5"/>
<rect x="172.1" y="221" width="49.5" height="24.9" fill="#acacac"/>
<rect x="221.3" y="221" width="24.9" height="24.9" fill="#8e8e8e"/>
<rect x="245.9" y="221" width="24.9" height="24.9" fill="#717171"/>
<rect x="270.5" y="221" width="98.6" height="24.9" fill="#404040"/>
<rect x="368.8" y="221" width="24.9" height="24.9" fill="#535353"/>
<rect x="393.4" y="221" width="24.9" height="24.9" fill="#4a4a4a"/>
<rect x="418" y="221" width="246.2" height="24.9" fill="#404040"/>
<rect x="663.8" y="221" width="24.9" height="24.9" fill="#5d5d5d"/>
<rect x="688.4" y="221" width="24.9" height="24.9" fill="#7b7b7b"/>
<rect x="713" y="221" width="64.9" height="24.9" fill="#8e8e8e"/>
<rect x="-40" y="245.6" width="114.1" height="24.9" fill="#989898"/>
<rect x="73.8" y="245.6" width="24.9" height="24.9" fill="#a2a2a2"/>
<rect x="98.3" y="245.6" width="24.9" height="24.9" fill="#acacac"/>
<rect x="122.9" y="245.6" width="49.5" height="24.9" fill="#b5b5b5"/>
<rect x="172.1" y="245.6" width="24.9" height="24.9" fill="#989898"/>
<rect x="196.7" y="245.6" width="24.9" height="24.9" fill="#676767"/>
<rect x="221.3" y="245.6" width="24.9" height="24.9" fill="#535353"/>
<rect x="245.9" y="245.6" width="24.9" height="24.9" fill="#7b7b7b"/>
<rect x="270.5" y="245.6" width="24.9" height="24.9" fill="#4a4a4a"/>
<rect x="295" y="245.6" width="49.5" height="24.9" fill="#404040"/>
<rect x="344.2" y="245.6" width="74.1" height="24.9" fill="#676767"/>
<rect x="418" y="245.6" width="24.9" height="24.9" fill="#7b7b7b"/>
<rect x="442.6" y="245.6" width="24.9" height="24.9" fill="#717171"/>
<rect x="467.1" y="245.6" width="24.9" height="24.9" fill="#535353"/>
<rect x="491.7" y="245.6" width="98.6" height="24.9" fill="#404040"/>
<rect x="590.1" y="245.6" width="24.9" height="24.9" fill="#4a4a4a"/>
<rect x="614.7" y="245.6" width="24.9" height="24.9" fill="#404040"/>
<rect x="639.3" y="245.6" width="24.9" height="24.9" fill="#535353"/>
<rect x="663.8" y="245.6" width="24.9" height="24.9" fill="#676767"/>
<rect x="688.4" y="245.6" width="24.9" height="24.9" fill="#7b7b7b"/>
<rect x="713" y="245.6" width="64.9" height="24.9" fill="#8e8e8e"/>
<rect x="-40" y="270.1" width="89.5" height="24.9" fill="#bfbfbf"/>
<rect x="49.2" y="270.1" width="24.9" height="24.9" fill="#b5b5b5"/>
<rect x="73.8" y="270.1" width="24.9" height="24.9" fill="#a2a2a2"/>
<rect x="98.3" y="270.1" width="49.5" height="24.9" fill="#989898"/>
<rect x="147.5" y="270.1" width="24.9" height="24.9" fill="#a2a2a2"/>
<rect x="172.1" y="270.1" width="24.9" height="24.9" fill="#989898"/>
<rect x="196.7" y="270.1" width="24.9" height="24.9" fill="#717171"/>
<rect x="221.3" y="270.1" width="24.9" height="24.9" fill="#848484"/>
<rect x="245.9" y="270.1" width="24.9" height="24.9" fill="#717171"/>
<rect x="270.5" y="270.1" width="24.9" height="24.9" fill="#4a4a4a"/>
<rect x="295" y="270.1" width="24.9" height="24.9" fill="#404040"/>
<rect x="319.6" y="270.1" width="24.9" height="24.9" fill="#717171"/>
<rect x="344.2" y="270.1" width="49.5" height="24.9" fill="#8e8e8e"/>
<rect x="393.4" y="270.1" width="24.9" height="24.9" fill="#a2a2a2"/>
<rect x="418" y="270.1" width="24.9" height="24.9" fill="#989898"/>
<rect x="442.6" y="270.1" width="24.9" height="24.9" fill="#a2a2a2"/>
<rect x="467.1" y="270.1" width="24.9" height="24.9" fill="#989898"/>
<rect x="491.7" y="270.1" width="24.9" height="24.9" fill="#676767"/>
<rect x="516.3" y="270.1" width="74.1" height="24.9" fill="#404040"/>
<rect x="590.1" y="270.1" width="49.5" height="24.9" fill="#535353"/>
<rect x="639.3" y="270.1" width="24.9" height="24.9" fill="#5d5d5d"/>
<rect x="663.8" y="270.1" width="24.9" height="24.9" fill="#717171"/>
<rect x="688.4" y="270.1" width="24.9" height="24.9" fill="#848484"/>
<rect x="713" y="270.1" width="64.9" height="24.9" fill="#8e8e8e"/>
<rect x="-40" y="294.7" width="114.1" height="24.9" fill="#bfbfbf"/>
<rect x="73.8" y="294.7" width="24.9" height="24.9" fill="#b5b5b5"/>
<rect x="98.3" y="294.7" width="24.9" height="24.9" fill="#a2a2a2"/>
<rect x="122.9" y="294.7" width="49.5" height="24.9" fill="#acacac"/>
<rect x="172.1" y="294.7" width="24.9" height="24.9" fill="#a2a2a2"/>
<rect x="196.7" y="294.7" width="24.9" height="24.9" fill="#8e8e8e"/>
<rect x="221.3" y="294.7" width="24.9" height="24.9" fill="#848484"/>
<rect x="245.9" y="294.7" width="24.9" height="24.9" fill="#7b7b7b"/>
<rect x="270.5" y="294.7" width="24.9" height="24.9" fill="#5d5d5d"/>
<rect x="295" y="294.7" width="24.9" height="24.9" fill="#535353"/>
<rect x="319.6" y="294.7" width="24.9" height="24.9" fill="#7b7b7b"/>
<rect x="344.2" y="294.7" width="24.9" height="24.9" fill="#848484"/>
<rect x="368.8" y="294.7" width="24.9" height="24.9" fill="#7b7b7b"/>
<rect x="393.4" y="294.7" width="24.9" height="24.9" fill="#989898"/>
<rect x="418" y="294.7" width="24.9" height="24.9" fill="#a2a2a2"/>
<rect x="442.6" y="294.7" width="24.9" height="24.9" fill="#b5b5b5"/>
<rect x="467.1" y="294.7" width="24.9" height="24.9" fill="#a2a2a2"/>
<rect x="491.7" y="294.7" width="24.9" height="24.9" fill="#989898"/>
<rect x="516.3" y="294.7" width="74.1" height="24.9" fill="#404040"/>
<rect x="590.1" y="294.7" width="24.9" height="24.9" fill="#535353"/>
<rect x="614.7" y="294.7" width="24.9" height="24.9" fill="#676767"/>
<rect x="639.3" y="294.7" width="24.9" height="24.9" fill="#717171"/>
<rect x="663.8" y="294.7" width="24.9" height="24.9" fill="#7b7b7b"/>
<rect x="688.4" y="294.7" width="24.9" height="24.9" fill="#8e8e8e"/>
<rect x="713" y="294.7" width="64.9" height="24.9" fill="#989898"/>
<rect x="-40" y="319.2" width="187.8" height="64.9" fill="#bfbfbf"/>
<rect x="147.5" y="319.2" width="24.9" height="64.9" fill="#b5b5b5"/>
<rect x="172.1" y="319.2" width="24.9" height="64.9" fill="#a2a2a2"/>
<rect x="196.7" y="319.2" width="24.9" height="64.9" fill="#989898"/>
<rect x="221.3" y="319.2" width="24.9" height="64.9" fill="#8e8e8e"/>
<rect x="245.9" y="319.2" width="24.9" height="64.9" fill="#848484"/>
<rect x="270.5" y="319.2" width="24.9" height="64.9" fill="#7b7b7b"/>
<rect x="295" y="319.2" width="24.9" height="64.9" fill="#717171"/>
<rect x="319.6" y="319.2" width="24.9" height="64.9" fill="#7b7b7b"/>
<rect x="344.2" y="319.2" width="24.9" height="64.9" fill="#8e8e8e"/>
<rect x="368.8" y="319.2" width="24.9" height="64.9" fill="#a2a2a2"/>
<rect x="393.4" y="319.2" width="24.9" height="64.9" fill="#acacac"/>
<rect x="418" y="319.2" width="24.9" height="64.9" fill="#b5b5b5"/>
<rect x="442.6" y="319.2" width="24.9" height="64.9" fill="#acacac"/>
<rect x="467.1" y="319.2" width="49.5" height="64.9" fill="#a2a2a2"/>
<rect x="516.3" y="319.2" width="24.9" height="64.9" fill="#535353"/>
<rect x="540.9" y="319.2" width="24.9" height="64.9" fill="#404040"/>
<rect x="565.5" y="319.2" width="24.9" height="64.9" fill="#535353"/>
<rect x="590.1" y="319.2" width="24.9" height="64.9" fill="#676767"/>
<rect x="614.7" y="319.2" width="24.9" height="64.9" fill="#717171"/>
<rect x="639.3" y="319.2" width="24.9" height="64.9" fill="#7b7b7b"/>
<rect x="663.8" y="319.2" width="24.9" height="64.9" fill="#848484"/>
<rect x="688.4" y="319.2" width="89.5" height="64.9" fill="#8e8e8e"/>
<ellipse cx="122.1" cy="109.8" rx="12.8" ry="3.9" fill="#4a4a4a"/>
<polygon points="107.2,195.1 120,182.3 149.9,178 192.7,180.2 224.8,186.6 241.9,197.3 235.5,218.7 224.8,229.4 205.6,227.2 192.7,237.9 175.6,252.9 149.9,257.2 128.5,252.9 111.4,244.3 102.9,235.8 111.4,225.1 120,210.1" fill="#bfbfbf" stroke="#bfbfbf" stroke-width="3" stroke-linejoin="round"/>
<polygon points="120,299.9 149.9,291.4 182,299.9 192.7,321.3 184.2,347 128.5,347 115.7,321.3" fill="#b5b5b5" stroke="#b5b5b5" stroke-width="3" stroke-linejoin="round"/>
<ellipse cx="222.7" cy="257.2" rx="12.8" ry="8.6" fill="#4a4a4a"/>
<polygon points="364.9,265.5 390.5,261.2 422.5,256.9 437.5,263.3 465.2,271.9 488.7,278.3 501.5,299.6 505.7,325.2 497.2,346.5 364.9,346.5" fill="#acacac" stroke="#acacac" stroke-width="3" stroke-linejoin="round"/>
<ellipse cx="422.5" cy="318.8" rx="14.9" ry="10.7" fill="#bfbfbf"/>
<ellipse cx="458.8" cy="310.3" rx="10.7" ry="10.7" fill="#bfbfbf"/>
<ellipse cx="495.1" cy="320.9" rx="6.4" ry="12.8" fill="#bfbfbf"/>
<ellipse cx="373.5" cy="291.1" rx="8.5" ry="12.8" fill="#717171"/>
<ellipse cx="396.9" cy="205.7" rx="10.7" ry="6.4" fill="#989898"/>
</g>
<polygon points="-10.5,-11.1 379.9,-11.1 379.9,21 321.1,18.9 256.9,15.6 171.3,12.9 85.8,12 -10.5,11.4" fill="#363636" stroke="#363636" stroke-width="3" stroke-linejoin="round"/>
<polygon points="90,44.5 107.2,39.2 128.5,37 171.3,38.1 214.1,42.4 256.9,45.6 299.7,50.9 342.5,54.1 379.9,55.6 379.9,106.6 353.2,106.6 331.8,106.6 310.4,104.4 289,102.3 267.6,98 252.6,89.4 246.2,78.7 235.5,73.4 214.1,74.5 171.3,73.4 128.5,71.3 107.2,68.1 90,63.8 81.5,55.2" fill="#f5f5f5" stroke="#f5f5f5" stroke-width="3" stroke-linejoin="round"/>
<ellipse cx="62.2" cy="136.5" rx="21.4" ry="8.6" fill="#2c2c2c" transform="rotate(-20 62.2 136.5)"/>
<polygon points="297.5,162.2 321.1,153.6 353.2,149.3 379.9,147.2 379.9,181.4 297.5,181.4" fill="#0a0a0a" stroke="#0a0a0a" stroke-width="3" stroke-linejoin="round"/>
<ellipse cx="366" cy="136.5" rx="10.7" ry="11.8" fill="#363636"/>
<polygon points="358.5,-11.1 747.9,-11.1 747.9,12.4 625.2,12.8 497.2,13.5 358.5,14.5" fill="#404040" stroke="#404040" stroke-width="3" stroke-linejoin="round"/>
<polygon points="358.5,38 390.5,36.9 422.5,40.1 437.5,48.7 422.5,52.9 390.5,51.9 358.5,50.8" fill="#363636" stroke="#363636" stroke-width="3" stroke-linejoin="round"/>
<polygon points="358.5,56.1 390.5,59.3 411.9,61.5 433.2,63.6 454.5,65.7 475.9,67.9 497.2,68.9 518.5,70 539.9,71.1 561.2,73.2 582.5,73.2 603.9,72.1 625.2,73.2 646.5,75.3 667.9,78.5 689.2,82.8 710.5,87.1 747.9,92.4 747.9,98.8 721.2,99.9 699.9,102 678.5,104.1 657.2,104.1 635.9,106.3 614.5,112.7 603.9,119.1 599.6,127.6 599.6,138.3 582.5,142.5 561.2,142.5 539.9,142.5 518.5,142.5 501.5,136.1 492.9,125.5 475.9,116.9 465.2,106.3 454.5,102 433.2,104.1 411.9,106.3 390.5,106.3 358.5,104.1" fill="#f5f5f5" stroke="#f5f5f5" stroke-width="3" stroke-linejoin="round"/>
<polygon points="610.3,46.5 625.2,40.1 657.2,38 684.9,40.1 695.6,45.5 678.5,55.1 646.5,59.3 620.9,55.1" fill="#f5f5f5" stroke="#f5f5f5" stroke-width="3" stroke-linejoin="round"/>
<polygon points="358.5,136.1 390.5,131.9 422.5,131.9 450.3,136.1 467.3,148.9 471.6,166 454.5,180.9 358.5,180.9" fill="#0a0a0a" stroke="#0a0a0a" stroke-width="3" stroke-linejoin="round"/>
<ellipse cx="388.4" cy="168.1" rx="12.8" ry="5.3" fill="#4a4a4a"/>
<polygon points="631.6,129.7 646.5,121.2 667.9,119.1 689.2,123.3 702,129.7 689.2,138.3 667.9,136.1 646.5,138.3" fill="#0a0a0a" stroke="#0a0a0a" stroke-width="3" stroke-linejoin="round"/>
<polygon points="663.6,180.9 678.5,157.5 699.9,151.1 721.2,155.3 723.3,180.9" fill="#0a0a0a" stroke="#0a0a0a" stroke-width="3" stroke-linejoin="round"/>
<ellipse cx="736.1" cy="138.3" rx="8.5" ry="6.4" fill="#2c2c2c"/>
<polygon points="-10.5,270 21.6,265.7 47.3,267.9 64.4,282.8 81.5,293.5 90,308.5 107.2,319.2 128.5,325.6 145.7,334.2 154.2,353.4 -10.5,353.4" fill="#f5f5f5" stroke="#f5f5f5" stroke-width="3" stroke-linejoin="round"/>
<ellipse cx="25.9" cy="295.7" rx="12.8" ry="8.6" fill="#bfbfbf" transform="rotate(-30 25.9 295.7)"/>
<ellipse cx="45.1" cy="332" rx="13.9" ry="6.4" fill="#bfbfbf"/>
<polygon points="132.8,203.7 149.9,195.1 171.3,197.3 184.2,203.7 175.6,214.4 154.2,218.7 139.2,214.4" fill="#d3d3d3" stroke="#d3d3d3" stroke-width="3" stroke-linejoin="round"/>
<ellipse cx="113.6" cy="233.6" rx="10.7" ry="6.4" fill="#d3d3d3"/>
<polygon points="2.3,214.4 17.3,208 38.7,208 51.5,214.4 43,225.1 25.9,233.6 8.8,233.6 2.3,225.1" fill="#0a0a0a" stroke="#0a0a0a" stroke-width="3" stroke-linejoin="round"/>
<polygon points="299.7,160.9 379.9,160.9 379.9,252.9 353.2,257.2 333.9,267.9 325.3,287.1 312.5,304.2 295.4,308.5 278.3,299.9 282.6,278.6 286.8,257.2 274,242.2 274,227.2 286.8,214.4 293.3,193" fill="#0a0a0a" stroke="#0a0a0a" stroke-width="3" stroke-linejoin="round"/>
<polygon points="358.5,160.9 411.9,160.9 403.3,184.4 382,195.1 358.5,201.5" fill="#0a0a0a" stroke="#0a0a0a" stroke-width="3" stroke-linejoin="round"/>
<polygon points="411.9,231.3 424.7,220.7 454.5,218.5 475.9,222.8 484.4,203.6 475.9,190.8 488.7,192.9 497.2,210 514.3,227.1 535.6,233.5 556.9,229.2 574,218.5 591.1,214.3 603.9,220.7 616.7,210 625.2,192.9 638,180.1 657.2,160.9 702,160.9 706.3,184.4 697.7,203.6 678.5,218.5 657.2,231.3 642.3,244.1 633.7,261.2 642.3,274 625.2,274 603.9,263.3 595.3,278.3 599.6,299.6 591.1,320.9 574,333.7 550.5,338 529.2,333.7 518.5,320.9 516.4,278.3 505.7,261.2 488.7,252.7 467.3,244.1 433.2,242" fill="#0a0a0a" stroke="#0a0a0a" stroke-width="3" stroke-linejoin="round"/>
<polygon points="446,201.5 465.2,192.9 484.4,195.1 484.4,210 465.2,212.1" fill="#0a0a0a" stroke="#0a0a0a" stroke-width="3" stroke-linejoin="round"/>
<ellipse cx="405.5" cy="297.5" rx="5.3" ry="4.7" fill="#717171"/>
<ellipse cx="469.5" cy="298.5" rx="11.7" ry="3.8" fill="#676767"/>
<ellipse cx="432.1" cy="306" rx="4.3" ry="4.3" fill="#717171"/>
</g>
<use href="#coast"/>
</g>
<path class="gd" d="M147.5 122H442.6V24.6H147.5Z"/>
<path class="gd" d="M295 245.6H590.1V147.3H295Z"/>
<path class="gs" d="M516.3 245.6H590.1V319.2H516.3Z"/>
<rect class="fr" x="0" y="0" width="737.6" height="343.8"/>
<path class="mj" d="M0 343.8v12.8M147.5 343.8v12.8M295 343.8v12.8M442.6 343.8v12.8M590.1 343.8v12.8M737.6 343.8v12.8M0 294.7h-12.6M0 147.3h-12.6M0 0h-12.6"/>
<path class="mn" d="M49.2 343.8v6.8M98.3 343.8v6.8M196.7 343.8v6.8M245.9 343.8v6.8M344.2 343.8v6.8M393.4 343.8v6.8M491.7 343.8v6.8M540.9 343.8v6.8M639.3 343.8v6.8M688.4 343.8v6.8M0 343.8h-6.6M0 245.6h-6.6M0 196.5h-6.6M0 98.2h-6.6M0 49.1h-6.6"/>
<text class="tk" x="0" y="394.4" text-anchor="middle">0<tspan class="dg" dx="0.9" dy="-3.4">°</tspan></text>
<text class="tk" x="147.5" y="394.4" text-anchor="middle">30<tspan class="dg" dx="0.9" dy="-3.4">°</tspan><tspan dx="0.7" dy="3.4">E</tspan></text>
<text class="tk" x="295" y="394.4" text-anchor="middle">60<tspan class="dg" dx="0.9" dy="-3.4">°</tspan><tspan dx="0.7" dy="3.4">E</tspan></text>
<text class="tk" x="442.6" y="394.4" text-anchor="middle">90<tspan class="dg" dx="0.9" dy="-3.4">°</tspan><tspan dx="0.7" dy="3.4">E</tspan></text>
<text class="tk" x="590.1" y="394.4" text-anchor="middle">120<tspan class="dg" dx="0.9" dy="-3.4">°</tspan><tspan dx="0.7" dy="3.4">E</tspan></text>
<text class="tk" x="737.6" y="394.4" text-anchor="middle">150<tspan class="dg" dx="0.9" dy="-3.4">°</tspan><tspan dx="0.7" dy="3.4">E</tspan></text>
<text class="tk" x="-27.6" y="304.3" text-anchor="end">30<tspan class="dg" dx="0.9" dy="-3.4">°</tspan><tspan dx="0.7" dy="3.4">N</tspan></text>
<text class="tk" x="-27.6" y="156.9" text-anchor="end">60<tspan class="dg" dx="0.9" dy="-3.4">°</tspan><tspan dx="0.7" dy="3.4">N</tspan></text>
<text class="tk" x="-27.6" y="9.6" text-anchor="end">90<tspan class="dg" dx="0.9" dy="-3.4">°</tspan><tspan dx="0.7" dy="3.4">N</tspan></text>
<text class="tt" x="-2.6" y="-12.3">(g) Jan 7</text>
<text class="tt" y="-12.3"><tspan x="417.2">RSAT</tspan> <tspan x="511.9">=</tspan> <tspan class="r" x="538.5">4.7</tspan> <tspan class="b" x="596.2">-7.1</tspan> <tspan class="b" x="668.8">-10.9</tspan></text>
<text class="tr" transform="translate(144.3 -13.7) scale(1 0.806)" font-size="32.4">▲</text>
</g>
<!-- panel h -->
<g transform="translate(953.2 1357.4)">
<g clip-path="url(#cp)"><g filter="url(#fld)">
<g filter="url(#gblur)">
<rect x="-40" y="-40" width="556.6" height="64.9" fill="#d3d3d3"/>
<rect x="516.3" y="-40" width="24.9" height="64.9" fill="#c9c9c9"/>
<rect x="540.9" y="-40" width="24.9" height="64.9" fill="#bfbfbf"/>
<rect x="565.5" y="-40" width="74.1" height="64.9" fill="#b5b5b5"/>
<rect x="639.3" y="-40" width="74.1" height="64.9" fill="#acacac"/>
<rect x="713" y="-40" width="64.9" height="64.9" fill="#a2a2a2"/>
<rect x="-40" y="24.6" width="89.5" height="24.9" fill="#8e8e8e"/>
<rect x="49.2" y="24.6" width="24.9" height="24.9" fill="#989898"/>
<rect x="73.8" y="24.6" width="24.9" height="24.9" fill="#acacac"/>
<rect x="98.3" y="24.6" width="24.9" height="24.9" fill="#bfbfbf"/>
<rect x="122.9" y="24.6" width="24.9" height="24.9" fill="#c9c9c9"/>
<rect x="147.5" y="24.6" width="344.5" height="24.9" fill="#d3d3d3"/>
<rect x="491.7" y="24.6" width="24.9" height="24.9" fill="#c9c9c9"/>
<rect x="516.3" y="24.6" width="24.9" height="24.9" fill="#b5b5b5"/>
<rect x="540.9" y="24.6" width="24.9" height="24.9" fill="#a2a2a2"/>
<rect x="565.5" y="24.6" width="24.9" height="24.9" fill="#8e8e8e"/>
<rect x="590.1" y="24.6" width="24.9" height="24.9" fill="#848484"/>
<rect x="614.7" y="24.6" width="49.5" height="24.9" fill="#7b7b7b"/>
<rect x="663.8" y="24.6" width="24.9" height="24.9" fill="#848484"/>
<rect x="688.4" y="24.6" width="89.5" height="24.9" fill="#8e8e8e"/>
<rect x="-40" y="49.1" width="89.5" height="24.9" fill="#a2a2a2"/>
<rect x="49.2" y="49.1" width="24.9" height="24.9" fill="#acacac"/>
<rect x="73.8" y="49.1" width="24.9" height="24.9" fill="#bfbfbf"/>
<rect x="98.3" y="49.1" width="270.8" height="24.9" fill="#c9c9c9"/>
<rect x="368.8" y="49.1" width="24.9" height="24.9" fill="#bfbfbf"/>
<rect x="393.4" y="49.1" width="24.9" height="24.9" fill="#b5b5b5"/>
<rect x="418" y="49.1" width="24.9" height="24.9" fill="#a2a2a2"/>
<rect x="442.6" y="49.1" width="24.9" height="24.9" fill="#8e8e8e"/>
<rect x="467.1" y="49.1" width="24.9" height="24.9" fill="#717171"/>
<rect x="491.7" y="49.1" width="24.9" height="24.9" fill="#7b7b7b"/>
<rect x="516.3" y="49.1" width="24.9" height="24.9" fill="#8e8e8e"/>
<rect x="540.9" y="49.1" width="98.6" height="24.9" fill="#a2a2a2"/>
<rect x="639.3" y="49.1" width="24.9" height="24.9" fill="#989898"/>
<rect x="663.8" y="49.1" width="24.9" height="24.9" fill="#8e8e8e"/>
<rect x="688.4" y="49.1" width="24.9" height="24.9" fill="#7b7b7b"/>
<rect x="713" y="49.1" width="64.9" height="24.9" fill="#535353"/>
<rect x="-40" y="73.7" width="64.9" height="24.9" fill="#a2a2a2"/>
<rect x="24.6" y="73.7" width="123.2" height="24.9" fill="#989898"/>
<rect x="147.5" y="73.7" width="74.1" height="24.9" fill="#8e8e8e"/>
<rect x="221.3" y="73.7" width="24.9" height="24.9" fill="#989898"/>
<rect x="245.9" y="73.7" width="24.9" height="24.9" fill="#b5b5b5"/>
<rect x="270.5" y="73.7" width="49.5" height="24.9" fill="#bfbfbf"/>
<rect x="319.6" y="73.7" width="24.9" height="24.9" fill="#acacac"/>
<rect x="344.2" y="73.7" width="24.9" height="24.9" fill="#989898"/>
<rect x="368.8" y="73.7" width="74.1" height="24.9" fill="#676767"/>
<rect x="442.6" y="73.7" width="24.9" height="24.9" fill="#5d5d5d"/>
<rect x="467.1" y="73.7" width="24.9" height="24.9" fill="#535353"/>
<rect x="491.7" y="73.7" width="24.9" height="24.9" fill="#676767"/>
<rect x="516.3" y="73.7" width="24.9" height="24.9" fill="#848484"/>
<rect x="540.9" y="73.7" width="24.9" height="24.9" fill="#8e8e8e"/>
<rect x="565.5" y="73.7" width="24.9" height="24.9" fill="#989898"/>
<rect x="590.1" y="73.7" width="49.5" height="24.9" fill="#a2a2a2"/>
<rect x="639.3" y="73.7" width="24.9" height="24.9" fill="#989898"/>
<rect x="663.8" y="73.7" width="24.9" height="24.9" fill="#8e8e8e"/>
<rect x="688.4" y="73.7" width="24.9" height="24.9" fill="#5d5d5d"/>
<rect x="713" y="73.7" width="64.9" height="24.9" fill="#404040"/>
<rect x="-40" y="98.2" width="64.9" height="24.9" fill="#989898"/>
<rect x="24.6" y="98.2" width="24.9" height="24.9" fill="#8e8e8e"/>
<rect x="49.2" y="98.2" width="24.9" height="24.9" fill="#848484"/>
<rect x="73.8" y="98.2" width="24.9" height="24.9" fill="#676767"/>
<rect x="98.3" y="98.2" width="49.5" height="24.9" fill="#4a4a4a"/>
<rect x="147.5" y="98.2" width="49.5" height="24.9" fill="#676767"/>
<rect x="196.7" y="98.2" width="24.9" height="24.9" fill="#535353"/>
<rect x="221.3" y="98.2" width="98.6" height="24.9" fill="#404040"/>
<rect x="319.6" y="98.2" width="24.9" height="24.9" fill="#535353"/>
<rect x="344.2" y="98.2" width="49.5" height="24.9" fill="#676767"/>
<rect x="393.4" y="98.2" width="49.5" height="24.9" fill="#717171"/>
<rect x="442.6" y="98.2" width="49.5" height="24.9" fill="#676767"/>
<rect x="491.7" y="98.2" width="24.9" height="24.9" fill="#8e8e8e"/>
<rect x="516.3" y="98.2" width="49.5" height="24.9" fill="#989898"/>
<rect x="565.5" y="98.2" width="49.5" height="24.9" fill="#a2a2a2"/>
<rect x="614.7" y="98.2" width="49.5" height="24.9" fill="#989898"/>
<rect x="663.8" y="98.2" width="24.9" height="24.9" fill="#8e8e8e"/>
<rect x="688.4" y="98.2" width="24.9" height="24.9" fill="#4a4a4a"/>
<rect x="713" y="98.2" width="64.9" height="24.9" fill="#676767"/>
<rect x="-40" y="122.8" width="64.9" height="24.9" fill="#848484"/>
<rect x="24.6" y="122.8" width="24.9" height="24.9" fill="#676767"/>
<rect x="49.2" y="122.8" width="24.9" height="24.9" fill="#4a4a4a"/>
<rect x="73.8" y="122.8" width="24.9" height="24.9" fill="#535353"/>
<rect x="98.3" y="122.8" width="24.9" height="24.9" fill="#717171"/>
<rect x="122.9" y="122.8" width="123.2" height="24.9" fill="#404040"/>
<rect x="245.9" y="122.8" width="24.9" height="24.9" fill="#535353"/>
<rect x="270.5" y="122.8" width="24.9" height="24.9" fill="#4a4a4a"/>
<rect x="295" y="122.8" width="98.6" height="24.9" fill="#404040"/>
<rect x="393.4" y="122.8" width="24.9" height="24.9" fill="#4a4a4a"/>
<rect x="418" y="122.8" width="24.9" height="24.9" fill="#717171"/>
<rect x="442.6" y="122.8" width="24.9" height="24.9" fill="#7b7b7b"/>
<rect x="467.1" y="122.8" width="24.9" height="24.9" fill="#848484"/>
<rect x="491.7" y="122.8" width="24.9" height="24.9" fill="#8e8e8e"/>
<rect x="516.3" y="122.8" width="24.9" height="24.9" fill="#a2a2a2"/>
<rect x="540.9" y="122.8" width="49.5" height="24.9" fill="#b5b5b5"/>
<rect x="590.1" y="122.8" width="24.9" height="24.9" fill="#8e8e8e"/>
<rect x="614.7" y="122.8" width="24.9" height="24.9" fill="#676767"/>
<rect x="639.3" y="122.8" width="24.9" height="24.9" fill="#404040"/>
<rect x="663.8" y="122.8" width="49.5" height="24.9" fill="#535353"/>
<rect x="713" y="122.8" width="64.9" height="24.9" fill="#676767"/>
<rect x="-40" y="147.3" width="64.9" height="24.9" fill="#848484"/>
<rect x="24.6" y="147.3" width="24.9" height="24.9" fill="#717171"/>
<rect x="49.2" y="147.3" width="24.9" height="24.9" fill="#535353"/>
<rect x="73.8" y="147.3" width="49.5" height="24.9" fill="#5d5d5d"/>
<rect x="122.9" y="147.3" width="74.1" height="24.9" fill="#404040"/>
<rect x="196.7" y="147.3" width="24.9" height="24.9" fill="#535353"/>
<rect x="221.3" y="147.3" width="24.9" height="24.9" fill="#8e8e8e"/>
<rect x="245.9" y="147.3" width="24.9" height="24.9" fill="#a2a2a2"/>
<rect x="270.5" y="147.3" width="24.9" height="24.9" fill="#8e8e8e"/>
<rect x="295" y="147.3" width="74.1" height="24.9" fill="#717171"/>
<rect x="368.8" y="147.3" width="24.9" height="24.9" fill="#676767"/>
<rect x="393.4" y="147.3" width="24.9" height="24.9" fill="#717171"/>
<rect x="418" y="147.3" width="74.1" height="24.9" fill="#676767"/>
<rect x="491.7" y="147.3" width="49.5" height="24.9" fill="#717171"/>
<rect x="540.9" y="147.3" width="24.9" height="24.9" fill="#848484"/>
<rect x="565.5" y="147.3" width="24.9" height="24.9" fill="#989898"/>
<rect x="590.1" y="147.3" width="24.9" height="24.9" fill="#b5b5b5"/>
<rect x="614.7" y="147.3" width="24.9" height="24.9" fill="#acacac"/>
<rect x="639.3" y="147.3" width="24.9" height="24.9" fill="#848484"/>
<rect x="663.8" y="147.3" width="24.9" height="24.9" fill="#535353"/>
<rect x="688.4" y="147.3" width="24.9" height="24.9" fill="#404040"/>
<rect x="713" y="147.3" width="64.9" height="24.9" fill="#535353"/>
<rect x="-40" y="171.9" width="64.9" height="24.9" fill="#676767"/>
<rect x="24.6" y="171.9" width="24.9" height="24.9" fill="#535353"/>
<rect x="49.2" y="171.9" width="24.9" height="24.9" fill="#676767"/>
<rect x="73.8" y="171.9" width="24.9" height="24.9" fill="#7b7b7b"/>
<rect x="98.3" y="171.9" width="24.9" height="24.9" fill="#8e8e8e"/>
<rect x="122.9" y="171.9" width="74.1" height="24.9" fill="#989898"/>
<rect x="196.7" y="171.9" width="24.9" height="24.9" fill="#acacac"/>
<rect x="221.3" y="171.9" width="24.9" height="24.9" fill="#c9c9c9"/>
<rect x="245.9" y="171.9" width="24.9" height="24.9" fill="#bfbfbf"/>
<rect x="270.5" y="171.9" width="24.9" height="24.9" fill="#a2a2a2"/>
<rect x="295" y="171.9" width="24.9" height="24.9" fill="#8e8e8e"/>
<rect x="319.6" y="171.9" width="74.1" height="24.9" fill="#676767"/>
<rect x="393.4" y="171.9" width="24.9" height="24.9" fill="#535353"/>
<rect x="418" y="171.9" width="24.9" height="24.9" fill="#4a4a4a"/>
<rect x="442.6" y="171.9" width="24.9" height="24.9" fill="#535353"/>
<rect x="467.1" y="171.9" width="24.9" height="24.9" fill="#4a4a4a"/>
<rect x="491.7" y="171.9" width="24.9" height="24.9" fill="#676767"/>
<rect x="516.3" y="171.9" width="24.9" height="24.9" fill="#7b7b7b"/>
<rect x="540.9" y="171.9" width="49.5" height="24.9" fill="#8e8e8e"/>
<rect x="590.1" y="171.9" width="49.5" height="24.9" fill="#989898"/>
<rect x="639.3" y="171.9" width="24.9" height="24.9" fill="#7b7b7b"/>
<rect x="663.8" y="171.9" width="24.9" height="24.9" fill="#535353"/>
<rect x="688.4" y="171.9" width="89.5" height="24.9" fill="#404040"/>
<rect x="-40" y="196.5" width="89.5" height="24.9" fill="#404040"/>
<rect x="49.2" y="196.5" width="24.9" height="24.9" fill="#4a4a4a"/>
<rect x="73.8" y="196.5" width="24.9" height="24.9" fill="#676767"/>
<rect x="98.3" y="196.5" width="24.9" height="24.9" fill="#535353"/>
<rect x="122.9" y="196.5" width="24.9" height="24.9" fill="#848484"/>
<rect x="147.5" y="196.5" width="24.9" height="24.9" fill="#8e8e8e"/>
<rect x="172.1" y="196.5" width="24.9" height="24.9" fill="#989898"/>
<rect x="196.7" y="196.5" width="24.9" height="24.9" fill="#bfbfbf"/>
<rect x="221.3" y="196.5" width="24.9" height="24.9" fill="#c9c9c9"/>
<rect x="245.9" y="196.5" width="24.9" height="24.9" fill="#acacac"/>
<rect x="270.5" y="196.5" width="24.9" height="24.9" fill="#989898"/>
<rect x="295" y="196.5" width="24.9" height="24.9" fill="#7b7b7b"/>
<rect x="319.6" y="196.5" width="74.1" height="24.9" fill="#4a4a4a"/>
<rect x="393.4" y="196.5" width="24.9" height="24.9" fill="#404040"/>
<rect x="418" y="196.5" width="24.9" height="24.9" fill="#4a4a4a"/>
<rect x="442.6" y="196.5" width="24.9" height="24.9" fill="#535353"/>
<rect x="467.1" y="196.5" width="24.9" height="24.9" fill="#4a4a4a"/>
<rect x="491.7" y="196.5" width="24.9" height="24.9" fill="#5d5d5d"/>
<rect x="516.3" y="196.5" width="24.9" height="24.9" fill="#7b7b7b"/>
<rect x="540.9" y="196.5" width="24.9" height="24.9" fill="#a2a2a2"/>
<rect x="565.5" y="196.5" width="24.9" height="24.9" fill="#989898"/>
<rect x="590.1" y="196.5" width="24.9" height="24.9" fill="#848484"/>
<rect x="614.7" y="196.5" width="24.9" height="24.9" fill="#717171"/>
<rect x="639.3" y="196.5" width="24.9" height="24.9" fill="#5d5d5d"/>
<rect x="663.8" y="196.5" width="24.9" height="24.9" fill="#4a4a4a"/>
<rect x="688.4" y="196.5" width="24.9" height="24.9" fill="#535353"/>
<rect x="713" y="196.5" width="64.9" height="24.9" fill="#676767"/>
<rect x="-40" y="221" width="64.9" height="24.9" fill="#717171"/>
<rect x="24.6" y="221" width="24.9" height="24.9" fill="#7b7b7b"/>
<rect x="49.2" y="221" width="24.9" height="24.9" fill="#848484"/>
<rect x="73.8" y="221" width="24.9" height="24.9" fill="#8e8e8e"/>
<rect x="98.3" y="221" width="24.9" height="24.9" fill="#acacac"/>
<rect x="122.9" y="221" width="49.5" height="24.9" fill="#bfbfbf"/>
<rect x="172.1" y="221" width="24.9" height="24.9" fill="#b5b5b5"/>
<rect x="196.7" y="221" width="49.5" height="24.9" fill="#a2a2a2"/>
<rect x="245.9" y="221" width="24.9" height="24.9" fill="#989898"/>
<rect x="270.5" y="221" width="24.9" height="24.9" fill="#8e8e8e"/>
<rect x="295" y="221" width="24.9" height="24.9" fill="#676767"/>
<rect x="319.6" y="221" width="24.9" height="24.9" fill="#4a4a4a"/>
<rect x="344.2" y="221" width="49.5" height="24.9" fill="#404040"/>
<rect x="393.4" y="221" width="24.9" height="24.9" fill="#535353"/>
<rect x="418" y="221" width="49.5" height="24.9" fill="#4a4a4a"/>
<rect x="467.1" y="221" width="24.9" height="24.9" fill="#535353"/>
<rect x="491.7" y="221" width="24.9" height="24.9" fill="#5d5d5d"/>
<rect x="516.3" y="221" width="24.9" height="24.9" fill="#717171"/>
<rect x="540.9" y="221" width="49.5" height="24.9" fill="#7b7b7b"/>
<rect x="590.1" y="221" width="24.9" height="24.9" fill="#717171"/>
<rect x="614.7" y="221" width="24.9" height="24.9" fill="#676767"/>
<rect x="639.3" y="221" width="49.5" height="24.9" fill="#5d5d5d"/>
<rect x="688.4" y="221" width="24.9" height="24.9" fill="#676767"/>
<rect x="713" y="221" width="64.9" height="24.9" fill="#717171"/>
<rect x="-40" y="245.6" width="64.9" height="24.9" fill="#989898"/>
<rect x="24.6" y="245.6" width="24.9" height="24.9" fill="#a2a2a2"/>
<rect x="49.2" y="245.6" width="49.5" height="24.9" fill="#acacac"/>
<rect x="98.3" y="245.6" width="49.5" height="24.9" fill="#bfbfbf"/>
<rect x="147.5" y="245.6" width="24.9" height="24.9" fill="#b5b5b5"/>
<rect x="172.1" y="245.6" width="24.9" height="24.9" fill="#a2a2a2"/>
<rect x="196.7" y="245.6" width="24.9" height="24.9" fill="#7b7b7b"/>
<rect x="221.3" y="245.6" width="24.9" height="24.9" fill="#5d5d5d"/>
<rect x="245.9" y="245.6" width="49.5" height="24.9" fill="#717171"/>
<rect x="295" y="245.6" width="49.5" height="24.9" fill="#4a4a4a"/>
<rect x="344.2" y="245.6" width="49.5" height="24.9" fill="#404040"/>
<rect x="393.4" y="245.6" width="49.5" height="24.9" fill="#535353"/>
<rect x="442.6" y="245.6" width="49.5" height="24.9" fill="#4a4a4a"/>
<rect x="491.7" y="245.6" width="24.9" height="24.9" fill="#404040"/>
<rect x="516.3" y="245.6" width="24.9" height="24.9" fill="#4a4a4a"/>
<rect x="540.9" y="245.6" width="24.9" height="24.9" fill="#676767"/>
<rect x="565.5" y="245.6" width="24.9" height="24.9" fill="#535353"/>
<rect x="590.1" y="245.6" width="24.9" height="24.9" fill="#676767"/>
<rect x="614.7" y="245.6" width="74.1" height="24.9" fill="#5d5d5d"/>
<rect x="688.4" y="245.6" width="24.9" height="24.9" fill="#676767"/>
<rect x="713" y="245.6" width="64.9" height="24.9" fill="#717171"/>
<rect x="-40" y="270.1" width="89.5" height="24.9" fill="#c9c9c9"/>
<rect x="49.2" y="270.1" width="24.9" height="24.9" fill="#bfbfbf"/>
<rect x="73.8" y="270.1" width="24.9" height="24.9" fill="#b5b5b5"/>
<rect x="98.3" y="270.1" width="24.9" height="24.9" fill="#acacac"/>
<rect x="122.9" y="270.1" width="49.5" height="24.9" fill="#a2a2a2"/>
<rect x="172.1" y="270.1" width="24.9" height="24.9" fill="#989898"/>
<rect x="196.7" y="270.1" width="24.9" height="24.9" fill="#717171"/>
<rect x="221.3" y="270.1" width="24.9" height="24.9" fill="#676767"/>
<rect x="245.9" y="270.1" width="24.9" height="24.9" fill="#717171"/>
<rect x="270.5" y="270.1" width="24.9" height="24.9" fill="#676767"/>
<rect x="295" y="270.1" width="24.9" height="24.9" fill="#404040"/>
<rect x="319.6" y="270.1" width="24.9" height="24.9" fill="#535353"/>
<rect x="344.2" y="270.1" width="24.9" height="24.9" fill="#5d5d5d"/>
<rect x="368.8" y="270.1" width="24.9" height="24.9" fill="#8e8e8e"/>
<rect x="393.4" y="270.1" width="24.9" height="24.9" fill="#acacac"/>
<rect x="418" y="270.1" width="24.9" height="24.9" fill="#b5b5b5"/>
<rect x="442.6" y="270.1" width="24.9" height="24.9" fill="#bfbfbf"/>
<rect x="467.1" y="270.1" width="24.9" height="24.9" fill="#b5b5b5"/>
<rect x="491.7" y="270.1" width="24.9" height="24.9" fill="#676767"/>
<rect x="516.3" y="270.1" width="49.5" height="24.9" fill="#4a4a4a"/>
<rect x="565.5" y="270.1" width="24.9" height="24.9" fill="#404040"/>
<rect x="590.1" y="270.1" width="98.6" height="24.9" fill="#5d5d5d"/>
<rect x="688.4" y="270.1" width="24.9" height="24.9" fill="#676767"/>
<rect x="713" y="270.1" width="64.9" height="24.9" fill="#717171"/>
<rect x="-40" y="294.7" width="114.1" height="24.9" fill="#c9c9c9"/>
<rect x="73.8" y="294.7" width="24.9" height="24.9" fill="#bfbfbf"/>
<rect x="98.3" y="294.7" width="24.9" height="24.9" fill="#b5b5b5"/>
<rect x="122.9" y="294.7" width="24.9" height="24.9" fill="#acacac"/>
<rect x="147.5" y="294.7" width="24.9" height="24.9" fill="#bfbfbf"/>
<rect x="172.1" y="294.7" width="24.9" height="24.9" fill="#b5b5b5"/>
<rect x="196.7" y="294.7" width="24.9" height="24.9" fill="#848484"/>
<rect x="221.3" y="294.7" width="24.9" height="24.9" fill="#717171"/>
<rect x="245.9" y="294.7" width="24.9" height="24.9" fill="#848484"/>
<rect x="270.5" y="294.7" width="24.9" height="24.9" fill="#676767"/>
<rect x="295" y="294.7" width="24.9" height="24.9" fill="#404040"/>
<rect x="319.6" y="294.7" width="24.9" height="24.9" fill="#5d5d5d"/>
<rect x="344.2" y="294.7" width="24.9" height="24.9" fill="#676767"/>
<rect x="368.8" y="294.7" width="24.9" height="24.9" fill="#989898"/>
<rect x="393.4" y="294.7" width="24.9" height="24.9" fill="#acacac"/>
<rect x="418" y="294.7" width="49.5" height="24.9" fill="#a2a2a2"/>
<rect x="467.1" y="294.7" width="24.9" height="24.9" fill="#b5b5b5"/>
<rect x="491.7" y="294.7" width="24.9" height="24.9" fill="#717171"/>
<rect x="516.3" y="294.7" width="24.9" height="24.9" fill="#404040"/>
<rect x="540.9" y="294.7" width="24.9" height="24.9" fill="#535353"/>
<rect x="565.5" y="294.7" width="24.9" height="24.9" fill="#404040"/>
<rect x="590.1" y="294.7" width="74.1" height="24.9" fill="#5d5d5d"/>
<rect x="663.8" y="294.7" width="24.9" height="24.9" fill="#676767"/>
<rect x="688.4" y="294.7" width="24.9" height="24.9" fill="#717171"/>
<rect x="713" y="294.7" width="64.9" height="24.9" fill="#848484"/>
<rect x="-40" y="319.2" width="114.1" height="64.9" fill="#c9c9c9"/>
<rect x="73.8" y="319.2" width="24.9" height="64.9" fill="#bfbfbf"/>
<rect x="98.3" y="319.2" width="74.1" height="64.9" fill="#b5b5b5"/>
<rect x="172.1" y="319.2" width="24.9" height="64.9" fill="#a2a2a2"/>
<rect x="196.7" y="319.2" width="24.9" height="64.9" fill="#848484"/>
<rect x="221.3" y="319.2" width="24.9" height="64.9" fill="#717171"/>
<rect x="245.9" y="319.2" width="24.9" height="64.9" fill="#7b7b7b"/>
<rect x="270.5" y="319.2" width="24.9" height="64.9" fill="#717171"/>
<rect x="295" y="319.2" width="24.9" height="64.9" fill="#676767"/>
<rect x="319.6" y="319.2" width="24.9" height="64.9" fill="#717171"/>
<rect x="344.2" y="319.2" width="49.5" height="64.9" fill="#8e8e8e"/>
<rect x="393.4" y="319.2" width="24.9" height="64.9" fill="#b5b5b5"/>
<rect x="418" y="319.2" width="24.9" height="64.9" fill="#acacac"/>
<rect x="442.6" y="319.2" width="24.9" height="64.9" fill="#989898"/>
<rect x="467.1" y="319.2" width="24.9" height="64.9" fill="#acacac"/>
<rect x="491.7" y="319.2" width="24.9" height="64.9" fill="#535353"/>
<rect x="516.3" y="319.2" width="49.5" height="64.9" fill="#404040"/>
<rect x="565.5" y="319.2" width="24.9" height="64.9" fill="#535353"/>
<rect x="590.1" y="319.2" width="24.9" height="64.9" fill="#5d5d5d"/>
<rect x="614.7" y="319.2" width="49.5" height="64.9" fill="#676767"/>
<rect x="663.8" y="319.2" width="24.9" height="64.9" fill="#717171"/>
<rect x="688.4" y="319.2" width="24.9" height="64.9" fill="#7b7b7b"/>
<rect x="713" y="319.2" width="64.9" height="64.9" fill="#8e8e8e"/>
<ellipse cx="61.8" cy="140.8" rx="32.1" ry="10.7" fill="#4a4a4a"/>
<ellipse cx="115.3" cy="106.6" rx="21.4" ry="6.4" fill="#4a4a4a"/>
<ellipse cx="250.1" cy="157.9" rx="21.4" ry="15" fill="#a2a2a2"/>
<ellipse cx="636.2" cy="31.7" rx="74.9" ry="6" fill="#7b7b7b"/>
<ellipse cx="565.6" cy="136.5" rx="19.3" ry="8.6" fill="#bfbfbf"/>
<ellipse cx="614.8" cy="162.2" rx="15" ry="8.6" fill="#bfbfbf"/>
<ellipse cx="482.2" cy="74.5" rx="15" ry="6.4" fill="#535353"/>
<polygon points="53.3,261.4 85.4,257.2 111,261.4 128.1,278.6 149.5,291.4 181.6,295.7 192.3,310.6 188,334.2 170.9,347 76.8,347 89.6,321.3 85.4,299.9 68.3,278.6" fill="#bfbfbf" stroke="#bfbfbf" stroke-width="3" stroke-linejoin="round"/>
<polygon points="196.6,203.7 205.2,184.4 224.4,175.9 256.5,175.9 277.9,184.4 282.2,199.4 267.2,214.4 245.8,225.1 224.4,231.5 203,227.2" fill="#bfbfbf" stroke="#bfbfbf" stroke-width="3" stroke-linejoin="round"/>
<polygon points="106.8,244.3 123.9,235.8 149.5,235.8 175.2,237.9 188,244.3 170.9,252.9 145.3,255 119.6,257.2 106.8,252.9" fill="#c9c9c9" stroke="#c9c9c9" stroke-width="3" stroke-linejoin="round"/>
<ellipse cx="561.3" cy="201.5" rx="19.3" ry="12.8" fill="#a2a2a2"/>
<ellipse cx="614.8" cy="173.7" rx="15" ry="8.6" fill="#b5b5b5"/>
<polygon points="381.6,278.6 411.6,272.1 443.7,267.9 465.1,270 488.6,282.8 501.4,304.2 497.1,325.6 480,334.2 471.5,321.3 480,304.2 465.1,295.7 443.7,295.7 422.3,291.4 411.6,299.9 400.9,317.1 411.6,329.9 428.7,338.5 411.6,342.7 390.2,325.6 385.9,304.2" fill="#bfbfbf" stroke="#bfbfbf" stroke-width="3" stroke-linejoin="round"/>
<ellipse cx="435.1" cy="312.8" rx="12.8" ry="8.6" fill="#989898"/>
<ellipse cx="462.9" cy="308.5" rx="8.6" ry="8.6" fill="#989898"/>
</g>
<polygon points="-10.9,-11.1 379.5,-11.1 379.5,75.5 352.8,78.7 333.5,83 316.4,89.4 299.3,93.7 282.2,98 267.2,95.9 252.2,89.4 245.8,80.9 235.1,73.4 213.7,72.3 192.3,72.3 170.9,71.3 149.5,70.2 128.1,70.2 106.8,68.1 89.6,63.8 85.4,55.2 96.1,48.8 117.5,42.4 138.8,36 117.5,31.7 85.4,28.5 42.6,26.3 -10.9,25.3" fill="#f5f5f5" stroke="#f5f5f5" stroke-width="3" stroke-linejoin="round"/>
<ellipse cx="21.2" cy="44.5" rx="19.3" ry="7.5" fill="#7b7b7b"/>
<polygon points="119.6,136.5 136.7,127.9 162.4,123.7 192.3,119.4 213.7,115.1 235.1,113 256.5,113 277.9,110.8 299.3,108.7 310,110.8 320.7,119.4 342.1,123.7 379.5,121.5 379.5,147.2 352.8,145.1 320.7,142.9 299.3,145.1 282.2,136.5 267.2,130.1 245.8,127.9 230.8,132.2 218,142.9 205.2,153.6 188,160 162.4,162.2 136.7,157.9 123.9,149.3" fill="#0a0a0a" stroke="#0a0a0a" stroke-width="3" stroke-linejoin="round"/>
<polygon points="358.1,-11.1 614.8,-11.1 582.7,9.2 561.3,12.4 544.2,18.9 531.4,27.4 518.5,38.1 497.1,44.5 475.8,48.8 454.4,53.1 433,57.4 411.6,61.6 390.2,65.9 358.1,71.3" fill="#f5f5f5" stroke="#f5f5f5" stroke-width="3" stroke-linejoin="round"/>
<polygon points="582.7,3.9 748.5,3.9 748.5,9.9 582.7,10.3" fill="#bfbfbf" stroke="#bfbfbf" stroke-width="3" stroke-linejoin="round"/>
<polygon points="358.1,125.8 390.2,125.8 411.6,130.1 418,138.6 400.9,145.1 358.1,145.1" fill="#0a0a0a" stroke="#0a0a0a" stroke-width="3" stroke-linejoin="round"/>
<polygon points="685.4,115.1 693.9,108.7 711.1,113 726,123.7 719.6,132.2 702.5,127.9 689.7,123.7" fill="#0a0a0a" stroke="#0a0a0a" stroke-width="3" stroke-linejoin="round"/>
<ellipse cx="649" cy="134.4" rx="19.3" ry="7.5" fill="#2c2c2c"/>
<polygon points="672.6,162.2 689.7,153.6 711.1,155.8 723.9,166.5 719.6,181.4 672.6,181.4" fill="#0a0a0a" stroke="#0a0a0a" stroke-width="3" stroke-linejoin="round"/>
<polygon points="702.5,80.9 715.3,72.3 748.5,68.1 748.5,93.7 721.8,91.6" fill="#0a0a0a" stroke="#0a0a0a" stroke-width="3" stroke-linejoin="round"/>
<polygon points="-10.9,274.3 12.6,265.7 31.9,261.4 46.9,265.7 59.7,278.6 74.7,291.4 85.4,308.5 85.4,325.6 76.8,353.4 -10.9,353.4" fill="#f5f5f5" stroke="#f5f5f5" stroke-width="3" stroke-linejoin="round"/>
<polygon points="203,210.1 209.4,195.1 224.4,184.4 245.8,182.3 256.5,188.7 245.8,201.5 235.1,214.4 218,222.9 205.2,220.8" fill="#f5f5f5" stroke="#f5f5f5" stroke-width="3" stroke-linejoin="round"/>
<polygon points="4.1,203.7 16.9,193 34,193 42.6,201.5 59.7,203.7 64,212.2 42.6,214.4 21.2,218.7 6.2,214.4" fill="#191919" stroke="#191919" stroke-width="3" stroke-linejoin="round"/>
<ellipse cx="111" cy="212.2" rx="5.3" ry="5.3" fill="#2c2c2c"/>
<ellipse cx="307.8" cy="285" rx="12.8" ry="19.3" fill="#2c2c2c"/>
<ellipse cx="331.4" cy="268.9" rx="5.3" ry="5.3" fill="#2c2c2c"/>
<ellipse cx="359.2" cy="257.2" rx="12.8" ry="5.3" fill="#363636"/>
<ellipse cx="368.8" cy="206.9" rx="6.4" ry="8.6" fill="#2c2c2c"/>
<polygon points="379.5,208 390.2,197.3 411.6,190.9 437.3,190.9 460.8,195.1 454.4,203.7 439.4,208 433,214.4 411.6,216.5 394.5,214.4" fill="#0a0a0a" stroke="#0a0a0a" stroke-width="3" stroke-linejoin="round"/>
<polygon points="473.6,195.1 484.3,188.7 497.1,195.1 507.8,208 516.4,220.8 505.7,227.2 492.9,220.8 480,210.1" fill="#0a0a0a" stroke="#0a0a0a" stroke-width="3" stroke-linejoin="round"/>
<polygon points="358.1,222.9 390.2,225.1 407.3,233.6 411.6,246.5 400.9,257.2 379.5,261.4 358.1,257.2" fill="#0a0a0a" stroke="#0a0a0a" stroke-width="3" stroke-linejoin="round"/>
<polygon points="420.1,233.6 439.4,229.4 458.6,233.6 471.5,242.2 469.3,255 454.4,257.2 437.3,252.9 424.4,244.3" fill="#0a0a0a" stroke="#0a0a0a" stroke-width="3" stroke-linejoin="round"/>
<polygon points="484.3,248.6 501.4,252.9 518.5,261.4 518.5,282.8 507.8,274.3 497.1,261.4" fill="#0a0a0a" stroke="#0a0a0a" stroke-width="3" stroke-linejoin="round"/>
<polygon points="561.3,278.6 572,267.9 591.3,265.7 591.3,321.3 572,329.9 550.6,338.5 531.4,353.4 510,353.4 507.8,329.9 518.5,319.2 531.4,321.3 550.6,317.1 567.7,304.2 572,291.4" fill="#0a0a0a" stroke="#0a0a0a" stroke-width="3" stroke-linejoin="round"/>
<ellipse cx="533.5" cy="259.3" rx="4.3" ry="4.3" fill="#2c2c2c"/>
<ellipse cx="535.7" cy="295.7" rx="8.6" ry="5.3" fill="#2c2c2c" transform="rotate(45 535.7 295.7)"/>
<ellipse cx="522.8" cy="272.1" rx="4.3" ry="5.3" fill="#2c2c2c"/>
<polygon points="668.3,160.9 748.5,160.9 732.5,184.4 721.8,199.4 706.8,208 689.7,199.4 676.8,184.4" fill="#0a0a0a" stroke="#0a0a0a" stroke-width="3" stroke-linejoin="round"/>
<ellipse cx="462.9" cy="280.7" rx="8.6" ry="4.3" fill="#d3d3d3"/>
</g>
<use href="#coast"/>
</g>
<path class="gd" d="M147.5 122H442.6V24.6H147.5Z"/>
<path class="gd" d="M295 245.6H590.1V147.3H295Z"/>
<path class="gs" d="M516.3 245.6H590.1V319.2H516.3Z"/>
<rect class="fr" x="0" y="0" width="737.6" height="343.8"/>
<path class="mj" d="M0 343.8v12.8M147.5 343.8v12.8M295 343.8v12.8M442.6 343.8v12.8M590.1 343.8v12.8M737.6 343.8v12.8M0 294.7h-12.6M0 147.3h-12.6M0 0h-12.6"/>
<path class="mn" d="M49.2 343.8v6.8M98.3 343.8v6.8M196.7 343.8v6.8M245.9 343.8v6.8M344.2 343.8v6.8M393.4 343.8v6.8M491.7 343.8v6.8M540.9 343.8v6.8M639.3 343.8v6.8M688.4 343.8v6.8M0 343.8h-6.6M0 245.6h-6.6M0 196.5h-6.6M0 98.2h-6.6M0 49.1h-6.6"/>
<text class="tk" x="0" y="394.4" text-anchor="middle">0<tspan class="dg" dx="0.9" dy="-3.4">°</tspan></text>
<text class="tk" x="147.5" y="394.4" text-anchor="middle">30<tspan class="dg" dx="0.9" dy="-3.4">°</tspan><tspan dx="0.7" dy="3.4">E</tspan></text>
<text class="tk" x="295" y="394.4" text-anchor="middle">60<tspan class="dg" dx="0.9" dy="-3.4">°</tspan><tspan dx="0.7" dy="3.4">E</tspan></text>
<text class="tk" x="442.6" y="394.4" text-anchor="middle">90<tspan class="dg" dx="0.9" dy="-3.4">°</tspan><tspan dx="0.7" dy="3.4">E</tspan></text>
<text class="tk" x="590.1" y="394.4" text-anchor="middle">120<tspan class="dg" dx="0.9" dy="-3.4">°</tspan><tspan dx="0.7" dy="3.4">E</tspan></text>
<text class="tk" x="737.6" y="394.4" text-anchor="middle">150<tspan class="dg" dx="0.9" dy="-3.4">°</tspan><tspan dx="0.7" dy="3.4">E</tspan></text>
<text class="tk" x="-27.6" y="304.3" text-anchor="end">30<tspan class="dg" dx="0.9" dy="-3.4">°</tspan><tspan dx="0.7" dy="3.4">N</tspan></text>
<text class="tk" x="-27.6" y="156.9" text-anchor="end">60<tspan class="dg" dx="0.9" dy="-3.4">°</tspan><tspan dx="0.7" dy="3.4">N</tspan></text>
<text class="tk" x="-27.6" y="9.6" text-anchor="end">90<tspan class="dg" dx="0.9" dy="-3.4">°</tspan><tspan dx="0.7" dy="3.4">N</tspan></text>
<text class="tt" x="-2.6" y="-12.3">(h) Jan 9</text>
<text class="tt" y="-12.3"><tspan x="416.8">RSAT</tspan> <tspan x="511.7">=</tspan> <tspan class="r" x="537.2">7.7</tspan> <tspan class="b" x="596.6">-3.4</tspan> <tspan class="b" x="661">-6.9</tspan></text>
</g>
<!-- colorbar -->
<rect x="431.8" y="1770.3" width="47.8" height="29.1" fill="rgb(36,0,216)" stroke="#000" stroke-width="1.2"/>
<rect x="479.6" y="1770.3" width="47.8" height="29.1" fill="rgb(24,28,247)" stroke="#000" stroke-width="1.2"/>
<rect x="527.5" y="1770.3" width="47.8" height="29.1" fill="rgb(40,87,255)" stroke="#000" stroke-width="1.2"/>
<rect x="575.3" y="1770.3" width="47.8" height="29.1" fill="rgb(61,135,255)" stroke="#000" stroke-width="1.2"/>
<rect x="623.2" y="1770.3" width="47.8" height="29.1" fill="rgb(86,176,255)" stroke="#000" stroke-width="1.2"/>
<rect x="671" y="1770.3" width="47.8" height="29.1" fill="rgb(117,211,255)" stroke="#000" stroke-width="1.2"/>
<rect x="718.9" y="1770.3" width="47.8" height="29.1" fill="rgb(153,234,255)" stroke="#000" stroke-width="1.2"/>
<rect x="766.7" y="1770.3" width="47.8" height="29.1" fill="rgb(188,249,255)" stroke="#000" stroke-width="1.2"/>
<rect x="814.6" y="1770.3" width="47.8" height="29.1" fill="rgb(234,255,255)" stroke="#000" stroke-width="1.2"/>
<rect x="862.4" y="1770.3" width="47.8" height="29.1" fill="rgb(255,255,234)" stroke="#000" stroke-width="1.2"/>
<rect x="910.2" y="1770.3" width="47.8" height="29.1" fill="rgb(255,241,188)" stroke="#000" stroke-width="1.2"/>
<rect x="958.1" y="1770.3" width="47.8" height="29.1" fill="rgb(255,214,153)" stroke="#000" stroke-width="1.2"/>
<rect x="1005.9" y="1770.3" width="47.8" height="29.1" fill="rgb(255,172,117)" stroke="#000" stroke-width="1.2"/>
<rect x="1053.8" y="1770.3" width="47.8" height="29.1" fill="rgb(255,120,86)" stroke="#000" stroke-width="1.2"/>
<rect x="1101.6" y="1770.3" width="47.8" height="29.1" fill="rgb(255,61,61)" stroke="#000" stroke-width="1.2"/>
<rect x="1149.5" y="1770.3" width="47.8" height="29.1" fill="rgb(247,39,53)" stroke="#000" stroke-width="1.2"/>
<rect x="1197.3" y="1770.3" width="47.8" height="29.1" fill="rgb(216,21,47)" stroke="#000" stroke-width="1.2"/>
<rect x="1245.2" y="1770.3" width="47.8" height="29.1" fill="rgb(165,0,33)" stroke="#000" stroke-width="1.2"/>
<text class="cb" x="479.6" y="1829.6" text-anchor="middle">-8</text>
<text class="cb" x="527.5" y="1829.6" text-anchor="middle">-7</text>
<text class="cb" x="575.3" y="1829.6" text-anchor="middle">-6</text>
<text class="cb" x="623.2" y="1829.6" text-anchor="middle">-5</text>
<text class="cb" x="671" y="1829.6" text-anchor="middle">-4</text>
<text class="cb" x="718.9" y="1829.6" text-anchor="middle">-3</text>
<text class="cb" x="766.7" y="1829.6" text-anchor="middle">-2</text>
<text class="cb" x="814.6" y="1829.6" text-anchor="middle">-1</text>
<text class="cb" x="862.4" y="1829.6" text-anchor="middle">0</text>
<text class="cb" x="910.2" y="1829.6" text-anchor="middle">1</text>
<text class="cb" x="958.1" y="1829.6" text-anchor="middle">2</text>
<text class="cb" x="1005.9" y="1829.6" text-anchor="middle">3</text>
<text class="cb" x="1053.8" y="1829.6" text-anchor="middle">4</text>
<text class="cb" x="1101.6" y="1829.6" text-anchor="middle">5</text>
<text class="cb" x="1149.5" y="1829.6" text-anchor="middle">6</text>
<text class="cb" x="1197.3" y="1829.6" text-anchor="middle">7</text>
<text class="cb" x="1245.2" y="1829.6" text-anchor="middle">8</text>
</svg></body></html>
